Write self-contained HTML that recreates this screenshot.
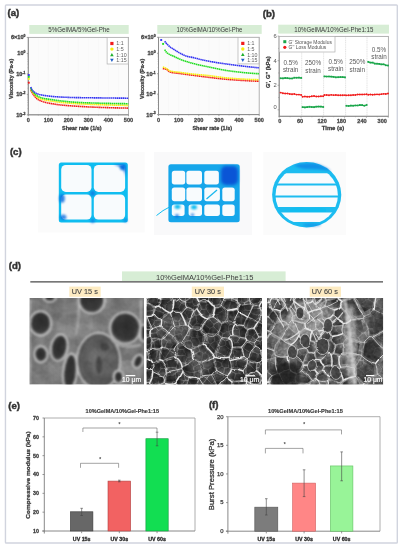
<!DOCTYPE html>
<html><head><meta charset="utf-8"><title>Figure</title>
<style>
html,body{margin:0;padding:0;background:#ffffff;}
body{width:403px;height:550px;overflow:hidden;}
svg{display:block;font-family:'Liberation Sans', Arial, Helvetica, sans-serif;}
</style></head>
<body>
<svg width="403" height="550" viewBox="0 0 403 550">
<rect x="0" y="0" width="403" height="550" fill="#ffffff"/>
<rect x="5.45" y="5.00" width="391.85" height="538.00" fill="none" stroke="#d1d4de" stroke-width="1.4" rx="0.8"/>
<text x="7.60" y="16.20" font-size="9.6" text-anchor="start" font-weight="bold" fill="#333333" stroke="#333333" stroke-width="0.45" >(a)</text>
<text x="262.70" y="16.60" font-size="9.6" text-anchor="start" font-weight="bold" fill="#333333" stroke="#333333" stroke-width="0.45" >(b)</text>
<text x="9.90" y="154.80" font-size="9.6" text-anchor="start" font-weight="bold" fill="#333333" stroke="#333333" stroke-width="0.45" >(c)</text>
<text x="8.80" y="269.20" font-size="9.6" text-anchor="start" font-weight="bold" fill="#333333" stroke="#333333" stroke-width="0.45" >(d)</text>
<text x="8.20" y="408.50" font-size="9.6" text-anchor="start" font-weight="bold" fill="#333333" stroke="#333333" stroke-width="0.45" >(e)</text>
<text x="208.90" y="408.40" font-size="9.6" text-anchor="start" font-weight="bold" fill="#333333" stroke="#333333" stroke-width="0.45" >(f)</text>
<rect x="29.30" y="25.00" width="99.40" height="8.90" fill="#d7edd5" stroke="none" stroke-width="0" />
<text x="79.00" y="32.30" font-size="6.9" text-anchor="middle" font-weight="normal" fill="#3c3c3c" textLength="61.5" lengthAdjust="spacingAndGlyphs">5%GelMA/5%Gel-Phe</text>
<rect x="28.30" y="37.40" width="100.20" height="77.40" fill="#fbfbfb" stroke="none" stroke-width="0" />
<line x1="38.32" y1="37.40" x2="38.32" y2="114.80" stroke="#f6f6f6" stroke-width="0.4" />
<line x1="48.34" y1="37.40" x2="48.34" y2="114.80" stroke="#f6f6f6" stroke-width="0.4" />
<line x1="58.36" y1="37.40" x2="58.36" y2="114.80" stroke="#f6f6f6" stroke-width="0.4" />
<line x1="68.38" y1="37.40" x2="68.38" y2="114.80" stroke="#f6f6f6" stroke-width="0.4" />
<line x1="78.40" y1="37.40" x2="78.40" y2="114.80" stroke="#f6f6f6" stroke-width="0.4" />
<line x1="88.42" y1="37.40" x2="88.42" y2="114.80" stroke="#f6f6f6" stroke-width="0.4" />
<line x1="98.44" y1="37.40" x2="98.44" y2="114.80" stroke="#f6f6f6" stroke-width="0.4" />
<line x1="108.46" y1="37.40" x2="108.46" y2="114.80" stroke="#f6f6f6" stroke-width="0.4" />
<line x1="118.48" y1="37.40" x2="118.48" y2="114.80" stroke="#f6f6f6" stroke-width="0.4" />
<rect x="28.30" y="37.40" width="100.20" height="77.40" fill="none" stroke="#a8a8a8" stroke-width="0.9" />
<line x1="28.30" y1="37.40" x2="28.30" y2="115.30" stroke="#8c8c8c" stroke-width="1.0" />
<line x1="27.80" y1="114.80" x2="128.50" y2="114.80" stroke="#8c8c8c" stroke-width="1.0" />
<line x1="26.80" y1="114.80" x2="28.30" y2="114.80" stroke="#8c8c8c" stroke-width="0.8" />
<text x="25.40" y="116.80" font-size="5.6" text-anchor="end" font-weight="bold" fill="#444444" stroke="#444444" stroke-width="0.32" >10<tspan dy="-2.2" font-size="3.4">-3</tspan></text>
<line x1="26.80" y1="94.35" x2="28.30" y2="94.35" stroke="#8c8c8c" stroke-width="0.8" />
<text x="25.40" y="96.35" font-size="5.6" text-anchor="end" font-weight="bold" fill="#444444" stroke="#444444" stroke-width="0.32" >10<tspan dy="-2.2" font-size="3.4">-2</tspan></text>
<line x1="26.80" y1="73.90" x2="28.30" y2="73.90" stroke="#8c8c8c" stroke-width="0.8" />
<text x="25.40" y="75.90" font-size="5.6" text-anchor="end" font-weight="bold" fill="#444444" stroke="#444444" stroke-width="0.32" >10<tspan dy="-2.2" font-size="3.4">-1</tspan></text>
<line x1="26.80" y1="53.45" x2="28.30" y2="53.45" stroke="#8c8c8c" stroke-width="0.8" />
<text x="25.40" y="55.45" font-size="5.6" text-anchor="end" font-weight="bold" fill="#444444" stroke="#444444" stroke-width="0.32" >10<tspan dy="-2.2" font-size="3.4">0</tspan></text>
<line x1="26.80" y1="37.40" x2="28.30" y2="37.40" stroke="#8c8c8c" stroke-width="0.8" />
<text x="25.40" y="39.40" font-size="5.6" text-anchor="end" font-weight="bold" fill="#444444" stroke="#444444" stroke-width="0.32" >6×10<tspan dy="-2.2" font-size="3.4">0</tspan></text>
<line x1="27.50" y1="108.64" x2="28.30" y2="108.64" stroke="#8c8c8c" stroke-width="0.5" />
<line x1="27.50" y1="105.04" x2="28.30" y2="105.04" stroke="#8c8c8c" stroke-width="0.5" />
<line x1="27.50" y1="102.49" x2="28.30" y2="102.49" stroke="#8c8c8c" stroke-width="0.5" />
<line x1="27.50" y1="100.51" x2="28.30" y2="100.51" stroke="#8c8c8c" stroke-width="0.5" />
<line x1="27.50" y1="98.89" x2="28.30" y2="98.89" stroke="#8c8c8c" stroke-width="0.5" />
<line x1="27.50" y1="97.52" x2="28.30" y2="97.52" stroke="#8c8c8c" stroke-width="0.5" />
<line x1="27.50" y1="96.33" x2="28.30" y2="96.33" stroke="#8c8c8c" stroke-width="0.5" />
<line x1="27.50" y1="95.29" x2="28.30" y2="95.29" stroke="#8c8c8c" stroke-width="0.5" />
<line x1="27.50" y1="88.19" x2="28.30" y2="88.19" stroke="#8c8c8c" stroke-width="0.5" />
<line x1="27.50" y1="84.59" x2="28.30" y2="84.59" stroke="#8c8c8c" stroke-width="0.5" />
<line x1="27.50" y1="82.04" x2="28.30" y2="82.04" stroke="#8c8c8c" stroke-width="0.5" />
<line x1="27.50" y1="80.06" x2="28.30" y2="80.06" stroke="#8c8c8c" stroke-width="0.5" />
<line x1="27.50" y1="78.44" x2="28.30" y2="78.44" stroke="#8c8c8c" stroke-width="0.5" />
<line x1="27.50" y1="77.07" x2="28.30" y2="77.07" stroke="#8c8c8c" stroke-width="0.5" />
<line x1="27.50" y1="75.88" x2="28.30" y2="75.88" stroke="#8c8c8c" stroke-width="0.5" />
<line x1="27.50" y1="74.84" x2="28.30" y2="74.84" stroke="#8c8c8c" stroke-width="0.5" />
<line x1="27.50" y1="67.74" x2="28.30" y2="67.74" stroke="#8c8c8c" stroke-width="0.5" />
<line x1="27.50" y1="64.14" x2="28.30" y2="64.14" stroke="#8c8c8c" stroke-width="0.5" />
<line x1="27.50" y1="61.59" x2="28.30" y2="61.59" stroke="#8c8c8c" stroke-width="0.5" />
<line x1="27.50" y1="59.61" x2="28.30" y2="59.61" stroke="#8c8c8c" stroke-width="0.5" />
<line x1="27.50" y1="57.99" x2="28.30" y2="57.99" stroke="#8c8c8c" stroke-width="0.5" />
<line x1="27.50" y1="56.62" x2="28.30" y2="56.62" stroke="#8c8c8c" stroke-width="0.5" />
<line x1="27.50" y1="55.43" x2="28.30" y2="55.43" stroke="#8c8c8c" stroke-width="0.5" />
<line x1="27.50" y1="54.39" x2="28.30" y2="54.39" stroke="#8c8c8c" stroke-width="0.5" />
<line x1="28.30" y1="114.80" x2="28.30" y2="116.30" stroke="#8c8c8c" stroke-width="0.8" />
<text x="28.30" y="122.40" font-size="5.6" text-anchor="middle" font-weight="bold" fill="#4a4a4a" stroke="#4a4a4a" stroke-width="0.28" >0</text>
<line x1="48.34" y1="114.80" x2="48.34" y2="116.30" stroke="#8c8c8c" stroke-width="0.8" />
<text x="48.34" y="122.40" font-size="5.6" text-anchor="middle" font-weight="bold" fill="#4a4a4a" stroke="#4a4a4a" stroke-width="0.28" >100</text>
<line x1="68.38" y1="114.80" x2="68.38" y2="116.30" stroke="#8c8c8c" stroke-width="0.8" />
<text x="68.38" y="122.40" font-size="5.6" text-anchor="middle" font-weight="bold" fill="#4a4a4a" stroke="#4a4a4a" stroke-width="0.28" >200</text>
<line x1="88.42" y1="114.80" x2="88.42" y2="116.30" stroke="#8c8c8c" stroke-width="0.8" />
<text x="88.42" y="122.40" font-size="5.6" text-anchor="middle" font-weight="bold" fill="#4a4a4a" stroke="#4a4a4a" stroke-width="0.28" >300</text>
<line x1="108.46" y1="114.80" x2="108.46" y2="116.30" stroke="#8c8c8c" stroke-width="0.8" />
<text x="108.46" y="122.40" font-size="5.6" text-anchor="middle" font-weight="bold" fill="#4a4a4a" stroke="#4a4a4a" stroke-width="0.28" >400</text>
<line x1="128.50" y1="114.80" x2="128.50" y2="116.30" stroke="#8c8c8c" stroke-width="0.8" />
<text x="128.50" y="122.40" font-size="5.6" text-anchor="middle" font-weight="bold" fill="#4a4a4a" stroke="#4a4a4a" stroke-width="0.28" >500</text>
<line x1="38.32" y1="114.80" x2="38.32" y2="115.70" stroke="#8c8c8c" stroke-width="0.5" />
<line x1="58.36" y1="114.80" x2="58.36" y2="115.70" stroke="#8c8c8c" stroke-width="0.5" />
<line x1="78.40" y1="114.80" x2="78.40" y2="115.70" stroke="#8c8c8c" stroke-width="0.5" />
<line x1="98.44" y1="114.80" x2="98.44" y2="115.70" stroke="#8c8c8c" stroke-width="0.5" />
<line x1="118.48" y1="114.80" x2="118.48" y2="115.70" stroke="#8c8c8c" stroke-width="0.5" />
<text x="81.80" y="130.20" font-size="5.8" text-anchor="middle" font-weight="bold" fill="#3a3a3a" stroke="#3a3a3a" stroke-width="0.28" textLength="39.6" lengthAdjust="spacingAndGlyphs">Shear rate (1/s)</text>
<text x="0.00" y="0.00" font-size="6.0" text-anchor="middle" font-weight="bold" fill="#3a3a3a" stroke="#3a3a3a" stroke-width="0.28" transform="translate(13.30,78.90) rotate(-90)" textLength="40.4" lengthAdjust="spacingAndGlyphs">Viscosity (Pa·s)</text>
<polyline points="30.70,90.00 31.94,92.23 33.17,94.32 34.41,96.00 35.64,97.43 36.88,98.67 38.11,99.63 39.35,100.30 40.58,100.86 41.82,101.32 43.05,101.72 44.29,102.08 45.53,102.41 46.76,102.70 48.00,102.96 49.23,103.21 50.47,103.44 51.70,103.66 52.94,103.88 54.17,104.09 55.41,104.29 56.64,104.47 57.88,104.64 59.12,104.80 60.35,104.94 61.59,105.07 62.82,105.19 64.06,105.31 65.29,105.42 66.53,105.52 67.76,105.62 69.00,105.72 70.23,105.81 71.47,105.90 72.71,105.99 73.94,106.07 75.18,106.15 76.41,106.23 77.65,106.30 78.88,106.38 80.12,106.45 81.35,106.52 82.59,106.60 83.82,106.67 85.06,106.73 86.29,106.80 87.53,106.86 88.77,106.93 90.00,106.99 91.24,107.05 92.47,107.10 93.71,107.16 94.94,107.21 96.18,107.26 97.41,107.31 98.65,107.35 99.88,107.40 101.12,107.44 102.36,107.48 103.59,107.52 104.83,107.56 106.06,107.60 107.30,107.63 108.53,107.67 109.77,107.71 111.00,107.74 112.24,107.78 113.47,107.81 114.71,107.84 115.95,107.87 117.18,107.90 118.42,107.93 119.65,107.96 120.89,107.98 122.12,108.01 123.36,108.03 124.59,108.05 125.83,108.07 127.06,108.09 128.30,108.10" fill="none" stroke="#f21c1c" stroke-width="1.6" stroke-linejoin="round" stroke-dasharray="1.5 0.45"/>
<polyline points="30.70,89.00 31.94,91.21 33.17,92.99 34.41,94.45 35.64,95.79 36.88,96.96 38.11,97.85 39.35,98.42 40.58,98.88 41.82,99.26 43.05,99.58 44.29,99.87 45.53,100.12 46.76,100.35 48.00,100.56 49.23,100.76 50.47,100.95 51.70,101.14 52.94,101.34 54.17,101.53 55.41,101.71 56.64,101.89 57.88,102.05 59.12,102.20 60.35,102.34 61.59,102.46 62.82,102.58 64.06,102.70 65.29,102.81 66.53,102.92 67.76,103.02 69.00,103.12 70.23,103.21 71.47,103.30 72.71,103.39 73.94,103.47 75.18,103.55 76.41,103.62 77.65,103.70 78.88,103.77 80.12,103.84 81.35,103.90 82.59,103.97 83.82,104.03 85.06,104.09 86.29,104.15 87.53,104.21 88.77,104.27 90.00,104.32 91.24,104.37 92.47,104.43 93.71,104.47 94.94,104.52 96.18,104.57 97.41,104.61 98.65,104.66 99.88,104.70 101.12,104.74 102.36,104.78 103.59,104.81 104.83,104.85 106.06,104.89 107.30,104.93 108.53,104.96 109.77,105.00 111.00,105.03 112.24,105.07 113.47,105.10 114.71,105.13 115.95,105.16 117.18,105.19 118.42,105.22 119.65,105.25 120.89,105.27 122.12,105.30 123.36,105.32 124.59,105.34 125.83,105.36 127.06,105.38 128.30,105.40" fill="none" stroke="#f8ee10" stroke-width="1.6" stroke-linejoin="round" stroke-dasharray="1.5 0.45"/>
<polyline points="30.70,88.00 31.94,90.41 33.17,92.08 34.41,93.42 35.64,94.65 36.88,95.74 38.11,96.56 39.35,97.10 40.58,97.53 41.82,97.89 43.05,98.19 44.29,98.46 45.53,98.70 46.76,98.90 48.00,99.09 49.23,99.27 50.47,99.45 51.70,99.64 52.94,99.82 54.17,100.01 55.41,100.19 56.64,100.37 57.88,100.54 59.12,100.69 60.35,100.84 61.59,100.98 62.82,101.12 64.06,101.26 65.29,101.39 66.53,101.52 67.76,101.65 69.00,101.77 70.23,101.88 71.47,101.98 72.71,102.08 73.94,102.17 75.18,102.25 76.41,102.32 77.65,102.39 78.88,102.45 80.12,102.51 81.35,102.57 82.59,102.63 83.82,102.68 85.06,102.73 86.29,102.78 87.53,102.83 88.77,102.87 90.00,102.91 91.24,102.95 92.47,102.99 93.71,103.03 94.94,103.07 96.18,103.10 97.41,103.13 98.65,103.17 99.88,103.20 101.12,103.23 102.36,103.26 103.59,103.29 104.83,103.31 106.06,103.34 107.30,103.37 108.53,103.40 109.77,103.42 111.00,103.45 112.24,103.47 113.47,103.50 114.71,103.52 115.95,103.54 117.18,103.57 118.42,103.59 119.65,103.60 120.89,103.62 122.12,103.64 123.36,103.65 124.59,103.67 125.83,103.68 127.06,103.69 128.30,103.70" fill="none" stroke="#22dd22" stroke-width="1.6" stroke-linejoin="round" stroke-dasharray="1.5 0.45"/>
<polyline points="30.70,87.00 31.94,89.70 33.17,91.12 34.41,92.10 35.64,92.91 36.88,93.59 38.11,94.11 39.35,94.47 40.58,94.77 41.82,95.02 43.05,95.24 44.29,95.45 45.53,95.64 46.76,95.82 48.00,95.98 49.23,96.13 50.47,96.27 51.70,96.39 52.94,96.50 54.17,96.61 55.41,96.70 56.64,96.79 57.88,96.88 59.12,96.95 60.35,97.02 61.59,97.08 62.82,97.14 64.06,97.20 65.29,97.25 66.53,97.31 67.76,97.36 69.00,97.40 70.23,97.45 71.47,97.49 72.71,97.52 73.94,97.55 75.18,97.58 76.41,97.61 77.65,97.63 78.88,97.65 80.12,97.67 81.35,97.69 82.59,97.71 83.82,97.72 85.06,97.74 86.29,97.75 87.53,97.77 88.77,97.78 90.00,97.80 91.24,97.81 92.47,97.82 93.71,97.83 94.94,97.85 96.18,97.86 97.41,97.87 98.65,97.88 99.88,97.90 101.12,97.91 102.36,97.93 103.59,97.94 104.83,97.95 106.06,97.97 107.30,97.98 108.53,98.00 109.77,98.01 111.00,98.02 112.24,98.04 113.47,98.05 114.71,98.06 115.95,98.08 117.18,98.09 118.42,98.10 119.65,98.11 120.89,98.13 122.12,98.14 123.36,98.15 124.59,98.16 125.83,98.18 127.06,98.19 128.30,98.20" fill="none" stroke="#3333f2" stroke-width="1.6" stroke-linejoin="round" stroke-dasharray="1.5 0.45"/>
<rect x="27.85" y="81.75" width="1.90" height="1.90" fill="#f21c1c"/>
<rect x="27.85" y="77.95" width="1.90" height="1.90" fill="#f8ee10"/>
<rect x="27.85" y="75.85" width="1.90" height="1.90" fill="#22dd22"/>
<rect x="27.85" y="74.05" width="1.90" height="1.90" fill="#3333f2"/>
<rect x="107.10" y="37.60" width="21.10" height="26.40" fill="#ffffff" stroke="#b0b0b0" stroke-width="0.7" />
<rect x="110.30" y="41.90" width="3.20" height="3.20" fill="#f21c1c" stroke="none" stroke-width="0" />
<text x="116.30" y="45.40" font-size="5.3" text-anchor="start" font-weight="normal" fill="#5e5e5e" >1:1</text>
<circle cx="111.90" cy="49.10" r="1.7" fill="#f8ee10"/>
<text x="116.30" y="51.00" font-size="5.3" text-anchor="start" font-weight="normal" fill="#5e5e5e" >1:5</text>
<polygon points="110.10,56.20 113.70,56.20 111.90,52.90" fill="#1fb02f"/>
<text x="116.30" y="56.60" font-size="5.3" text-anchor="start" font-weight="normal" fill="#5e5e5e" >1:10</text>
<polygon points="110.10,58.80 113.70,58.80 111.90,62.10" fill="#1f5fc8"/>
<text x="116.30" y="62.20" font-size="5.3" text-anchor="start" font-weight="normal" fill="#5e5e5e" >1:15</text>
<rect x="157.30" y="25.00" width="104.40" height="8.90" fill="#d7edd5" stroke="none" stroke-width="0" />
<text x="209.50" y="32.30" font-size="6.9" text-anchor="middle" font-weight="normal" fill="#3c3c3c" textLength="65.8" lengthAdjust="spacingAndGlyphs">10%GelMA/10%Gel-Phe</text>
<rect x="158.50" y="37.30" width="100.70" height="77.30" fill="#fbfbfb" stroke="none" stroke-width="0" />
<line x1="168.57" y1="37.30" x2="168.57" y2="114.60" stroke="#f6f6f6" stroke-width="0.4" />
<line x1="178.64" y1="37.30" x2="178.64" y2="114.60" stroke="#f6f6f6" stroke-width="0.4" />
<line x1="188.71" y1="37.30" x2="188.71" y2="114.60" stroke="#f6f6f6" stroke-width="0.4" />
<line x1="198.78" y1="37.30" x2="198.78" y2="114.60" stroke="#f6f6f6" stroke-width="0.4" />
<line x1="208.85" y1="37.30" x2="208.85" y2="114.60" stroke="#f6f6f6" stroke-width="0.4" />
<line x1="218.92" y1="37.30" x2="218.92" y2="114.60" stroke="#f6f6f6" stroke-width="0.4" />
<line x1="228.99" y1="37.30" x2="228.99" y2="114.60" stroke="#f6f6f6" stroke-width="0.4" />
<line x1="239.06" y1="37.30" x2="239.06" y2="114.60" stroke="#f6f6f6" stroke-width="0.4" />
<line x1="249.13" y1="37.30" x2="249.13" y2="114.60" stroke="#f6f6f6" stroke-width="0.4" />
<rect x="158.50" y="37.30" width="100.70" height="77.30" fill="none" stroke="#a8a8a8" stroke-width="0.9" />
<line x1="158.50" y1="37.30" x2="158.50" y2="115.10" stroke="#8c8c8c" stroke-width="1.0" />
<line x1="158.00" y1="114.60" x2="259.20" y2="114.60" stroke="#8c8c8c" stroke-width="1.0" />
<line x1="157.00" y1="114.60" x2="158.50" y2="114.60" stroke="#8c8c8c" stroke-width="0.8" />
<text x="155.60" y="116.60" font-size="5.6" text-anchor="end" font-weight="bold" fill="#444444" stroke="#444444" stroke-width="0.32" >10<tspan dy="-2.2" font-size="3.4">-3</tspan></text>
<line x1="157.00" y1="94.15" x2="158.50" y2="94.15" stroke="#8c8c8c" stroke-width="0.8" />
<text x="155.60" y="96.15" font-size="5.6" text-anchor="end" font-weight="bold" fill="#444444" stroke="#444444" stroke-width="0.32" >10<tspan dy="-2.2" font-size="3.4">-2</tspan></text>
<line x1="157.00" y1="73.70" x2="158.50" y2="73.70" stroke="#8c8c8c" stroke-width="0.8" />
<text x="155.60" y="75.70" font-size="5.6" text-anchor="end" font-weight="bold" fill="#444444" stroke="#444444" stroke-width="0.32" >10<tspan dy="-2.2" font-size="3.4">-1</tspan></text>
<line x1="157.00" y1="53.25" x2="158.50" y2="53.25" stroke="#8c8c8c" stroke-width="0.8" />
<text x="155.60" y="55.25" font-size="5.6" text-anchor="end" font-weight="bold" fill="#444444" stroke="#444444" stroke-width="0.32" >10<tspan dy="-2.2" font-size="3.4">0</tspan></text>
<line x1="157.00" y1="37.30" x2="158.50" y2="37.30" stroke="#8c8c8c" stroke-width="0.8" />
<text x="155.60" y="39.30" font-size="5.6" text-anchor="end" font-weight="bold" fill="#444444" stroke="#444444" stroke-width="0.32" >6×10<tspan dy="-2.2" font-size="3.4">0</tspan></text>
<line x1="157.70" y1="108.44" x2="158.50" y2="108.44" stroke="#8c8c8c" stroke-width="0.5" />
<line x1="157.70" y1="104.84" x2="158.50" y2="104.84" stroke="#8c8c8c" stroke-width="0.5" />
<line x1="157.70" y1="102.29" x2="158.50" y2="102.29" stroke="#8c8c8c" stroke-width="0.5" />
<line x1="157.70" y1="100.31" x2="158.50" y2="100.31" stroke="#8c8c8c" stroke-width="0.5" />
<line x1="157.70" y1="98.69" x2="158.50" y2="98.69" stroke="#8c8c8c" stroke-width="0.5" />
<line x1="157.70" y1="97.32" x2="158.50" y2="97.32" stroke="#8c8c8c" stroke-width="0.5" />
<line x1="157.70" y1="96.13" x2="158.50" y2="96.13" stroke="#8c8c8c" stroke-width="0.5" />
<line x1="157.70" y1="95.09" x2="158.50" y2="95.09" stroke="#8c8c8c" stroke-width="0.5" />
<line x1="157.70" y1="87.99" x2="158.50" y2="87.99" stroke="#8c8c8c" stroke-width="0.5" />
<line x1="157.70" y1="84.39" x2="158.50" y2="84.39" stroke="#8c8c8c" stroke-width="0.5" />
<line x1="157.70" y1="81.84" x2="158.50" y2="81.84" stroke="#8c8c8c" stroke-width="0.5" />
<line x1="157.70" y1="79.86" x2="158.50" y2="79.86" stroke="#8c8c8c" stroke-width="0.5" />
<line x1="157.70" y1="78.24" x2="158.50" y2="78.24" stroke="#8c8c8c" stroke-width="0.5" />
<line x1="157.70" y1="76.87" x2="158.50" y2="76.87" stroke="#8c8c8c" stroke-width="0.5" />
<line x1="157.70" y1="75.68" x2="158.50" y2="75.68" stroke="#8c8c8c" stroke-width="0.5" />
<line x1="157.70" y1="74.64" x2="158.50" y2="74.64" stroke="#8c8c8c" stroke-width="0.5" />
<line x1="157.70" y1="67.54" x2="158.50" y2="67.54" stroke="#8c8c8c" stroke-width="0.5" />
<line x1="157.70" y1="63.94" x2="158.50" y2="63.94" stroke="#8c8c8c" stroke-width="0.5" />
<line x1="157.70" y1="61.39" x2="158.50" y2="61.39" stroke="#8c8c8c" stroke-width="0.5" />
<line x1="157.70" y1="59.41" x2="158.50" y2="59.41" stroke="#8c8c8c" stroke-width="0.5" />
<line x1="157.70" y1="57.79" x2="158.50" y2="57.79" stroke="#8c8c8c" stroke-width="0.5" />
<line x1="157.70" y1="56.42" x2="158.50" y2="56.42" stroke="#8c8c8c" stroke-width="0.5" />
<line x1="157.70" y1="55.23" x2="158.50" y2="55.23" stroke="#8c8c8c" stroke-width="0.5" />
<line x1="157.70" y1="54.19" x2="158.50" y2="54.19" stroke="#8c8c8c" stroke-width="0.5" />
<line x1="158.50" y1="114.60" x2="158.50" y2="116.10" stroke="#8c8c8c" stroke-width="0.8" />
<text x="158.50" y="122.20" font-size="5.6" text-anchor="middle" font-weight="bold" fill="#4a4a4a" stroke="#4a4a4a" stroke-width="0.28" >0</text>
<line x1="178.64" y1="114.60" x2="178.64" y2="116.10" stroke="#8c8c8c" stroke-width="0.8" />
<text x="178.64" y="122.20" font-size="5.6" text-anchor="middle" font-weight="bold" fill="#4a4a4a" stroke="#4a4a4a" stroke-width="0.28" >100</text>
<line x1="198.78" y1="114.60" x2="198.78" y2="116.10" stroke="#8c8c8c" stroke-width="0.8" />
<text x="198.78" y="122.20" font-size="5.6" text-anchor="middle" font-weight="bold" fill="#4a4a4a" stroke="#4a4a4a" stroke-width="0.28" >200</text>
<line x1="218.92" y1="114.60" x2="218.92" y2="116.10" stroke="#8c8c8c" stroke-width="0.8" />
<text x="218.92" y="122.20" font-size="5.6" text-anchor="middle" font-weight="bold" fill="#4a4a4a" stroke="#4a4a4a" stroke-width="0.28" >300</text>
<line x1="239.06" y1="114.60" x2="239.06" y2="116.10" stroke="#8c8c8c" stroke-width="0.8" />
<text x="239.06" y="122.20" font-size="5.6" text-anchor="middle" font-weight="bold" fill="#4a4a4a" stroke="#4a4a4a" stroke-width="0.28" >400</text>
<line x1="259.20" y1="114.60" x2="259.20" y2="116.10" stroke="#8c8c8c" stroke-width="0.8" />
<text x="259.20" y="122.20" font-size="5.6" text-anchor="middle" font-weight="bold" fill="#4a4a4a" stroke="#4a4a4a" stroke-width="0.28" >500</text>
<line x1="168.57" y1="114.60" x2="168.57" y2="115.50" stroke="#8c8c8c" stroke-width="0.5" />
<line x1="188.71" y1="114.60" x2="188.71" y2="115.50" stroke="#8c8c8c" stroke-width="0.5" />
<line x1="208.85" y1="114.60" x2="208.85" y2="115.50" stroke="#8c8c8c" stroke-width="0.5" />
<line x1="228.99" y1="114.60" x2="228.99" y2="115.50" stroke="#8c8c8c" stroke-width="0.5" />
<line x1="249.13" y1="114.60" x2="249.13" y2="115.50" stroke="#8c8c8c" stroke-width="0.5" />
<text x="212.25" y="130.20" font-size="5.8" text-anchor="middle" font-weight="bold" fill="#3a3a3a" stroke="#3a3a3a" stroke-width="0.28" textLength="39.6" lengthAdjust="spacingAndGlyphs">Shear rate (1/s)</text>
<text x="0.00" y="0.00" font-size="6.0" text-anchor="middle" font-weight="bold" fill="#3a3a3a" stroke="#3a3a3a" stroke-width="0.28" transform="translate(143.50,78.90) rotate(-90)" textLength="40.4" lengthAdjust="spacingAndGlyphs">Viscosity (Pa·s)</text>
<polyline points="162.80,68.70 164.02,68.77 165.24,68.95 166.45,69.26 167.67,70.20 168.89,71.33 170.11,72.03 171.32,72.34 172.54,72.60 173.76,72.81 174.98,72.99 176.19,73.14 177.41,73.29 178.63,73.42 179.85,73.57 181.07,73.74 182.28,73.91 183.50,74.07 184.72,74.23 185.94,74.38 187.15,74.54 188.37,74.69 189.59,74.84 190.81,74.99 192.03,75.15 193.24,75.31 194.46,75.47 195.68,75.63 196.90,75.80 198.11,75.96 199.33,76.13 200.55,76.30 201.77,76.46 202.98,76.62 204.20,76.78 205.42,76.93 206.64,77.08 207.86,77.22 209.07,77.37 210.29,77.52 211.51,77.67 212.73,77.82 213.94,77.96 215.16,78.11 216.38,78.25 217.60,78.39 218.82,78.53 220.03,78.67 221.25,78.80 222.47,78.93 223.69,79.05 224.90,79.17 226.12,79.28 227.34,79.39 228.56,79.49 229.77,79.58 230.99,79.67 232.21,79.76 233.43,79.85 234.65,79.94 235.86,80.02 237.08,80.10 238.30,80.19 239.52,80.27 240.73,80.34 241.95,80.42 243.17,80.49 244.39,80.57 245.61,80.64 246.82,80.70 248.04,80.77 249.26,80.83 250.48,80.89 251.69,80.94 252.91,80.99 254.13,81.04 255.35,81.09 256.56,81.13 257.78,81.17 259.00,81.20" fill="none" stroke="#f21c1c" stroke-width="1.6" stroke-linejoin="round" stroke-dasharray="1.5 0.45"/>
<polyline points="162.80,67.00 164.02,67.41 165.24,67.93 166.45,68.56 167.67,69.50 168.89,70.45 170.11,71.03 171.32,71.30 172.54,71.53 173.76,71.71 174.98,71.87 176.19,72.00 177.41,72.12 178.63,72.25 179.85,72.38 181.07,72.54 182.28,72.70 183.50,72.87 184.72,73.03 185.94,73.20 187.15,73.36 188.37,73.52 189.59,73.67 190.81,73.82 192.03,73.97 193.24,74.10 194.46,74.23 195.68,74.35 196.90,74.47 198.11,74.58 199.33,74.68 200.55,74.79 201.77,74.90 202.98,75.01 204.20,75.12 205.42,75.24 206.64,75.37 207.86,75.50 209.07,75.65 210.29,75.80 211.51,75.96 212.73,76.12 213.94,76.28 215.16,76.45 216.38,76.62 217.60,76.79 218.82,76.95 220.03,77.12 221.25,77.28 222.47,77.43 223.69,77.58 224.90,77.72 226.12,77.85 227.34,77.97 228.56,78.08 229.77,78.18 230.99,78.27 232.21,78.36 233.43,78.45 234.65,78.53 235.86,78.62 237.08,78.70 238.30,78.78 239.52,78.86 240.73,78.94 241.95,79.02 243.17,79.09 244.39,79.16 245.61,79.23 246.82,79.29 248.04,79.35 249.26,79.41 250.48,79.46 251.69,79.51 252.91,79.55 254.13,79.59 255.35,79.63 256.56,79.66 257.78,79.68 259.00,79.70" fill="none" stroke="#f8ee10" stroke-width="1.6" stroke-linejoin="round" stroke-dasharray="1.5 0.45"/>
<polyline points="164.70,49.60 165.89,51.66 167.09,52.89 168.28,53.74 169.47,54.42 170.67,55.00 171.86,55.50 173.06,56.00 174.25,56.53 175.44,57.12 176.64,57.71 177.83,58.29 179.02,58.85 180.22,59.36 181.41,59.84 182.61,60.27 183.80,60.68 184.99,61.07 186.19,61.45 187.38,61.82 188.57,62.18 189.77,62.54 190.96,62.89 192.15,63.22 193.35,63.54 194.54,63.85 195.74,64.14 196.93,64.43 198.12,64.71 199.32,64.98 200.51,65.25 201.70,65.51 202.90,65.76 204.09,66.01 205.28,66.25 206.48,66.50 207.67,66.74 208.87,66.99 210.06,67.25 211.25,67.50 212.45,67.76 213.64,68.01 214.83,68.27 216.03,68.52 217.22,68.77 218.42,69.01 219.61,69.26 220.80,69.49 222.00,69.72 223.19,69.94 224.38,70.15 225.58,70.35 226.77,70.54 227.96,70.72 229.16,70.89 230.35,71.04 231.55,71.19 232.74,71.34 233.93,71.49 235.13,71.63 236.32,71.78 237.51,71.92 238.71,72.05 239.90,72.19 241.09,72.32 242.29,72.44 243.48,72.57 244.68,72.68 245.87,72.80 247.06,72.91 248.26,73.01 249.45,73.11 250.64,73.21 251.84,73.30 253.03,73.38 254.23,73.46 255.42,73.53 256.61,73.59 257.81,73.65 259.00,73.70" fill="none" stroke="#22dd22" stroke-width="1.6" stroke-linejoin="round" stroke-dasharray="1.5 0.45"/>
<polyline points="164.70,41.20 165.89,42.75 167.09,44.17 168.28,45.39 169.47,46.41 170.67,47.32 171.86,48.14 173.06,48.91 174.25,49.67 175.44,50.44 176.64,51.20 177.83,51.94 179.02,52.64 180.22,53.30 181.41,53.91 182.61,54.50 183.80,55.07 184.99,55.60 186.19,56.05 187.38,56.40 188.57,56.69 189.77,56.93 190.96,57.15 192.15,57.38 193.35,57.63 194.54,57.93 195.74,58.24 196.93,58.56 198.12,58.88 199.32,59.18 200.51,59.47 201.70,59.76 202.90,60.04 204.09,60.30 205.28,60.56 206.48,60.79 207.67,61.02 208.87,61.24 210.06,61.45 211.25,61.67 212.45,61.87 213.64,62.08 214.83,62.27 216.03,62.47 217.22,62.66 218.42,62.84 219.61,63.03 220.80,63.21 222.00,63.38 223.19,63.56 224.38,63.73 225.58,63.90 226.77,64.06 227.96,64.23 229.16,64.39 230.35,64.55 231.55,64.70 232.74,64.86 233.93,65.02 235.13,65.17 236.32,65.32 237.51,65.47 238.71,65.62 239.90,65.76 241.09,65.91 242.29,66.05 243.48,66.19 244.68,66.33 245.87,66.46 247.06,66.60 248.26,66.73 249.45,66.86 250.64,66.99 251.84,67.11 253.03,67.23 254.23,67.35 255.42,67.47 256.61,67.58 257.81,67.69 259.00,67.80" fill="none" stroke="#3333f2" stroke-width="1.6" stroke-linejoin="round" stroke-dasharray="1.5 0.45"/>
<rect x="160.25" y="39.05" width="1.90" height="1.90" fill="#3333f2"/>
<rect x="162.15" y="42.95" width="1.90" height="1.90" fill="#22dd22"/>
<rect x="238.00" y="37.50" width="21.00" height="26.40" fill="#ffffff" stroke="#b0b0b0" stroke-width="0.7" />
<rect x="241.20" y="41.80" width="3.20" height="3.20" fill="#f21c1c" stroke="none" stroke-width="0" />
<text x="247.20" y="45.30" font-size="5.3" text-anchor="start" font-weight="normal" fill="#5e5e5e" >1:1</text>
<circle cx="242.80" cy="49.00" r="1.7" fill="#f8ee10"/>
<text x="247.20" y="50.90" font-size="5.3" text-anchor="start" font-weight="normal" fill="#5e5e5e" >1:5</text>
<polygon points="241.00,56.10 244.60,56.10 242.80,52.80" fill="#1fb02f"/>
<text x="247.20" y="56.50" font-size="5.3" text-anchor="start" font-weight="normal" fill="#5e5e5e" >1:10</text>
<polygon points="241.00,58.70 244.60,58.70 242.80,62.00" fill="#1f5fc8"/>
<text x="247.20" y="62.10" font-size="5.3" text-anchor="start" font-weight="normal" fill="#5e5e5e" >1:15</text>
<rect x="278.20" y="24.70" width="110.80" height="8.90" fill="#d7edd5" stroke="none" stroke-width="0" />
<text x="333.80" y="32.00" font-size="6.9" text-anchor="middle" font-weight="normal" fill="#3c3c3c" textLength="79" lengthAdjust="spacingAndGlyphs">10%GelMA/10%Gel-Phe1:15</text>
<rect x="279.20" y="36.40" width="109.20" height="79.90" fill="#ffffff" stroke="none" stroke-width="0" />
<line x1="301.70" y1="36.40" x2="301.70" y2="116.30" stroke="#d9d9d9" stroke-width="0.7" stroke-dasharray="1.2,0.6"/>
<line x1="323.60" y1="36.40" x2="323.60" y2="116.30" stroke="#d9d9d9" stroke-width="0.7" stroke-dasharray="1.2,0.6"/>
<line x1="345.60" y1="36.40" x2="345.60" y2="116.30" stroke="#d9d9d9" stroke-width="0.7" stroke-dasharray="1.2,0.6"/>
<line x1="367.00" y1="36.40" x2="367.00" y2="116.30" stroke="#d9d9d9" stroke-width="0.7" stroke-dasharray="1.2,0.6"/>
<rect x="279.20" y="36.40" width="109.20" height="79.90" fill="none" stroke="#a8a8a8" stroke-width="0.9" />
<line x1="279.20" y1="36.40" x2="279.20" y2="116.80" stroke="#8c8c8c" stroke-width="1.0" />
<line x1="278.70" y1="116.30" x2="388.40" y2="116.30" stroke="#8c8c8c" stroke-width="1.0" />
<line x1="277.60" y1="109.80" x2="279.20" y2="109.80" stroke="#8c8c8c" stroke-width="0.7" />
<line x1="278.30" y1="97.52" x2="279.20" y2="97.52" stroke="#8c8c8c" stroke-width="0.7" />
<line x1="277.60" y1="85.24" x2="279.20" y2="85.24" stroke="#8c8c8c" stroke-width="0.7" />
<line x1="278.30" y1="72.96" x2="279.20" y2="72.96" stroke="#8c8c8c" stroke-width="0.7" />
<line x1="277.60" y1="60.68" x2="279.20" y2="60.68" stroke="#8c8c8c" stroke-width="0.7" />
<line x1="278.30" y1="48.40" x2="279.20" y2="48.40" stroke="#8c8c8c" stroke-width="0.7" />
<line x1="277.60" y1="36.12" x2="279.20" y2="36.12" stroke="#8c8c8c" stroke-width="0.7" />
<text x="275.00" y="109.30" font-size="5.8" text-anchor="middle" font-weight="normal" fill="#555" >0</text>
<text x="275.00" y="87.24" font-size="5.8" text-anchor="middle" font-weight="normal" fill="#555" >2</text>
<text x="275.00" y="62.68" font-size="5.8" text-anchor="middle" font-weight="normal" fill="#555" >4</text>
<text x="275.00" y="38.12" font-size="5.8" text-anchor="middle" font-weight="normal" fill="#555" >6</text>
<line x1="279.20" y1="116.30" x2="279.20" y2="117.80" stroke="#8c8c8c" stroke-width="0.7" />
<line x1="290.10" y1="116.30" x2="290.10" y2="117.20" stroke="#8c8c8c" stroke-width="0.7" />
<line x1="301.00" y1="116.30" x2="301.00" y2="117.80" stroke="#8c8c8c" stroke-width="0.7" />
<line x1="311.90" y1="116.30" x2="311.90" y2="117.20" stroke="#8c8c8c" stroke-width="0.7" />
<line x1="322.80" y1="116.30" x2="322.80" y2="117.80" stroke="#8c8c8c" stroke-width="0.7" />
<line x1="333.70" y1="116.30" x2="333.70" y2="117.20" stroke="#8c8c8c" stroke-width="0.7" />
<line x1="344.60" y1="116.30" x2="344.60" y2="117.80" stroke="#8c8c8c" stroke-width="0.7" />
<line x1="355.50" y1="116.30" x2="355.50" y2="117.20" stroke="#8c8c8c" stroke-width="0.7" />
<line x1="366.40" y1="116.30" x2="366.40" y2="117.80" stroke="#8c8c8c" stroke-width="0.7" />
<line x1="377.30" y1="116.30" x2="377.30" y2="117.20" stroke="#8c8c8c" stroke-width="0.7" />
<line x1="388.20" y1="116.30" x2="388.20" y2="117.80" stroke="#8c8c8c" stroke-width="0.7" />
<text x="279.70" y="123.10" font-size="5.6" text-anchor="middle" font-weight="bold" fill="#4a4a4a" stroke="#4a4a4a" stroke-width="0.28" >0</text>
<text x="300.00" y="123.10" font-size="5.6" text-anchor="middle" font-weight="bold" fill="#4a4a4a" stroke="#4a4a4a" stroke-width="0.28" >60</text>
<text x="322.10" y="123.10" font-size="5.6" text-anchor="middle" font-weight="bold" fill="#4a4a4a" stroke="#4a4a4a" stroke-width="0.28" >120</text>
<text x="341.40" y="123.10" font-size="5.6" text-anchor="middle" font-weight="bold" fill="#4a4a4a" stroke="#4a4a4a" stroke-width="0.28" >180</text>
<text x="362.00" y="123.10" font-size="5.6" text-anchor="middle" font-weight="bold" fill="#4a4a4a" stroke="#4a4a4a" stroke-width="0.28" >240</text>
<text x="382.20" y="123.10" font-size="5.6" text-anchor="middle" font-weight="bold" fill="#4a4a4a" stroke="#4a4a4a" stroke-width="0.28" >300</text>
<text x="333.00" y="129.70" font-size="5.9" text-anchor="middle" font-weight="bold" fill="#3a3a3a" stroke="#3a3a3a" stroke-width="0.28" >Time (s)</text>
<text x="0.00" y="0.00" font-size="5.6" text-anchor="middle" font-weight="bold" fill="#3a3a3a" stroke="#3a3a3a" stroke-width="0.28" transform="translate(270.3,72.2) rotate(-90)" textLength="31.6" lengthAdjust="spacingAndGlyphs">G', G'' (kPa)</text>
<rect x="279.20" y="36.40" width="55.80" height="15.60" fill="#ffffff" stroke="#b0b0b0" stroke-width="0.7" />
<rect x="283.30" y="40.20" width="3.00" height="3.00" fill="#1aa64a" stroke="none" stroke-width="0" />
<circle cx="284.8" cy="47.3" r="1.6" fill="#f01a1a"/>
<text x="288.60" y="43.60" font-size="5.3" text-anchor="start" font-weight="normal" fill="#555" textLength="43.3" lengthAdjust="spacingAndGlyphs">G' Storage Modulus</text>
<text x="288.60" y="49.20" font-size="5.3" text-anchor="start" font-weight="normal" fill="#555" textLength="37.7" lengthAdjust="spacingAndGlyphs">G'' Loss Modulus</text>
<text x="290.60" y="64.60" font-size="6.3" text-anchor="middle" font-weight="normal" fill="#5a5a5a" >0.5%</text>
<text x="290.60" y="71.80" font-size="6.3" text-anchor="middle" font-weight="normal" fill="#5a5a5a" >strain</text>
<text x="313.00" y="65.40" font-size="6.3" text-anchor="middle" font-weight="normal" fill="#5a5a5a" >250%</text>
<text x="313.00" y="72.60" font-size="6.3" text-anchor="middle" font-weight="normal" fill="#5a5a5a" >strain</text>
<text x="335.70" y="63.90" font-size="6.3" text-anchor="middle" font-weight="normal" fill="#5a5a5a" >0.5%</text>
<text x="335.70" y="71.10" font-size="6.3" text-anchor="middle" font-weight="normal" fill="#5a5a5a" >strain</text>
<text x="357.30" y="64.40" font-size="6.3" text-anchor="middle" font-weight="normal" fill="#5a5a5a" >250%</text>
<text x="357.30" y="71.60" font-size="6.3" text-anchor="middle" font-weight="normal" fill="#5a5a5a" >strain</text>
<text x="379.00" y="51.80" font-size="6.3" text-anchor="middle" font-weight="normal" fill="#5a5a5a" >0.5%</text>
<text x="379.00" y="59.00" font-size="6.3" text-anchor="middle" font-weight="normal" fill="#5a5a5a" >strain</text>
<polyline points="280.60,78.25 282.89,78.37 285.18,77.97 287.47,78.14 289.76,78.46 292.04,78.45 294.33,77.73 296.62,77.78 298.91,77.62 301.20,77.95" fill="none" stroke="#1aa64a" stroke-width="1.1"/>
<rect x="279.70" y="77.35" width="1.80" height="1.80" fill="#1aa64a" stroke="none" stroke-width="0" />
<rect x="281.99" y="77.47" width="1.80" height="1.80" fill="#1aa64a" stroke="none" stroke-width="0" />
<rect x="284.28" y="77.07" width="1.80" height="1.80" fill="#1aa64a" stroke="none" stroke-width="0" />
<rect x="286.57" y="77.24" width="1.80" height="1.80" fill="#1aa64a" stroke="none" stroke-width="0" />
<rect x="288.86" y="77.56" width="1.80" height="1.80" fill="#1aa64a" stroke="none" stroke-width="0" />
<rect x="291.14" y="77.55" width="1.80" height="1.80" fill="#1aa64a" stroke="none" stroke-width="0" />
<rect x="293.43" y="76.83" width="1.80" height="1.80" fill="#1aa64a" stroke="none" stroke-width="0" />
<rect x="295.72" y="76.88" width="1.80" height="1.80" fill="#1aa64a" stroke="none" stroke-width="0" />
<rect x="298.01" y="76.72" width="1.80" height="1.80" fill="#1aa64a" stroke="none" stroke-width="0" />
<rect x="300.30" y="77.05" width="1.80" height="1.80" fill="#1aa64a" stroke="none" stroke-width="0" />
<polyline points="280.60,92.62 282.89,93.19 285.18,93.56 287.47,93.49 289.76,94.03 292.04,94.18 294.33,93.95 296.62,94.60 298.91,94.59 301.20,94.93" fill="none" stroke="#f01a1a" stroke-width="0.9"/>
<circle cx="280.60" cy="92.62" r="0.95" fill="#f01a1a"/>
<circle cx="282.89" cy="93.19" r="0.95" fill="#f01a1a"/>
<circle cx="285.18" cy="93.56" r="0.95" fill="#f01a1a"/>
<circle cx="287.47" cy="93.49" r="0.95" fill="#f01a1a"/>
<circle cx="289.76" cy="94.03" r="0.95" fill="#f01a1a"/>
<circle cx="292.04" cy="94.18" r="0.95" fill="#f01a1a"/>
<circle cx="294.33" cy="93.95" r="0.95" fill="#f01a1a"/>
<circle cx="296.62" cy="94.60" r="0.95" fill="#f01a1a"/>
<circle cx="298.91" cy="94.59" r="0.95" fill="#f01a1a"/>
<circle cx="301.20" cy="94.93" r="0.95" fill="#f01a1a"/>
<polyline points="302.60,107.11 304.89,107.40 307.18,107.09 309.47,106.76 311.76,107.03 314.04,107.16 316.33,106.66 318.62,106.51 320.91,106.58 323.20,106.99" fill="none" stroke="#1aa64a" stroke-width="1.1"/>
<rect x="301.70" y="106.21" width="1.80" height="1.80" fill="#1aa64a" stroke="none" stroke-width="0" />
<rect x="303.99" y="106.50" width="1.80" height="1.80" fill="#1aa64a" stroke="none" stroke-width="0" />
<rect x="306.28" y="106.19" width="1.80" height="1.80" fill="#1aa64a" stroke="none" stroke-width="0" />
<rect x="308.57" y="105.86" width="1.80" height="1.80" fill="#1aa64a" stroke="none" stroke-width="0" />
<rect x="310.86" y="106.13" width="1.80" height="1.80" fill="#1aa64a" stroke="none" stroke-width="0" />
<rect x="313.14" y="106.26" width="1.80" height="1.80" fill="#1aa64a" stroke="none" stroke-width="0" />
<rect x="315.43" y="105.76" width="1.80" height="1.80" fill="#1aa64a" stroke="none" stroke-width="0" />
<rect x="317.72" y="105.61" width="1.80" height="1.80" fill="#1aa64a" stroke="none" stroke-width="0" />
<rect x="320.01" y="105.68" width="1.80" height="1.80" fill="#1aa64a" stroke="none" stroke-width="0" />
<rect x="322.30" y="106.09" width="1.80" height="1.80" fill="#1aa64a" stroke="none" stroke-width="0" />
<polyline points="302.60,96.78 304.89,96.54 307.18,96.72 309.47,96.68 311.76,96.30 314.04,96.07 316.33,96.52 318.62,96.45 320.91,96.29 323.20,96.18" fill="none" stroke="#f01a1a" stroke-width="0.9"/>
<circle cx="302.60" cy="96.78" r="0.95" fill="#f01a1a"/>
<circle cx="304.89" cy="96.54" r="0.95" fill="#f01a1a"/>
<circle cx="307.18" cy="96.72" r="0.95" fill="#f01a1a"/>
<circle cx="309.47" cy="96.68" r="0.95" fill="#f01a1a"/>
<circle cx="311.76" cy="96.30" r="0.95" fill="#f01a1a"/>
<circle cx="314.04" cy="96.07" r="0.95" fill="#f01a1a"/>
<circle cx="316.33" cy="96.52" r="0.95" fill="#f01a1a"/>
<circle cx="318.62" cy="96.45" r="0.95" fill="#f01a1a"/>
<circle cx="320.91" cy="96.29" r="0.95" fill="#f01a1a"/>
<circle cx="323.20" cy="96.18" r="0.95" fill="#f01a1a"/>
<polyline points="324.40,76.42 326.69,76.57 328.98,76.49 331.27,76.61 333.56,76.86 335.84,77.32 338.13,77.18 340.42,77.01 342.71,77.10 345.00,77.36" fill="none" stroke="#1aa64a" stroke-width="1.1"/>
<rect x="323.50" y="75.52" width="1.80" height="1.80" fill="#1aa64a" stroke="none" stroke-width="0" />
<rect x="325.79" y="75.67" width="1.80" height="1.80" fill="#1aa64a" stroke="none" stroke-width="0" />
<rect x="328.08" y="75.59" width="1.80" height="1.80" fill="#1aa64a" stroke="none" stroke-width="0" />
<rect x="330.37" y="75.71" width="1.80" height="1.80" fill="#1aa64a" stroke="none" stroke-width="0" />
<rect x="332.66" y="75.96" width="1.80" height="1.80" fill="#1aa64a" stroke="none" stroke-width="0" />
<rect x="334.94" y="76.42" width="1.80" height="1.80" fill="#1aa64a" stroke="none" stroke-width="0" />
<rect x="337.23" y="76.28" width="1.80" height="1.80" fill="#1aa64a" stroke="none" stroke-width="0" />
<rect x="339.52" y="76.11" width="1.80" height="1.80" fill="#1aa64a" stroke="none" stroke-width="0" />
<rect x="341.81" y="76.20" width="1.80" height="1.80" fill="#1aa64a" stroke="none" stroke-width="0" />
<rect x="344.10" y="76.46" width="1.80" height="1.80" fill="#1aa64a" stroke="none" stroke-width="0" />
<polyline points="324.40,95.06 326.69,95.03 328.98,95.24 331.27,94.87 333.56,95.15 335.84,95.02 338.13,95.27 340.42,95.26 342.71,95.19 345.00,95.15" fill="none" stroke="#f01a1a" stroke-width="0.9"/>
<circle cx="324.40" cy="95.06" r="0.95" fill="#f01a1a"/>
<circle cx="326.69" cy="95.03" r="0.95" fill="#f01a1a"/>
<circle cx="328.98" cy="95.24" r="0.95" fill="#f01a1a"/>
<circle cx="331.27" cy="94.87" r="0.95" fill="#f01a1a"/>
<circle cx="333.56" cy="95.15" r="0.95" fill="#f01a1a"/>
<circle cx="335.84" cy="95.02" r="0.95" fill="#f01a1a"/>
<circle cx="338.13" cy="95.27" r="0.95" fill="#f01a1a"/>
<circle cx="340.42" cy="95.26" r="0.95" fill="#f01a1a"/>
<circle cx="342.71" cy="95.19" r="0.95" fill="#f01a1a"/>
<circle cx="345.00" cy="95.15" r="0.95" fill="#f01a1a"/>
<polyline points="346.40,105.79 348.64,105.97 350.89,105.60 353.13,105.73 355.38,105.43 357.62,105.46 359.87,105.04 362.11,105.12 364.36,105.70 366.60,104.96" fill="none" stroke="#1aa64a" stroke-width="1.1"/>
<rect x="345.50" y="104.89" width="1.80" height="1.80" fill="#1aa64a" stroke="none" stroke-width="0" />
<rect x="347.74" y="105.07" width="1.80" height="1.80" fill="#1aa64a" stroke="none" stroke-width="0" />
<rect x="349.99" y="104.70" width="1.80" height="1.80" fill="#1aa64a" stroke="none" stroke-width="0" />
<rect x="352.23" y="104.83" width="1.80" height="1.80" fill="#1aa64a" stroke="none" stroke-width="0" />
<rect x="354.48" y="104.53" width="1.80" height="1.80" fill="#1aa64a" stroke="none" stroke-width="0" />
<rect x="356.72" y="104.56" width="1.80" height="1.80" fill="#1aa64a" stroke="none" stroke-width="0" />
<rect x="358.97" y="104.14" width="1.80" height="1.80" fill="#1aa64a" stroke="none" stroke-width="0" />
<rect x="361.21" y="104.22" width="1.80" height="1.80" fill="#1aa64a" stroke="none" stroke-width="0" />
<rect x="363.46" y="104.80" width="1.80" height="1.80" fill="#1aa64a" stroke="none" stroke-width="0" />
<rect x="365.70" y="104.06" width="1.80" height="1.80" fill="#1aa64a" stroke="none" stroke-width="0" />
<polyline points="346.40,95.35 348.64,95.25 350.89,95.25 353.13,94.98 355.38,95.01 357.62,94.52 359.87,94.46 362.11,94.49 364.36,94.39 366.60,94.28" fill="none" stroke="#f01a1a" stroke-width="0.9"/>
<circle cx="346.40" cy="95.35" r="0.95" fill="#f01a1a"/>
<circle cx="348.64" cy="95.25" r="0.95" fill="#f01a1a"/>
<circle cx="350.89" cy="95.25" r="0.95" fill="#f01a1a"/>
<circle cx="353.13" cy="94.98" r="0.95" fill="#f01a1a"/>
<circle cx="355.38" cy="95.01" r="0.95" fill="#f01a1a"/>
<circle cx="357.62" cy="94.52" r="0.95" fill="#f01a1a"/>
<circle cx="359.87" cy="94.46" r="0.95" fill="#f01a1a"/>
<circle cx="362.11" cy="94.49" r="0.95" fill="#f01a1a"/>
<circle cx="364.36" cy="94.39" r="0.95" fill="#f01a1a"/>
<circle cx="366.60" cy="94.28" r="0.95" fill="#f01a1a"/>
<polyline points="368.20,61.87 370.40,62.58 372.60,62.59 374.80,63.61 377.00,63.70 379.20,63.90 381.40,64.39 383.60,64.32 385.80,65.25 388.00,65.51" fill="none" stroke="#1aa64a" stroke-width="1.1"/>
<rect x="367.30" y="60.97" width="1.80" height="1.80" fill="#1aa64a" stroke="none" stroke-width="0" />
<rect x="369.50" y="61.68" width="1.80" height="1.80" fill="#1aa64a" stroke="none" stroke-width="0" />
<rect x="371.70" y="61.69" width="1.80" height="1.80" fill="#1aa64a" stroke="none" stroke-width="0" />
<rect x="373.90" y="62.71" width="1.80" height="1.80" fill="#1aa64a" stroke="none" stroke-width="0" />
<rect x="376.10" y="62.80" width="1.80" height="1.80" fill="#1aa64a" stroke="none" stroke-width="0" />
<rect x="378.30" y="63.00" width="1.80" height="1.80" fill="#1aa64a" stroke="none" stroke-width="0" />
<rect x="380.50" y="63.49" width="1.80" height="1.80" fill="#1aa64a" stroke="none" stroke-width="0" />
<rect x="382.70" y="63.42" width="1.80" height="1.80" fill="#1aa64a" stroke="none" stroke-width="0" />
<rect x="384.90" y="64.35" width="1.80" height="1.80" fill="#1aa64a" stroke="none" stroke-width="0" />
<rect x="387.10" y="64.61" width="1.80" height="1.80" fill="#1aa64a" stroke="none" stroke-width="0" />
<polyline points="368.20,94.78 370.40,94.50 372.60,94.70 374.80,94.53 377.00,94.37 379.20,94.49 381.40,94.17 383.60,93.87 385.80,93.93 388.00,93.56" fill="none" stroke="#f01a1a" stroke-width="0.9"/>
<circle cx="368.20" cy="94.78" r="0.95" fill="#f01a1a"/>
<circle cx="370.40" cy="94.50" r="0.95" fill="#f01a1a"/>
<circle cx="372.60" cy="94.70" r="0.95" fill="#f01a1a"/>
<circle cx="374.80" cy="94.53" r="0.95" fill="#f01a1a"/>
<circle cx="377.00" cy="94.37" r="0.95" fill="#f01a1a"/>
<circle cx="379.20" cy="94.49" r="0.95" fill="#f01a1a"/>
<circle cx="381.40" cy="94.17" r="0.95" fill="#f01a1a"/>
<circle cx="383.60" cy="93.87" r="0.95" fill="#f01a1a"/>
<circle cx="385.80" cy="93.93" r="0.95" fill="#f01a1a"/>
<circle cx="388.00" cy="93.56" r="0.95" fill="#f01a1a"/>
<defs><filter id="soft" color-interpolation-filters="sRGB" x="-10%" y="-10%" width="120%" height="120%"><feGaussianBlur stdDeviation="0.45"/></filter><filter id="soft2" color-interpolation-filters="sRGB" x="-10%" y="-10%" width="120%" height="120%"><feGaussianBlur stdDeviation="0.9"/></filter><filter id="soft3" color-interpolation-filters="sRGB" x="-30%" y="-30%" width="160%" height="160%"><feGaussianBlur stdDeviation="1.6"/></filter></defs>
<rect x="38.20" y="152.00" width="106.50" height="80.50" fill="#fbfbfb" stroke="none" stroke-width="0" />
<rect x="154.00" y="152.00" width="98.00" height="83.00" fill="#f9f9fa" stroke="none" stroke-width="0" />
<rect x="263.30" y="152.00" width="82.50" height="83.00" fill="#fbfbfb" stroke="none" stroke-width="0" />
<g filter="url(#soft)">
<rect x="58.8" y="162.6" width="69.0" height="59.8" rx="2.5" fill="#10bdf0"/>
<rect x="61.2" y="164.9" width="30.30" height="27.00" rx="4.6" fill="#f8fbfd"/>
<rect x="93.8" y="164.9" width="31.30" height="27.00" rx="4.6" fill="#f8fbfd"/>
<rect x="61.2" y="194.5" width="30.30" height="25.10" rx="4.6" fill="#f8fbfd"/>
<rect x="93.8" y="194.5" width="31.30" height="25.10" rx="4.6" fill="#f8fbfd"/>
</g>
<g filter="url(#soft2)">
<path d="M113.5,164.4 L125.8,164.4 L125.8,177.5 Q125,170 121,167.5 Q118,165.5 113.5,164.4 Z" fill="#0b6ee0"/>
<circle cx="122.8" cy="167.3" r="3.0" fill="#0b6ee0"/>
<ellipse cx="62.0" cy="198.5" rx="2.8" ry="4.2" fill="#0b6ee0" opacity="0.85"/>
<ellipse cx="63.2" cy="217.2" rx="3.2" ry="2.6" fill="#0b6ee0" opacity="0.8"/>
<circle cx="92.7" cy="193.3" r="2.6" fill="#0b6ee0" opacity="0.7"/>
<circle cx="92.7" cy="221" r="2.2" fill="#0b6ee0" opacity="0.6"/>
<circle cx="125.5" cy="220.5" r="2.0" fill="#0b6ee0" opacity="0.5"/>
</g>
<g filter="url(#soft)">
<rect x="168.4" y="164.3" width="71.3" height="58.0" rx="2.5" fill="#16a6ea"/>
<rect x="171.8" y="170.8" width="13.4" height="13.6" rx="2.6" fill="#f8fbfd"/>
<rect x="186.4" y="170.8" width="15.6" height="13.6" rx="2.6" fill="#f8fbfd"/>
<rect x="204.3" y="170.8" width="14.6" height="13.6" rx="2.6" fill="#f8fbfd"/>
<rect x="171.8" y="187.6" width="13.4" height="13.6" rx="2.6" fill="#f8fbfd"/>
<rect x="186.4" y="187.6" width="15.6" height="13.6" rx="2.6" fill="#f8fbfd"/>
<rect x="204.3" y="187.6" width="15.6" height="13.6" rx="2.6" fill="#f8fbfd"/>
<rect x="222.3" y="187.6" width="12.4" height="13.6" rx="2.6" fill="#f8fbfd"/>
<rect x="171.8" y="204.5" width="12.8" height="11.4" rx="2.6" fill="#f8fbfd"/>
<rect x="188.6" y="204.5" width="13.4" height="11.4" rx="2.6" fill="#f8fbfd"/>
<rect x="204.3" y="204.5" width="15.6" height="11.4" rx="2.6" fill="#f8fbfd"/>
<rect x="222.3" y="204.5" width="12.4" height="11.4" rx="2.6" fill="#f8fbfd"/>
<line x1="206.5" y1="199" x2="217" y2="190" stroke="#1ab8ee" stroke-width="1.3"/>
<path d="M169.5,207 Q163,210 156.5,215.5" stroke="#10bdf0" stroke-width="1.0" fill="none"/>
</g>
<g filter="url(#soft3)">
<rect x="221.0" y="166.0" width="17.0" height="19.0" rx="5" fill="#0a55d6"/>
</g>
<g filter="url(#soft2)">
<circle cx="177" cy="216" r="2.0" fill="#0b6ee0" opacity="0.8"/>
<circle cx="192.5" cy="215" r="1.8" fill="#0b6ee0" opacity="0.7"/>
<ellipse cx="177.5" cy="206.8" rx="3" ry="2.2" fill="#10bdf0"/>
<ellipse cx="194" cy="207.2" rx="3" ry="2.2" fill="#10bdf0"/>
</g>
<g filter="url(#soft)">
<ellipse cx="306.7" cy="194.8" rx="34.6" ry="32.8" fill="#1cbcf0"/>
<clipPath id="inner3"><ellipse cx="306.7" cy="195.2" rx="31.2" ry="29.6"/></clipPath>
<g clip-path="url(#inner3)">
<rect x="268" y="173.3" width="78" height="10.3" rx="3" fill="#f8fbfd"/>
<rect x="268" y="185.6" width="78" height="10.0" rx="3" fill="#f8fbfd"/>
<rect x="268" y="197.6" width="78" height="9.3" rx="3" fill="#f8fbfd"/>
<rect x="268" y="212.4" width="78" height="9.6" rx="3" fill="#f8fbfd"/>
</g>
<path d="M290,208.8 Q300,205.8 306,208.3 Q318,206.8 326,208.8 L326,212 L290,212 Z" fill="#10bdf0"/>
</g>
<g filter="url(#soft2)">
<path d="M294,165 Q304,162.5 316,163.5 Q326,166 331,171 Q318,168.5 306,169 Q298,168 294,165 Z" fill="#0b6ee0" opacity="0.55"/>
<ellipse cx="312" cy="225" rx="9" ry="1.8" fill="#0b6ee0" opacity="0.4"/>
</g>
<rect x="122.00" y="271.40" width="163.60" height="9.60" fill="#d7edd5" stroke="none" stroke-width="0" />
<text x="204.70" y="279.60" font-size="7.5" text-anchor="middle" font-weight="normal" fill="#3c3c3c" textLength="97.4" lengthAdjust="spacingAndGlyphs">10%GelMA/10%Gel-Phe1:15</text>
<line x1="30.30" y1="281.90" x2="383.00" y2="281.90" stroke="#4a4a4a" stroke-width="1.2" />
<rect x="69.30" y="286.60" width="31.40" height="10.20" fill="#fdebc2" stroke="none" stroke-width="0" />
<text x="84.80" y="294.40" font-size="7.2" text-anchor="middle" font-weight="normal" fill="#444" stroke="#444" stroke-width="0.12" textLength="26" lengthAdjust="spacingAndGlyphs">UV 15 s</text>
<rect x="191.80" y="286.60" width="32.20" height="10.20" fill="#fdebc2" stroke="none" stroke-width="0" />
<text x="207.80" y="294.40" font-size="7.2" text-anchor="middle" font-weight="normal" fill="#444" stroke="#444" stroke-width="0.12" textLength="26" lengthAdjust="spacingAndGlyphs">UV 30 s</text>
<rect x="309.70" y="286.60" width="31.30" height="10.20" fill="#fdebc2" stroke="none" stroke-width="0" />
<text x="324.80" y="294.40" font-size="7.2" text-anchor="middle" font-weight="normal" fill="#444" stroke="#444" stroke-width="0.12" textLength="26" lengthAdjust="spacingAndGlyphs">UV 60 s</text>
<clipPath id="clipS1"><rect x="29.4" y="297.9" width="114.60" height="86.70"/></clipPath>
<defs><radialGradient id="pore" cx="50%" cy="45%" r="55%"><stop offset="0" stop-color="#2c2c2c"/><stop offset="0.75" stop-color="#363636"/><stop offset="1" stop-color="#505050"/></radialGradient><radialGradient id="bigpore" cx="50%" cy="50%" r="55%"><stop offset="0" stop-color="#686868"/><stop offset="0.8" stop-color="#5a5a5a"/><stop offset="1" stop-color="#474747"/></radialGradient><linearGradient id="s1bg" x1="0" y1="0" x2="1" y2="1"><stop offset="0" stop-color="#737373"/><stop offset="0.5" stop-color="#7a7a7a"/><stop offset="1" stop-color="#707070"/></linearGradient></defs>
<g clip-path="url(#clipS1)">
<rect x="29.40" y="297.90" width="114.60" height="86.70" fill="url(#s1bg)" stroke="none" stroke-width="0" />
<g filter="url(#soft2)">
<ellipse cx="75" cy="325" rx="18" ry="14" fill="#8a8a8a" opacity="0.6"/>
<ellipse cx="128" cy="372" rx="14" ry="12" fill="#969696" opacity="0.6"/>
<ellipse cx="98.5" cy="361.0" rx="21.5" ry="28.0" fill="none" stroke="#b4b4b4" stroke-width="2.4"/>
<ellipse cx="98.5" cy="361.0" rx="20.5" ry="27.0" fill="url(#bigpore)"/>
<ellipse cx="104.8" cy="347.0" rx="4.5" ry="4" fill="#454545"/>
<ellipse cx="98.9" cy="365" rx="3" ry="9" fill="#424242"/>
<ellipse cx="88" cy="368" rx="4" ry="8" fill="#525252" opacity="0.7"/>
<ellipse cx="40.5" cy="323.4" rx="10.700000000000001" ry="12.200000000000001" fill="none" stroke="#b4b4b4" stroke-width="2.4" transform="rotate(0 40.5 323.4)"/>
<ellipse cx="40.5" cy="323.4" rx="9.3" ry="10.8" fill="url(#pore)" transform="rotate(0 40.5 323.4)"/>
<ellipse cx="91.8" cy="300.5" rx="12.9" ry="12.9" fill="none" stroke="#b4b4b4" stroke-width="2.4" transform="rotate(0 91.8 300.5)"/>
<ellipse cx="91.8" cy="300.5" rx="11.5" ry="11.5" fill="url(#pore)" transform="rotate(0 91.8 300.5)"/>
<ellipse cx="125.2" cy="328.0" rx="15.200000000000001" ry="15.6" fill="none" stroke="#b4b4b4" stroke-width="2.4" transform="rotate(0 125.2 328.0)"/>
<ellipse cx="125.2" cy="328.0" rx="13.8" ry="14.2" fill="url(#pore)" transform="rotate(0 125.2 328.0)"/>
<ellipse cx="59.2" cy="347.6" rx="8.4" ry="13.4" fill="none" stroke="#b4b4b4" stroke-width="2.4" transform="rotate(10 59.2 347.6)"/>
<ellipse cx="59.2" cy="347.6" rx="7.0" ry="12.0" fill="url(#pore)" transform="rotate(10 59.2 347.6)"/>
<ellipse cx="40.9" cy="354.3" rx="6.6" ry="8.1" fill="none" stroke="#b4b4b4" stroke-width="2.4" transform="rotate(0 40.9 354.3)"/>
<ellipse cx="40.9" cy="354.3" rx="5.2" ry="6.7" fill="url(#pore)" transform="rotate(0 40.9 354.3)"/>
<ellipse cx="70.0" cy="372.0" rx="6.9" ry="18.4" fill="none" stroke="#b4b4b4" stroke-width="2.4" transform="rotate(5 70.0 372.0)"/>
<ellipse cx="70.0" cy="372.0" rx="5.5" ry="17.0" fill="url(#pore)" transform="rotate(5 70.0 372.0)"/>
<ellipse cx="138.0" cy="361.5" rx="4.6" ry="6.9" fill="none" stroke="#b4b4b4" stroke-width="2.4" transform="rotate(25 138.0 361.5)"/>
<ellipse cx="138.0" cy="361.5" rx="3.2" ry="5.5" fill="url(#pore)" transform="rotate(25 138.0 361.5)"/>
<ellipse cx="49.8" cy="297.5" rx="5.9" ry="4.4" fill="none" stroke="#b4b4b4" stroke-width="2.4" transform="rotate(0 49.8 297.5)"/>
<ellipse cx="49.8" cy="297.5" rx="4.5" ry="3.0" fill="url(#pore)" transform="rotate(0 49.8 297.5)"/>
<ellipse cx="143.5" cy="333.0" rx="3.9" ry="8.4" fill="none" stroke="#b4b4b4" stroke-width="2.4" transform="rotate(0 143.5 333.0)"/>
<ellipse cx="143.5" cy="333.0" rx="2.5" ry="7.0" fill="url(#pore)" transform="rotate(0 143.5 333.0)"/>
<ellipse cx="118.5" cy="377.0" rx="4.9" ry="6.4" fill="none" stroke="#b4b4b4" stroke-width="2.4" transform="rotate(0 118.5 377.0)"/>
<ellipse cx="118.5" cy="377.0" rx="3.5" ry="5.0" fill="url(#pore)" transform="rotate(0 118.5 377.0)"/>
<path d="M78,300 Q80,320 76,335" stroke="#acacac" stroke-width="1.5" fill="none"/>
<path d="M112,340 Q120,350 141,345" stroke="#b0b0b0" stroke-width="1.5" fill="none"/>
<path d="M141,300 L141,340" stroke="#c4c4c4" stroke-width="1.3" fill="none"/>
<path d="M30,300 L30,384" stroke="#b4b4b4" stroke-width="1.5" fill="none"/>
</g>
<filter id="grain3" color-interpolation-filters="sRGB" x="29.4" y="297.9" width="114.60" height="86.70" filterUnits="userSpaceOnUse"><feTurbulence type="fractalNoise" baseFrequency="0.08" numOctaves="3" seed="3" result="n"/><feColorMatrix in="n" type="matrix" values="0.6 0.6 0.6 0 -0.4  0.6 0.6 0.6 0 -0.4  0.6 0.6 0.6 0 -0.4  0 0 0 0 1"/></filter>
<rect x="29.4" y="297.9" width="114.60" height="86.70" filter="url(#grain3)" opacity="0.18" style="mix-blend-mode:overlay"/>
<line x1="125.70" y1="375.60" x2="135.30" y2="375.60" stroke="#ffffff" stroke-width="1.3" />
<text x="131.60" y="382.00" font-size="6.6" text-anchor="middle" font-weight="normal" fill="#ffffff" stroke="#ffffff" stroke-width="0.15" textLength="19" lengthAdjust="spacingAndGlyphs">10 μm</text>
</g>
<clipPath id="clipS2"><rect x="146.5" y="297.9" width="115.50" height="86.70"/></clipPath>
<defs><linearGradient id="gS20" x1="0.00" y1="0.50" x2="1.00" y2="0.50"><stop offset="0" stop-color="#1a1a1a" stop-opacity="0.85"/><stop offset="0.6" stop-color="#1a1a1a" stop-opacity="0.45"/><stop offset="1" stop-color="#1a1a1a" stop-opacity="0.0"/></linearGradient><linearGradient id="gS21" x1="0.15" y1="0.15" x2="0.85" y2="0.85"><stop offset="0" stop-color="#1a1a1a" stop-opacity="0.85"/><stop offset="0.6" stop-color="#1a1a1a" stop-opacity="0.45"/><stop offset="1" stop-color="#1a1a1a" stop-opacity="0.0"/></linearGradient><linearGradient id="gS22" x1="0.50" y1="0.00" x2="0.50" y2="1.00"><stop offset="0" stop-color="#1a1a1a" stop-opacity="0.85"/><stop offset="0.6" stop-color="#1a1a1a" stop-opacity="0.45"/><stop offset="1" stop-color="#1a1a1a" stop-opacity="0.0"/></linearGradient><linearGradient id="gS23" x1="0.85" y1="0.15" x2="0.15" y2="0.85"><stop offset="0" stop-color="#1a1a1a" stop-opacity="0.85"/><stop offset="0.6" stop-color="#1a1a1a" stop-opacity="0.45"/><stop offset="1" stop-color="#1a1a1a" stop-opacity="0.0"/></linearGradient><linearGradient id="gS24" x1="1.00" y1="0.50" x2="0.00" y2="0.50"><stop offset="0" stop-color="#1a1a1a" stop-opacity="0.85"/><stop offset="0.6" stop-color="#1a1a1a" stop-opacity="0.45"/><stop offset="1" stop-color="#1a1a1a" stop-opacity="0.0"/></linearGradient><linearGradient id="gS25" x1="0.85" y1="0.85" x2="0.15" y2="0.15"><stop offset="0" stop-color="#1a1a1a" stop-opacity="0.85"/><stop offset="0.6" stop-color="#1a1a1a" stop-opacity="0.45"/><stop offset="1" stop-color="#1a1a1a" stop-opacity="0.0"/></linearGradient><linearGradient id="gS26" x1="0.50" y1="1.00" x2="0.50" y2="0.00"><stop offset="0" stop-color="#1a1a1a" stop-opacity="0.85"/><stop offset="0.6" stop-color="#1a1a1a" stop-opacity="0.45"/><stop offset="1" stop-color="#1a1a1a" stop-opacity="0.0"/></linearGradient><linearGradient id="gS27" x1="0.15" y1="0.85" x2="0.85" y2="0.15"><stop offset="0" stop-color="#1a1a1a" stop-opacity="0.85"/><stop offset="0.6" stop-color="#1a1a1a" stop-opacity="0.45"/><stop offset="1" stop-color="#1a1a1a" stop-opacity="0.0"/></linearGradient></defs>
<filter id="wavyS2" x="134.5" y="285.9" width="139.50" height="110.70" filterUnits="userSpaceOnUse" color-interpolation-filters="sRGB"><feTurbulence type="fractalNoise" baseFrequency="0.045" numOctaves="1" seed="64" result="t"/><feDisplacementMap in="SourceGraphic" in2="t" scale="6" xChannelSelector="R" yChannelSelector="G" result="d"/><feGaussianBlur in="d" stdDeviation="0.45"/></filter>
<g clip-path="url(#clipS2)">
<rect x="146.50" y="297.90" width="115.50" height="86.70" fill="#4e4e4e" stroke="none" stroke-width="0" />
<g filter="url(#wavyS2)">
<path d="M233.43,392.60 Q226.49,391.48 219.55,392.60 M233.43,392.60 Q231.82,389.93 230.65,387.04 M230.65,387.04 Q228.66,386.17 226.64,385.35 M226.64,385.35 Q224.17,386.56 221.70,387.79 M221.70,387.79 Q220.18,389.99 219.55,392.60 M247.33,299.73 Q245.81,294.93 245.61,289.90 M244.43,289.90 Q245.02,289.87 245.61,289.90 M243.44,301.69 Q242.22,301.00 240.82,300.94 M240.82,300.94 Q240.53,298.29 239.62,295.79 M239.62,295.79 Q241.57,292.47 244.43,289.90 M243.44,301.69 Q245.50,300.95 247.33,299.73 M198.07,392.60 Q192.45,391.79 186.82,392.60 M205.70,391.27 Q208.45,387.94 211.60,384.99 M202.92,384.58 Q204.38,387.90 205.70,391.27 M202.92,384.58 Q205.13,382.33 206.75,379.63 M206.75,379.63 Q209.47,382.04 211.60,384.99 M249.44,300.17 Q248.36,300.07 247.33,299.73 M249.44,300.17 Q252.30,297.60 254.46,294.42 M245.61,289.90 Q249.83,290.69 254.05,289.90 M254.46,294.42 Q254.33,292.15 254.05,289.90 M252.14,303.28 Q250.64,301.85 249.44,300.17 M252.14,303.28 Q256.37,302.29 260.25,300.34 M254.46,294.42 Q257.72,297.03 260.25,300.34 M186.82,392.60 Q185.19,393.04 183.55,392.60 M198.07,392.60 Q197.03,389.23 195.53,386.05 M186.82,392.60 Q187.92,388.63 191.00,385.91 M191.00,385.91 Q193.26,386.18 195.53,386.05 M233.43,392.60 Q236.60,392.41 239.78,392.60 M218.34,392.60 Q211.89,392.50 205.43,392.60 M212.26,385.01 Q215.70,388.48 218.34,392.60 M205.70,391.27 Q205.51,391.93 205.43,392.60 M211.60,384.99 Q211.93,385.07 212.26,385.01 M198.07,392.60 Q201.75,392.34 205.43,392.60 M202.92,384.58 Q200.20,384.11 197.46,383.76 M195.53,386.05 Q196.83,385.19 197.46,383.76 M229.33,360.07 Q231.95,359.04 234.51,357.90 M229.33,360.07 Q229.95,363.25 229.39,366.44 M231.51,367.69 Q234.47,365.39 237.25,362.88 M229.39,366.44 Q230.53,366.93 231.51,367.69 M234.51,357.90 Q236.26,358.58 237.42,360.06 M237.25,362.88 Q237.12,361.46 237.42,360.06 M252.77,373.30 Q253.48,371.04 255.30,369.52 M252.77,373.30 Q249.84,374.23 246.81,373.76 M255.30,369.52 Q252.33,366.47 249.82,363.05 M246.81,373.76 Q246.80,369.05 247.39,364.38 M247.39,364.38 Q248.13,363.63 248.62,362.70 M249.82,363.05 Q249.17,363.05 248.62,362.70 M239.91,372.22 Q242.79,373.22 245.20,375.07 M245.20,375.07 Q245.85,374.23 246.81,373.76 M239.91,372.22 Q239.73,369.14 240.63,366.19 M240.63,366.19 Q244.15,365.78 247.39,364.38 M237.25,362.88 Q238.98,364.50 240.63,366.19 M237.42,360.06 Q239.47,359.11 241.43,357.98 M241.43,357.98 Q244.39,359.62 247.71,360.19 M247.71,360.19 Q248.44,361.35 248.62,362.70 M241.43,357.98 Q240.91,354.92 241.42,351.86 M234.51,357.90 Q233.81,354.48 233.08,351.07 M241.42,351.86 Q237.21,351.96 233.08,351.07 M229.39,366.44 Q226.99,367.04 224.52,366.91 M229.33,360.07 Q227.41,357.90 224.67,356.97 M224.67,356.97 Q223.47,359.82 221.47,362.17 M221.47,362.17 Q221.35,363.71 221.97,365.12 M224.52,366.91 Q223.36,365.85 221.97,365.12 M236.65,303.09 Q234.10,302.87 231.66,302.11 M240.82,300.94 Q239.05,302.62 236.65,303.09 M239.62,295.79 Q234.97,295.04 230.79,292.87 M231.66,302.11 Q231.42,297.47 230.79,292.87 M244.43,289.90 Q236.91,288.89 229.39,289.90 M229.39,289.90 Q229.40,290.20 229.43,290.49 M229.43,290.49 Q229.92,291.79 230.79,292.87 M216.54,289.90 Q216.23,292.73 215.85,295.54 M216.54,289.90 Q222.96,290.42 229.39,289.90 M229.43,290.49 Q226.01,295.34 221.11,298.67 M215.85,295.54 Q218.37,297.28 221.11,298.67 M231.66,302.11 Q231.06,302.81 230.33,303.36 M230.33,303.36 Q226.17,301.33 221.56,300.87 M221.56,300.87 Q221.01,299.84 221.11,298.67 M168.43,392.60 Q170.66,392.12 172.88,392.60 M183.55,392.60 Q178.21,391.68 172.88,392.60 M254.05,289.90 Q257.79,289.17 261.54,289.90 M263.48,298.22 Q262.86,293.98 261.54,289.90 M263.48,298.22 Q261.74,298.93 260.60,300.43 M260.25,300.34 Q260.42,300.40 260.60,300.43 M252.14,303.28 Q252.14,305.75 252.02,308.22 M245.08,309.88 Q244.08,305.82 243.44,301.69 M245.08,309.88 Q247.66,310.72 250.35,310.43 M250.35,310.43 Q250.87,309.09 252.02,308.22 M261.72,306.75 Q261.96,303.45 260.60,300.43 M261.72,306.75 Q261.09,307.43 260.59,308.22 M252.02,308.22 Q256.31,309.12 260.59,308.22 M197.27,379.49 Q195.41,377.20 193.05,375.41 M197.27,379.49 Q199.83,378.26 202.46,377.18 M202.46,377.18 Q202.28,374.56 201.41,372.09 M201.41,372.09 Q197.55,371.25 193.64,371.83 M193.05,375.41 Q192.70,373.92 193.23,372.47 M193.23,372.47 Q193.40,372.13 193.64,371.83 M191.00,385.91 Q189.69,382.85 187.31,380.51 M197.46,383.76 Q197.69,381.61 197.27,379.49 M187.31,380.51 Q190.39,378.20 193.05,375.41 M206.72,379.26 Q204.84,377.71 202.46,377.18 M206.75,379.63 Q206.70,379.45 206.72,379.26 M183.27,370.76 Q188.05,372.79 193.23,372.47 M183.27,370.76 Q183.10,370.86 182.98,371.01 M182.98,371.01 Q182.71,375.76 184.36,380.22 M187.31,380.51 Q185.88,379.96 184.36,380.22 M233.08,351.07 Q232.63,350.78 232.37,350.32 M232.37,350.32 Q230.88,350.40 229.38,350.43 M224.67,356.97 Q224.53,356.55 224.54,356.10 M224.54,356.10 Q227.21,353.47 229.38,350.43 M234.74,344.97 Q233.37,347.56 232.37,350.32 M225.68,342.48 Q225.81,344.43 225.25,346.30 M230.30,339.69 Q227.57,340.40 225.68,342.48 M230.30,339.69 Q233.17,341.79 234.74,344.97 M229.38,350.43 Q227.47,348.21 225.25,346.30 M170.58,312.51 Q170.76,312.74 170.88,313.00 M170.88,313.00 Q174.96,314.36 179.26,314.45 M173.38,307.54 Q176.10,307.02 178.87,307.15 M178.87,307.15 Q180.02,309.56 180.73,312.14 M173.38,307.54 Q171.90,309.98 170.58,312.51 M180.73,312.14 Q180.03,313.32 179.26,314.45 M270.00,348.65 Q270.17,354.71 270.00,360.76 M270.00,392.60 Q270.00,387.10 270.00,381.61 M234.34,380.52 Q230.48,379.33 227.27,376.88 M234.34,380.52 Q234.63,380.51 234.88,380.37 M234.88,380.37 Q235.42,376.45 236.84,372.76 M227.27,376.88 Q229.70,373.52 232.47,370.43 M232.47,370.43 Q234.81,371.31 236.84,372.76 M225.65,377.27 Q226.49,377.22 227.27,376.88 M225.65,377.27 Q225.54,381.39 226.64,385.35 M230.65,387.04 Q231.91,383.45 234.34,380.52 M239.78,392.60 Q239.01,387.33 238.72,382.02 M238.72,382.02 Q236.90,380.95 234.88,380.37 M238.72,382.02 Q241.43,379.53 245.03,378.77 M245.20,375.07 Q245.45,376.93 245.03,378.77 M239.91,372.22 Q238.44,372.85 236.84,372.76 M231.51,367.69 Q232.01,369.06 232.47,370.43 M260.48,379.46 Q265.19,380.76 270.00,381.61 M260.47,379.46 Q259.41,386.01 260.21,392.60 M270.00,392.60 Q265.11,391.58 260.21,392.60 M260.48,379.46 Q260.48,379.46 260.47,379.46 M241.42,351.86 Q242.35,350.31 243.90,349.39 M247.71,360.19 Q249.20,357.04 250.48,353.80 M250.48,353.80 Q247.11,351.72 243.90,349.39 M246.84,328.05 Q247.00,328.23 247.21,328.35 M249.65,319.68 Q247.16,323.50 246.84,328.05 M256.31,325.73 Q256.44,323.53 255.67,321.46 M249.98,319.47 Q252.72,320.78 255.67,321.46 M249.65,319.68 Q249.83,319.59 249.98,319.47 M256.31,325.73 Q255.09,327.15 253.76,328.47 M253.76,328.47 Q250.48,329.09 247.21,328.35 M206.72,379.26 Q208.93,377.77 210.01,375.34 M203.95,369.43 Q202.99,371.06 201.41,372.09 M203.95,369.43 Q206.16,369.94 208.30,370.68 M208.30,370.68 Q208.46,373.26 210.01,375.34 M215.85,295.54 Q214.93,296.39 213.74,296.79 M213.74,296.79 Q213.29,300.52 213.19,304.27 M213.19,304.27 Q213.67,304.95 214.42,305.29 M221.56,300.87 Q220.89,302.70 219.84,304.35 M214.42,305.29 Q217.06,304.41 219.84,304.35 M223.26,310.59 Q220.63,307.97 219.84,304.35 M223.26,310.59 Q219.78,313.24 215.44,313.80 M214.42,305.29 Q213.14,309.16 213.89,313.16 M213.89,313.16 Q214.68,313.46 215.44,313.80 M230.33,303.36 Q229.95,306.41 228.72,309.23 M223.26,310.59 Q224.39,310.71 225.34,311.32 M228.72,309.23 Q226.88,310.03 225.34,311.32 M270.00,289.90 Q269.31,293.89 270.00,297.88 M261.54,289.90 Q265.77,291.01 270.00,289.90 M263.48,298.22 Q266.72,297.55 270.00,297.88 M270.00,308.18 Q269.74,303.03 270.00,297.88 M261.72,306.75 Q266.06,306.31 270.00,308.18 M259.79,317.95 Q263.31,320.72 265.28,324.74 M259.79,317.95 Q259.80,316.77 260.19,315.66 M260.54,315.28 Q260.42,315.52 260.19,315.66 M260.54,315.28 Q265.29,316.39 270.00,315.13 M270.00,315.13 Q270.04,319.52 270.00,323.92 M265.28,324.74 Q267.72,324.78 270.00,323.92 M256.31,325.73 Q259.50,326.45 262.67,327.29 M255.67,321.46 Q257.23,319.12 259.79,317.95 M262.67,327.29 Q263.97,326.00 265.28,324.74 M249.98,319.47 Q250.86,316.30 251.43,313.07 M251.43,313.07 Q255.68,314.83 260.19,315.66 M251.43,313.07 Q251.04,311.69 250.35,310.43 M260.59,308.22 Q260.22,311.75 260.54,315.28 M270.00,308.18 Q270.68,311.65 270.00,315.13 M183.55,392.60 Q181.76,389.31 180.70,385.72 M184.36,380.22 Q183.83,380.55 183.27,380.83 M180.70,385.72 Q182.08,383.33 183.27,380.83 M172.88,392.60 Q175.30,389.61 175.77,385.79 M180.70,385.72 Q178.24,386.28 175.77,385.79 M170.58,312.51 Q167.74,311.39 164.70,311.10 M170.88,313.00 Q171.10,316.52 170.98,320.04 M162.38,312.88 Q163.70,312.19 164.70,311.10 M162.38,312.88 Q162.10,316.52 160.72,319.89 M160.72,319.89 Q161.44,320.69 162.26,321.39 M162.26,321.39 Q165.70,321.84 169.13,322.42 M170.98,320.04 Q169.73,320.98 169.13,322.42 M162.26,321.39 Q162.42,325.11 161.15,328.62 M170.12,325.38 Q169.97,323.79 169.13,322.42 M170.12,325.38 Q168.85,328.92 166.11,331.48 M161.15,328.62 Q163.27,330.68 166.11,331.48 M193.64,371.83 Q193.64,369.99 193.73,368.15 M184.93,364.39 Q183.84,367.51 183.27,370.76 M184.93,364.39 Q188.88,364.77 192.55,366.27 M192.55,366.27 Q192.88,367.37 193.73,368.15 M203.95,369.43 Q203.77,366.35 202.02,363.80 M193.73,368.15 Q197.62,365.48 202.02,363.80 M164.05,305.48 Q161.78,303.19 158.78,302.01 M164.05,305.48 Q167.05,302.93 170.41,300.87 M170.41,300.87 Q168.51,297.82 165.40,296.05 M165.40,296.05 Q162.26,298.42 158.43,299.32 M158.43,299.32 Q158.38,300.70 158.78,302.01 M164.70,311.10 Q163.86,308.35 164.05,305.48 M173.38,307.54 Q171.74,304.31 170.55,300.88 M170.55,300.88 Q170.48,300.86 170.41,300.87 M219.55,392.60 Q218.94,392.75 218.34,392.60 M262.26,372.20 Q266.16,372.03 270.00,372.77 M262.26,372.20 Q261.77,370.00 260.29,368.30 M261.55,365.34 Q260.73,366.74 260.29,368.30 M261.55,365.34 Q265.70,363.53 270.00,362.11 M270.00,362.11 Q271.06,367.44 270.00,372.77 M270.00,381.61 Q269.37,377.19 270.00,372.77 M260.48,379.46 Q260.31,375.57 262.26,372.20 M255.30,369.52 Q257.83,369.06 260.29,368.30 M252.77,373.30 Q254.31,376.66 256.88,379.32 M256.88,379.32 Q258.68,379.16 260.47,379.46 M257.81,360.69 Q254.10,362.82 249.82,363.05 M257.81,360.69 Q259.57,363.11 261.55,365.34 M270.00,360.76 Q269.83,361.44 270.00,362.11 M248.63,383.51 Q246.73,388.24 244.09,392.60 M244.09,392.60 Q251.10,393.55 258.12,392.60 M251.87,383.48 Q255.76,387.51 258.12,392.60 M248.63,383.51 Q250.25,383.83 251.87,383.48 M239.78,392.60 Q241.93,392.64 244.09,392.60 M245.03,378.77 Q246.68,381.25 248.63,383.51 M256.88,379.32 Q254.31,381.33 251.87,383.48 M260.21,392.60 Q259.16,392.61 258.12,392.60 M252.69,352.85 Q252.41,350.24 253.48,347.85 M252.69,352.85 Q255.75,353.46 258.31,355.23 M253.48,347.85 Q256.27,345.59 259.74,344.62 M261.10,353.82 Q261.41,351.62 262.82,349.91 M261.10,353.82 Q259.66,354.43 258.31,355.23 M262.82,349.91 Q262.00,346.85 259.74,344.62 M257.81,360.69 Q257.69,357.92 258.31,355.23 M250.48,353.80 Q251.44,352.99 252.69,352.85 M270.00,360.76 Q265.92,356.82 261.10,353.82 M270.00,348.65 Q266.50,349.77 262.82,349.91 M243.90,349.39 Q243.94,348.92 243.89,348.45 M234.74,344.97 Q236.22,344.78 237.41,343.88 M243.89,348.45 Q240.71,346.07 237.41,343.88 M239.37,336.61 Q239.87,337.39 240.37,338.18 M230.87,336.75 Q235.14,337.61 239.37,336.61 M230.87,336.75 Q230.49,338.21 230.30,339.69 M240.37,338.18 Q238.08,340.61 237.41,343.88 M253.76,328.47 Q255.24,330.91 256.32,333.55 M262.67,327.29 Q261.66,330.16 262.22,333.15 M256.32,333.55 Q259.30,333.78 262.22,333.15 M270.00,334.19 Q269.69,338.10 270.00,342.01 M270.00,334.19 Q266.36,334.02 262.72,333.75 M270.00,342.01 Q266.20,341.03 262.28,340.81 M262.72,333.75 Q261.47,337.21 262.28,340.81 M270.00,334.19 Q268.83,329.06 270.00,323.92 M262.72,333.75 Q262.50,333.43 262.22,333.15 M270.00,348.65 Q270.77,345.33 270.00,342.01 M259.74,344.62 Q259.69,343.64 259.99,342.71 M262.28,340.81 Q260.94,341.53 259.99,342.71 M214.02,375.78 Q215.95,375.02 217.24,373.41 M214.02,375.78 Q214.84,378.76 216.05,381.61 M217.24,373.41 Q219.95,375.00 223.09,375.18 M218.91,382.04 Q217.44,382.13 216.05,381.61 M218.91,382.04 Q220.86,378.64 224.32,376.79 M224.32,376.79 Q223.74,375.96 223.09,375.18 M212.37,366.02 Q214.44,367.18 216.56,368.23 M212.37,366.02 Q209.87,367.94 208.30,370.68 M216.56,368.23 Q216.70,370.85 217.24,373.41 M210.01,375.34 Q212.08,374.98 214.02,375.78 M212.26,385.01 Q213.73,382.83 216.05,381.61 M221.97,365.12 Q219.37,366.85 216.56,368.23 M224.52,366.91 Q224.17,371.11 223.09,375.18 M221.70,387.79 Q221.05,384.55 218.91,382.04 M225.65,377.27 Q225.02,376.91 224.32,376.79 M188.23,316.94 Q192.00,316.51 194.94,314.11 M194.94,314.11 Q194.20,311.87 193.02,309.84 M184.88,311.85 Q186.86,314.19 188.23,316.94 M184.88,311.85 Q185.73,310.07 187.13,308.69 M187.13,308.69 Q190.10,309.14 193.02,309.84 M236.65,303.09 Q238.21,306.02 238.11,309.35 M228.72,309.23 Q231.03,310.40 233.28,311.67 M233.28,311.67 Q235.97,311.09 238.11,309.35 M245.08,309.88 Q243.58,310.41 242.52,311.59 M242.52,311.59 Q240.50,310.11 238.11,309.35 M249.65,319.68 Q245.15,319.46 241.24,317.21 M242.52,311.59 Q242.47,314.54 241.24,317.21 M246.84,328.05 Q244.77,327.85 242.70,327.81 M242.70,327.81 Q241.18,322.82 240.80,317.62 M241.24,317.21 Q241.03,317.42 240.80,317.62 M230.87,336.75 Q229.88,334.70 228.84,332.68 M239.37,336.61 Q238.92,332.88 239.86,329.24 M239.86,329.24 Q239.42,329.02 238.93,328.93 M228.84,332.68 Q228.90,332.55 228.96,332.43 M238.93,328.93 Q233.65,329.84 228.96,332.43 M224.07,321.69 Q225.81,324.34 228.49,326.01 M224.07,321.69 Q225.13,320.12 226.01,318.44 M226.01,318.44 Q230.46,317.31 234.97,318.21 M228.49,326.01 Q231.56,325.22 234.44,323.91 M234.44,323.91 Q234.63,321.13 235.24,318.41 M235.24,318.41 Q235.09,318.34 234.97,318.21 M222.60,322.10 Q223.34,321.90 224.07,321.69 M222.60,322.10 Q220.29,321.80 218.47,320.35 M218.47,320.35 Q216.13,317.46 215.44,313.80 M225.34,311.32 Q226.27,314.82 226.01,318.44 M233.28,311.67 Q233.29,315.16 234.97,318.21 M228.96,332.43 Q227.91,329.28 228.49,326.01 M238.93,328.93 Q236.97,326.16 234.44,323.91 M240.80,317.62 Q238.01,317.92 235.24,318.41 M242.70,327.81 Q241.23,328.43 239.86,329.24 M138.50,392.60 Q138.64,392.62 138.78,392.60 M138.50,378.50 Q139.18,385.55 138.50,392.60 M144.46,385.77 Q142.13,389.61 138.78,392.60 M144.46,385.77 Q144.50,383.96 143.77,382.30 M143.77,382.30 Q140.80,380.86 138.50,378.50 M148.58,392.60 Q143.68,393.51 138.78,392.60 M144.46,385.77 Q146.60,386.83 148.85,387.60 M148.85,387.60 Q149.28,390.13 148.58,392.60 M159.65,392.60 Q158.36,392.67 157.07,392.60 M168.43,392.60 Q164.04,393.71 159.65,392.60 M148.58,392.60 Q152.83,391.68 157.07,392.60 M152.53,341.28 Q150.32,338.16 148.86,334.61 M152.53,341.28 Q153.06,341.41 153.59,341.52 M153.59,341.52 Q156.53,340.52 159.16,338.88 M156.67,332.82 Q157.83,335.83 159.25,338.74 M156.67,332.82 Q153.22,333.17 149.77,333.60 M159.16,338.88 Q159.21,338.82 159.25,338.74 M149.77,333.60 Q149.46,334.24 148.86,334.61 M179.36,349.20 Q177.91,347.45 177.52,345.22 M176.70,355.40 Q177.98,352.28 179.36,349.20 M176.60,355.46 Q176.65,355.43 176.70,355.40 M176.60,355.46 Q173.17,353.88 169.99,351.84 M177.52,345.22 Q175.80,345.59 174.06,345.42 M169.99,351.84 Q169.97,351.79 169.95,351.75 M169.95,351.75 Q172.01,348.59 174.06,345.42 M147.70,343.61 Q144.98,341.29 142.83,338.46 M147.70,343.61 Q150.29,342.80 152.53,341.28 M148.86,334.61 Q147.38,334.86 145.89,335.08 M145.89,335.08 Q144.22,336.65 142.83,338.46 M166.25,332.04 Q164.77,335.27 162.61,338.09 M166.25,332.04 Q169.75,333.97 173.35,335.71 M162.61,338.09 Q165.46,339.62 168.16,341.42 M173.35,335.71 Q172.31,338.89 169.75,341.06 M168.16,341.42 Q168.91,341.03 169.75,341.06 M166.11,331.48 Q166.24,331.75 166.25,332.04 M157.37,330.57 Q159.33,329.72 161.15,328.62 M157.37,330.57 Q156.99,331.68 156.67,332.82 M159.25,338.74 Q160.99,338.76 162.61,338.09 M161.63,348.55 Q163.37,347.87 165.19,348.25 M161.63,348.55 Q159.56,343.93 159.16,338.88 M165.19,348.25 Q166.01,344.54 168.16,341.42 M165.19,348.25 Q168.07,349.33 169.95,351.75 M174.06,345.42 Q171.95,343.20 169.75,341.06 M221.47,362.17 Q219.05,360.34 216.04,360.00 M212.37,366.02 Q212.14,364.20 211.56,362.46 M211.56,362.46 Q214.01,361.61 216.04,360.00 M191.02,349.34 Q188.58,348.86 186.35,347.74 M191.02,349.34 Q192.12,352.53 192.26,355.90 M184.74,349.44 Q185.67,348.71 186.35,347.74 M184.74,349.44 Q185.58,352.48 185.43,355.63 M187.26,357.28 Q186.44,356.36 185.43,355.63 M187.26,357.28 Q189.70,357.49 191.96,356.55 M191.96,356.55 Q192.03,356.19 192.26,355.90 M194.21,346.39 Q192.76,348.02 191.02,349.34 M194.21,346.39 Q193.35,343.64 191.33,341.59 M191.33,341.59 Q188.45,341.79 186.01,343.33 M186.01,343.33 Q186.84,345.49 186.35,347.74 M197.80,346.75 Q199.45,348.76 199.83,351.34 M194.21,346.39 Q195.95,347.06 197.80,346.75 M199.83,351.34 Q195.57,352.84 192.26,355.90 M179.36,349.20 Q182.02,349.93 184.74,349.44 M176.70,355.40 Q181.05,355.90 185.43,355.63 M184.47,363.29 Q180.26,363.34 176.47,361.48 M184.47,363.29 Q186.68,360.66 187.26,357.28 M176.05,360.66 Q176.21,361.10 176.47,361.48 M176.60,355.46 Q176.18,358.05 176.05,360.66 M184.93,364.39 Q184.69,363.85 184.47,363.29 M193.63,358.90 Q192.96,357.61 191.96,356.55 M192.55,366.27 Q193.16,362.59 193.63,358.90 M145.89,335.08 Q144.25,332.09 142.44,329.19 M142.83,338.46 Q140.57,338.41 138.50,339.32 M138.50,339.32 Q139.22,334.28 138.50,329.25 M142.44,329.19 Q140.47,329.56 138.50,329.25 M158.78,302.01 Q155.91,304.17 154.07,307.26 M162.38,312.88 Q158.14,311.10 153.83,309.51 M153.83,309.51 Q153.64,308.35 154.07,307.26 M174.63,335.00 Q174.51,335.17 174.39,335.32 M174.63,335.00 Q178.17,334.08 181.72,333.20 M174.39,335.32 Q177.79,338.21 179.40,342.38 M181.72,333.20 Q182.72,335.19 184.17,336.87 M184.17,336.87 Q184.02,339.11 183.40,341.27 M183.40,341.27 Q181.38,341.75 179.40,342.38 M170.12,325.38 Q172.41,326.24 174.22,327.89 M174.22,327.89 Q173.69,331.49 174.63,335.00 M173.35,335.71 Q173.90,335.61 174.39,335.32 M177.52,345.22 Q178.25,343.66 179.40,342.38 M186.01,343.33 Q184.55,342.50 183.40,341.27 M147.84,301.61 Q151.31,304.04 154.07,307.26 M158.43,299.32 Q157.63,298.08 156.46,297.19 M147.84,301.61 Q150.38,299.91 151.91,297.26 M151.91,297.26 Q154.18,296.84 156.46,297.19 M176.63,298.03 Q178.55,294.60 181.43,291.92 M176.63,298.03 Q178.70,300.86 181.32,303.16 M181.32,303.16 Q183.18,302.59 185.11,302.89 M185.96,296.06 Q184.80,299.30 185.32,302.69 M185.96,296.06 Q184.29,293.34 181.43,291.92 M185.11,302.89 Q185.24,302.81 185.32,302.69 M178.87,307.15 Q180.32,305.30 181.32,303.16 M170.55,300.88 Q172.17,298.89 174.61,298.10 M174.61,298.10 Q175.61,297.81 176.63,298.03 M184.88,311.85 Q182.84,312.50 180.73,312.14 M187.13,308.69 Q186.04,305.82 185.11,302.89 M194.50,297.44 Q192.58,296.00 190.53,294.75 M190.53,294.75 Q188.24,295.38 185.96,296.06 M192.42,301.85 Q188.90,302.50 185.32,302.69 M194.50,297.44 Q193.23,299.54 192.42,301.85 M193.02,309.84 Q193.58,307.64 194.30,305.48 M192.42,301.85 Q192.90,303.91 194.30,305.48 M191.33,341.59 Q191.71,339.90 192.74,338.51 M184.17,336.87 Q187.03,335.39 190.24,335.33 M190.24,335.33 Q191.93,336.57 192.74,338.51 M190.24,335.33 Q190.25,332.35 190.86,329.43 M181.72,333.20 Q181.97,330.80 183.26,328.76 M183.26,328.76 Q187.13,328.34 190.86,329.43 M249.45,343.37 Q248.35,343.72 247.22,343.49 M249.45,343.37 Q252.09,341.42 253.76,338.59 M247.22,343.49 Q245.24,341.44 243.84,338.96 M243.84,338.96 Q245.91,336.51 248.30,334.37 M248.30,334.37 Q251.28,335.38 253.61,337.49 M253.76,338.59 Q253.83,338.02 253.61,337.49 M253.48,347.85 Q252.06,345.08 249.45,343.37 M243.89,348.45 Q245.10,345.67 247.22,343.49 M259.99,342.71 Q256.47,341.26 253.76,338.59 M240.37,338.18 Q242.00,339.04 243.84,338.96 M247.21,328.35 Q248.37,331.25 248.30,334.37 M256.32,333.55 Q254.78,335.40 253.61,337.49 M170.97,289.90 Q176.21,290.76 181.45,289.90 M181.43,291.92 Q181.15,290.91 181.45,289.90 M174.61,298.10 Q172.22,294.25 170.97,289.90 M213.74,296.79 Q210.95,297.05 208.31,296.11 M216.54,289.90 Q211.11,291.01 205.68,289.90 M206.32,294.01 Q206.14,291.93 205.68,289.90 M208.31,296.11 Q207.03,295.33 206.32,294.01 M197.97,289.90 Q194.10,290.25 190.23,289.90 M194.50,297.44 Q195.43,297.32 196.21,296.80 M196.21,296.80 Q197.67,293.50 197.97,289.90 M190.53,294.75 Q190.52,292.32 190.23,289.90 M205.68,289.90 Q201.82,289.32 197.97,289.90 M181.45,289.90 Q185.84,290.64 190.23,289.90 M206.32,294.01 Q203.46,296.80 199.82,298.43 M199.82,298.43 Q197.92,297.82 196.21,296.80 M201.48,309.34 Q203.98,309.65 206.40,309.00 M201.48,309.34 Q201.06,307.03 199.75,305.07 M201.48,302.13 Q203.97,303.10 206.62,302.83 M201.48,302.13 Q200.73,303.67 199.75,305.07 M206.40,309.00 Q207.08,306.69 207.85,304.41 M207.85,304.41 Q207.25,303.60 206.62,302.83 M194.30,305.48 Q197.06,305.74 199.75,305.07 M198.41,313.90 Q199.76,311.50 201.48,309.34 M195.89,314.58 Q197.18,314.33 198.41,313.90 M194.94,314.11 Q195.48,314.22 195.89,314.58 M199.82,298.43 Q201.15,300.06 201.48,302.13 M208.31,296.11 Q206.96,299.34 206.62,302.83 M213.89,313.16 Q211.99,314.26 209.80,314.25 M213.19,304.27 Q210.50,303.56 207.85,304.41 M209.80,314.25 Q207.64,311.92 206.40,309.00 M202.27,323.83 Q201.68,326.51 201.14,329.21 M202.27,323.83 Q199.31,323.14 196.50,322.00 M201.14,329.21 Q199.15,329.93 197.26,330.88 M196.50,322.00 Q195.07,324.14 192.81,325.37 M197.26,330.88 Q195.02,329.17 192.35,328.25 M192.81,325.37 Q192.79,326.84 192.35,328.25 M195.89,314.58 Q196.79,318.24 196.50,322.00 M198.41,313.90 Q201.93,316.79 206.37,317.80 M202.27,323.83 Q202.93,323.43 203.66,323.19 M203.66,323.19 Q204.30,320.14 206.37,317.80 M209.80,314.25 Q209.03,315.89 207.75,317.19 M206.37,317.80 Q207.13,317.64 207.75,317.19 M218.47,320.35 Q215.37,321.23 212.95,323.35 M207.75,317.19 Q209.73,320.79 212.95,323.35 M139.91,364.92 Q139.22,364.74 138.50,364.81 M138.50,364.81 Q139.64,371.65 138.50,378.50 M139.91,364.92 Q142.08,367.39 145.00,368.89 M145.00,368.89 Q145.63,370.77 146.07,372.69 M146.07,372.69 Q141.59,374.69 138.50,378.50 M138.50,378.50 Q138.50,378.50 138.50,378.50 M169.99,351.84 Q167.32,355.41 165.13,359.30 M176.05,360.66 Q171.44,359.77 166.91,361.03 M166.91,361.03 Q166.12,360.07 165.13,359.30 M161.63,348.55 Q160.24,349.65 158.93,350.82 M158.93,350.82 Q162.16,354.80 164.67,359.27 M165.13,359.30 Q164.91,359.26 164.67,359.27 M150.16,365.08 Q147.63,367.06 145.00,368.89 M150.16,365.08 Q148.68,361.67 147.73,358.08 M139.91,364.92 Q143.74,361.42 147.61,357.98 M147.61,357.98 Q147.67,358.03 147.73,358.08 M158.93,350.82 Q158.12,351.06 157.27,351.09 M153.59,341.52 Q154.90,345.79 155.12,350.25 M155.12,350.25 Q156.08,350.94 157.27,351.09 M168.43,392.60 Q168.32,387.58 167.32,382.67 M175.77,385.79 Q174.10,384.28 172.50,382.70 M167.32,382.67 Q169.91,382.89 172.50,382.70 M159.65,392.60 Q161.57,388.32 161.84,383.64 M161.84,383.64 Q164.35,382.35 167.17,382.56 M167.32,382.67 Q167.23,382.63 167.17,382.56 M183.27,380.83 Q179.22,380.16 176.12,377.49 M172.50,382.70 Q174.59,380.29 176.12,377.49 M150.16,365.08 Q152.22,365.16 154.00,366.20 M147.73,358.08 Q151.70,358.48 155.62,359.22 M155.62,359.22 Q156.45,361.13 157.99,362.53 M154.00,366.20 Q155.92,364.29 157.99,362.53 M164.67,359.27 Q161.53,360.96 158.35,362.57 M155.62,359.22 Q157.62,355.39 157.27,351.09 M157.99,362.53 Q158.17,362.56 158.35,362.57 M161.84,383.64 Q160.90,383.21 160.02,382.69 M157.07,392.60 Q155.89,388.28 153.00,384.86 M160.02,382.69 Q156.20,382.76 153.00,384.86 M148.85,387.60 Q150.65,385.89 152.89,384.81 M153.00,384.86 Q152.94,384.83 152.89,384.81 M143.77,382.30 Q147.30,381.11 150.70,379.61 M152.89,384.81 Q151.87,382.18 150.70,379.61 M192.74,338.51 Q195.28,338.46 197.75,337.85 M197.80,346.75 Q198.73,344.67 200.18,342.90 M200.18,342.90 Q199.20,340.27 197.75,337.85 M190.86,329.43 Q191.51,328.72 192.35,328.25 M197.26,330.88 Q197.03,334.10 198.18,337.12 M197.75,337.85 Q197.86,337.42 198.18,337.12 M202.42,362.19 Q202.07,361.49 201.56,360.89 M202.42,362.19 Q205.92,361.28 209.53,361.04 M201.56,360.89 Q202.73,356.81 202.39,352.58 M209.53,361.04 Q208.93,358.45 209.59,355.87 M209.59,355.87 Q206.79,354.11 204.22,352.01 M204.22,352.01 Q203.38,352.53 202.39,352.58 M202.02,363.80 Q202.04,362.95 202.42,362.19 M193.63,358.90 Q197.58,359.93 201.56,360.89 M211.56,362.46 Q210.64,361.61 209.53,361.04 M199.83,351.34 Q201.16,351.86 202.39,352.58 M149.77,333.60 Q148.84,330.13 149.41,326.57 M142.44,329.19 Q144.06,327.86 145.40,326.23 M149.41,326.57 Q147.39,326.60 145.40,326.23 M157.37,330.57 Q155.03,327.43 152.51,324.42 M149.41,326.57 Q151.18,325.81 152.51,324.42 M138.50,320.15 Q140.57,319.74 142.66,320.05 M138.50,320.15 Q138.35,324.70 138.50,329.25 M145.40,326.23 Q144.02,323.14 142.66,320.05 M160.72,319.89 Q157.17,319.67 153.74,320.59 M152.51,324.42 Q153.07,322.49 153.74,320.59 M147.84,301.61 Q147.26,301.63 146.69,301.77 M143.49,298.05 Q144.71,300.24 146.69,301.77 M146.08,289.90 Q146.39,289.94 146.70,289.90 M143.49,298.05 Q144.67,293.94 146.08,289.90 M151.91,297.26 Q150.13,293.00 146.70,289.90 M138.50,289.90 Q142.29,290.18 146.08,289.90 M186.74,319.78 Q186.74,319.81 186.75,319.83 M186.74,319.78 Q182.99,319.51 179.74,317.61 M186.75,319.83 Q184.45,323.35 182.21,326.91 M179.74,317.61 Q178.76,318.94 177.81,320.29 M177.81,320.29 Q178.06,323.12 179.38,325.64 M179.38,325.64 Q180.81,326.23 182.21,326.91 M188.23,316.94 Q187.09,318.15 186.74,319.78 M192.81,325.37 Q189.07,323.37 186.75,319.83 M179.26,314.45 Q179.10,316.09 179.74,317.61 M183.26,328.76 Q182.97,327.70 182.21,326.91 M170.98,320.04 Q174.37,320.76 177.81,320.29 M174.22,327.89 Q176.58,326.25 179.38,325.64 M203.66,323.19 Q205.84,325.77 208.84,327.31 M212.95,323.35 Q212.65,324.48 212.39,325.62 M212.39,325.62 Q210.60,326.43 208.84,327.31 M150.47,351.19 Q148.58,353.60 147.22,356.34 M150.47,351.19 Q149.20,348.44 146.82,346.56 M147.22,356.34 Q142.57,354.92 138.50,352.25 M146.82,346.56 Q142.39,346.59 138.50,348.69 M138.50,348.69 Q138.81,350.47 138.50,352.25 M147.61,357.98 Q147.54,357.13 147.22,356.34 M155.12,350.25 Q152.81,350.80 150.47,351.19 M147.70,343.61 Q146.86,344.97 146.82,346.56 M138.50,364.81 Q137.62,358.53 138.50,352.25 M138.50,339.32 Q139.04,344.00 138.50,348.69 M167.73,375.19 Q171.33,373.75 175.19,374.06 M167.73,375.19 Q166.68,371.81 167.10,368.29 M167.10,368.29 Q167.41,368.03 167.63,367.69 M167.63,367.69 Q171.32,367.08 174.97,367.97 M174.97,367.97 Q175.36,369.71 176.61,370.98 M176.61,370.98 Q175.62,372.39 175.19,374.06 M167.17,382.56 Q166.20,379.51 166.83,376.38 M166.83,376.38 Q167.29,375.79 167.73,375.19 M176.12,377.49 Q175.82,375.73 175.19,374.06 M162.02,368.66 Q161.00,365.12 158.35,362.57 M166.91,361.03 Q166.68,364.42 167.63,367.69 M162.02,368.66 Q164.56,368.44 167.10,368.29 M176.47,361.48 Q176.33,364.87 174.97,367.97 M182.98,371.01 Q179.80,371.11 176.61,370.98 M158.06,377.03 Q154.28,376.78 150.94,378.55 M158.06,377.03 Q158.50,375.45 159.49,374.14 M159.49,374.14 Q159.22,373.66 159.20,373.11 M159.20,373.11 Q156.81,371.64 154.31,370.35 M154.31,370.35 Q151.47,371.92 149.14,374.17 M149.14,374.17 Q149.62,376.54 150.94,378.55 M160.02,382.69 Q159.71,379.62 158.06,377.03 M150.70,379.61 Q150.75,379.06 150.94,378.55 M166.83,376.38 Q162.93,376.02 159.49,374.14 M162.02,368.66 Q161.01,371.14 159.20,373.11 M154.00,366.20 Q154.68,368.24 154.31,370.35 M146.07,372.69 Q147.40,373.85 149.14,374.17 M225.68,342.48 Q223.34,341.37 221.76,339.30 M228.84,332.68 Q225.77,332.27 222.96,333.58 M221.76,339.30 Q222.25,336.42 222.96,333.58 M222.60,322.10 Q220.85,326.44 218.86,330.67 M222.96,333.58 Q221.10,331.86 218.86,330.67 M212.39,325.62 Q215.10,328.16 217.66,330.86 M218.86,330.67 Q218.26,330.77 217.66,330.86 M200.18,342.90 Q203.89,342.16 207.58,342.99 M198.18,337.12 Q201.96,336.57 205.39,334.88 M207.58,342.99 Q205.72,339.15 205.39,334.88 M208.84,327.31 Q208.24,329.91 207.47,332.46 M217.66,330.86 Q216.29,333.17 213.99,334.56 M213.99,334.56 Q210.77,333.41 207.47,332.46 M201.14,329.21 Q203.07,331.94 206.18,333.17 M205.39,334.88 Q205.60,333.94 206.18,333.17 M206.18,333.17 Q206.89,332.92 207.47,332.46 M138.50,289.90 Q137.35,294.03 138.50,298.15 M143.49,298.05 Q141.01,298.83 138.50,298.15 M138.50,305.58 Q139.18,308.41 138.50,311.23 M144.55,304.76 Q141.59,305.69 138.50,305.58 M138.50,298.15 Q137.77,301.87 138.50,305.58 M146.69,301.77 Q145.37,303.09 144.55,304.76 M153.69,320.54 Q149.79,318.59 145.55,317.57 M153.69,320.54 Q154.30,315.32 153.16,310.20 M145.55,317.57 Q145.30,315.15 145.47,312.71 M153.16,310.20 Q150.04,311.40 146.70,311.24 M145.47,312.71 Q146.10,311.99 146.70,311.24 M153.74,320.59 Q153.72,320.56 153.69,320.54 M142.66,320.05 Q143.93,318.61 145.55,317.57 M153.83,309.51 Q153.46,309.83 153.16,310.20 M138.50,311.23 Q142.09,311.47 145.47,312.71 M138.50,320.15 Q137.89,315.69 138.50,311.23 M144.55,304.76 Q146.50,307.71 146.70,311.24 M220.23,347.70 Q218.37,349.63 217.62,352.20 M220.23,347.70 Q217.71,344.95 216.74,341.35 M216.74,341.35 Q215.58,340.91 214.35,340.74 M214.35,340.74 Q211.67,342.26 209.29,344.20 M209.32,344.98 Q209.21,344.59 209.29,344.20 M209.32,344.98 Q212.83,347.92 215.09,351.90 M215.09,351.90 Q216.05,352.06 216.98,352.38 M217.62,352.20 Q217.28,352.21 216.98,352.38 M224.54,356.10 Q221.45,353.50 217.62,352.20 M225.25,346.30 Q222.80,347.20 220.23,347.70 M221.76,339.30 Q218.97,339.63 216.74,341.35 M213.99,334.56 Q213.55,337.69 214.35,340.74 M207.58,342.99 Q208.33,343.74 209.29,344.20 M204.22,352.01 Q206.12,348.03 209.32,344.98 M209.59,355.87 Q211.89,353.26 215.09,351.90 M216.04,360.00 Q216.05,356.13 216.98,352.38 M157.67,289.90 Q161.85,288.94 166.03,289.90 M146.70,289.90 Q152.19,290.95 157.67,289.90 M156.46,297.19 Q156.86,293.51 157.67,289.90 M165.40,296.05 Q166.44,293.05 166.03,289.90 M170.97,289.90 Q168.50,289.93 166.03,289.90" fill="none" stroke="#8c8c8c" stroke-width="1.0" stroke-linecap="round"/>
</g>
<g filter="url(#soft)">
<path d="M209.33,291.01 L207.91,299.80 L200.32,301.01 L196.02,294.95 L196.23,291.01 Z" fill="url(#gS25)" stroke="none"/>
<path d="M176.60,356.85 L181.70,364.55 L191.61,358.76 L190.47,350.84 L183.40,345.80 L180.43,346.45 L176.89,351.20 Z" fill="url(#gS23)" stroke="none"/>
<path d="M221.69,307.31 L226.75,311.94 L225.93,320.07 L221.08,321.28 L214.22,315.50 L216.49,309.07 Z" fill="url(#gS21)" stroke="none"/>
<path d="M149.96,327.71 L149.35,328.51 L139.63,327.34 L139.63,315.79 L145.63,318.04 Z" fill="url(#gS24)" stroke="none"/>
<path d="M247.08,360.69 L246.70,359.73 L243.36,357.82 L232.96,360.17 L234.12,366.96 L243.22,368.39 Z" fill="url(#gS26)" stroke="none"/>
<path d="M162.32,350.03 L161.04,359.47 L163.32,360.24 L172.95,356.66 L173.23,351.01 L162.95,349.50 Z" fill="url(#gS20)" stroke="none"/>
<path d="M188.10,322.54 L192.44,310.65 L186.74,307.88 L182.23,312.74 L186.32,321.76 Z" fill="url(#gS20)" stroke="none"/>
<path d="M193.32,392.09 L199.38,381.22 L206.18,392.09 Z" fill="url(#gS27)" stroke="none"/>
<path d="M247.93,339.86 L254.08,341.97 L258.25,337.33 L254.58,329.43 L248.61,330.75 L247.00,338.30 Z" fill="url(#gS22)" stroke="none"/>
<path d="M168.03,383.71 L169.73,391.61 L180.13,391.61 L175.08,383.37 Z" fill="url(#gS22)" stroke="none"/>
<path d="M256.57,371.28 L247.89,374.05 L245.59,369.58 L249.45,361.89 L257.05,364.65 Z" fill="url(#gS25)" stroke="none"/>
<path d="M244.67,337.81 L234.61,335.00 L235.86,326.88 L243.14,326.79 L246.28,330.25 Z" fill="url(#gS24)" stroke="none"/>
<path d="M230.80,367.53 L227.04,372.85 L218.05,369.37 L215.58,358.95 L216.14,357.94 L228.03,358.88 L229.63,360.74 Z" fill="url(#gS22)" stroke="none"/>
<path d="M212.19,291.47 L221.61,291.47 L223.67,298.95 L220.57,303.98 L215.36,305.74 L210.77,300.26 Z" fill="url(#gS20)" stroke="none"/>
<path d="M183.38,367.42 L193.29,361.62 L198.48,364.43 L199.05,375.56 L198.06,376.85 L189.00,375.77 L183.98,371.45 L183.05,368.96 Z" fill="url(#gS20)" stroke="none"/>
<path d="M191.80,330.42 L199.14,330.98 L202.74,335.59 L201.58,343.24 L192.66,347.76 L185.60,342.72 Z" fill="url(#gS23)" stroke="none"/>
<path d="M190.02,323.24 L194.35,311.35 L197.01,310.45 L204.81,317.74 L199.50,326.28 L192.16,325.72 Z" fill="url(#gS25)" stroke="none"/>
<path d="M262.26,374.76 L268.75,373.07 L268.75,363.80 L263.35,362.69 L259.38,364.82 L258.90,371.44 Z" fill="url(#gS26)" stroke="none"/>
<path d="M259.97,336.53 L268.26,334.95 L268.26,327.44 L260.04,323.52 L259.30,323.85 L256.31,328.63 Z" fill="url(#gS21)" stroke="none"/>
<path d="M228.06,341.08 L222.30,340.60 L216.32,354.08 L216.41,354.53 L228.30,355.46 L230.87,348.24 Z" fill="url(#gS24)" stroke="none"/>
<path d="M213.79,352.96 L205.04,343.76 L206.20,336.11 L216.82,336.27 L219.77,339.48 Z" fill="url(#gS25)" stroke="none"/>
<path d="M248.10,301.63 L247.67,291.30 L239.66,291.30 L237.33,299.67 L239.72,302.99 Z" fill="url(#gS21)" stroke="none"/>
<path d="M235.99,308.78 L228.29,310.26 L223.24,305.63 L226.34,300.59 L234.81,301.49 L237.20,304.81 Z" fill="url(#gS22)" stroke="none"/>
<path d="M257.44,303.85 L253.57,303.68 L250.56,301.53 L250.12,291.19 L257.27,291.19 L260.81,298.58 Z" fill="url(#gS24)" stroke="none"/>
<path d="M263.19,309.54 L259.91,305.43 L263.28,300.16 L269.52,298.51 L269.52,309.64 Z" fill="url(#gS22)" stroke="none"/>
<path d="M257.95,362.16 L261.93,360.03 L259.96,351.68 L255.79,348.99 L249.97,358.43 L250.36,359.39 Z" fill="url(#gS26)" stroke="none"/>
<path d="M148.70,299.20 L156.21,294.67 L159.45,299.41 L157.90,304.91 L155.35,306.01 L149.06,302.81 Z" fill="url(#gS26)" stroke="none"/>
<path d="M150.63,371.35 L139.84,372.07 L139.84,381.57 L148.70,381.75 L151.16,372.56 Z" fill="url(#gS22)" stroke="none"/>
<path d="M245.10,375.49 L244.57,379.29 L233.98,380.72 L230.20,376.50 L229.96,374.90 L233.71,369.58 L242.80,371.02 Z" fill="url(#gS25)" stroke="none"/>
<path d="M215.05,390.72 L215.90,386.50 L211.12,377.32 L202.53,378.23 L201.54,379.52 L201.58,379.85 L208.37,390.72 Z" fill="url(#gS26)" stroke="none"/>
<path d="M243.11,324.23 L246.25,317.49 L239.02,313.91 L234.98,323.17 L235.83,324.32 Z" fill="url(#gS25)" stroke="none"/>
<path d="M167.93,381.62 L166.71,380.69 L166.18,376.42 L168.51,373.04 L179.10,370.43 L180.02,372.92 L174.98,381.27 Z" fill="url(#gS26)" stroke="none"/>
<path d="M170.36,331.94 L174.73,326.66 L184.66,325.54 L186.44,326.32 L188.58,328.80 L182.38,341.10 L179.41,341.75 L170.42,332.45 Z" fill="url(#gS25)" stroke="none"/>
<path d="M260.56,311.65 L258.67,320.40 L257.92,320.73 L249.11,316.56 L253.40,307.37 L257.27,307.54 Z" fill="url(#gS20)" stroke="none"/>
<path d="M253.91,392.12 L244.46,392.12 L247.53,383.39 L253.84,386.26 Z" fill="url(#gS26)" stroke="none"/>
<path d="M166.32,312.78 L158.94,307.32 L156.39,308.42 L154.54,313.96 L159.51,318.34 Z" fill="url(#gS26)" stroke="none"/>
<path d="M261.41,382.68 L262.87,377.11 L269.36,375.43 L269.36,388.48 Z" fill="url(#gS23)" stroke="none"/>
<path d="M214.99,370.09 L212.52,359.68 L201.65,364.26 L202.23,375.40 L210.82,374.49 Z" fill="url(#gS24)" stroke="none"/>
<path d="M224.54,290.67 L226.60,298.14 L235.07,299.04 L237.40,290.67 Z" fill="url(#gS23)" stroke="none"/>
<path d="M167.61,311.03 L160.24,305.57 L161.79,300.06 L169.18,299.61 L171.94,301.84 L170.75,309.17 L168.63,311.00 Z" fill="url(#gS21)" stroke="none"/>
<path d="M160.06,362.36 L155.11,363.91 L153.76,369.98 L154.29,371.19 L163.83,374.80 L166.15,371.42 L162.34,363.14 Z" fill="url(#gS22)" stroke="none"/>
<path d="M150.03,347.09 L150.76,339.25 L149.49,337.52 L140.06,340.86 L140.06,346.07 L147.83,349.11 Z" fill="url(#gS25)" stroke="none"/>
<path d="M263.15,312.21 L269.48,312.31 L269.48,324.88 L261.26,320.96 Z" fill="url(#gS25)" stroke="none"/>
<path d="M152.09,388.35 L148.65,384.63 L139.78,384.45 L139.78,392.14 L152.18,392.14 Z" fill="url(#gS21)" stroke="none"/>
<path d="M192.65,294.77 L185.33,300.20 L180.85,297.99 L181.86,290.83 L192.86,290.83 Z" fill="url(#gS22)" stroke="none"/>
<path d="M244.96,341.63 L240.86,347.09 L233.47,347.22 L230.66,340.06 L233.98,337.26 L244.04,340.07 Z" fill="url(#gS26)" stroke="none"/>
<path d="M147.62,297.41 L155.13,292.88 L155.35,290.31 L140.52,290.31 L140.52,292.33 Z" fill="url(#gS22)" stroke="none"/>
<path d="M167.81,329.82 L172.18,324.55 L168.73,314.45 L167.71,314.48 L160.90,320.04 L160.41,325.06 Z" fill="url(#gS26)" stroke="none"/>
<path d="M152.09,330.58 L151.80,335.82 L153.07,337.55 L160.95,338.63 L166.20,332.91 L166.14,332.41 L158.75,327.64 L152.69,329.78 Z" fill="url(#gS25)" stroke="none"/>
<path d="M185.31,306.55 L184.15,302.59 L179.68,300.38 L174.82,302.30 L173.63,309.64 L180.80,311.42 Z" fill="url(#gS27)" stroke="none"/>
<path d="M181.80,390.59 L176.75,382.35 L181.79,373.99 L186.82,378.31 L182.89,390.59 Z" fill="url(#gS20)" stroke="none"/>
<path d="M262.03,351.20 L264.00,359.54 L269.39,360.65 L269.39,348.79 Z" fill="url(#gS27)" stroke="none"/>
<path d="M231.42,391.37 L218.32,391.37 L219.16,387.15 L227.79,378.66 L231.57,382.88 Z" fill="url(#gS25)" stroke="none"/>
<path d="M202.65,328.24 L207.96,319.69 L212.19,317.90 L219.05,323.69 L216.87,333.01 L206.25,332.85 Z" fill="url(#gS27)" stroke="none"/>
<path d="M139.06,294.37 L139.06,311.19 L146.52,303.06 L146.16,299.45 Z" fill="url(#gS23)" stroke="none"/>
<path d="M208.31,302.32 L212.91,307.80 L210.64,314.23 L206.41,316.03 L198.61,308.74 L200.72,303.54 Z" fill="url(#gS23)" stroke="none"/>
<path d="M160.35,349.77 L151.94,349.18 L149.74,351.20 L150.57,357.43 L154.12,360.75 L159.07,359.20 Z" fill="url(#gS20)" stroke="none"/>
<path d="M163.28,347.21 L162.87,340.39 L168.12,334.67 L177.11,343.97 L173.57,348.72 Z" fill="url(#gS24)" stroke="none"/>
<path d="M148.29,359.87 L139.70,362.37 L139.70,369.97 L150.49,369.25 L151.84,363.19 Z" fill="url(#gS25)" stroke="none"/>
<path d="M163.59,381.07 L163.07,376.80 L153.53,373.19 L151.07,382.39 L154.51,386.11 Z" fill="url(#gS23)" stroke="none"/>
<path d="M173.72,358.75 L178.82,366.46 L178.50,368.00 L167.91,370.61 L164.10,362.33 Z" fill="url(#gS22)" stroke="none"/>
<path d="M166.00,384.15 L164.78,383.22 L155.71,388.26 L155.81,392.05 L167.70,392.05 Z" fill="url(#gS21)" stroke="none"/>
<path d="M184.34,322.66 L180.25,313.64 L173.07,311.86 L170.95,313.69 L174.41,323.79 Z" fill="url(#gS22)" stroke="none"/>
<path d="M251.55,306.50 L247.26,315.70 L247.11,315.76 L239.88,312.18 L238.95,309.69 L240.17,305.71 L248.54,304.36 Z" fill="url(#gS21)" stroke="none"/>
<path d="M245.53,382.69 L244.86,381.50 L234.28,382.92 L234.13,391.42 L242.46,391.42 Z" fill="url(#gS20)" stroke="none"/>
<path d="M246.84,343.03 L242.73,348.50 L244.77,355.37 L248.11,357.28 L253.92,347.84 L252.99,345.14 Z" fill="url(#gS22)" stroke="none"/>
<path d="M146.87,351.57 L139.10,348.53 L139.10,360.31 L147.69,357.81 Z" fill="url(#gS24)" stroke="none"/>
<path d="M228.37,337.35 L222.61,336.87 L219.66,333.66 L221.84,324.34 L226.70,323.13 L232.10,325.27 L232.95,326.43 L231.70,334.55 Z" fill="url(#gS21)" stroke="none"/>
<path d="M170.98,297.37 L173.75,299.60 L178.61,297.68 L179.61,290.51 L170.71,290.51 Z" fill="url(#gS21)" stroke="none"/>
<path d="M151.69,326.93 L157.75,324.80 L158.23,319.79 L153.27,315.41 L147.36,317.27 Z" fill="url(#gS21)" stroke="none"/>
<path d="M254.95,383.84 L248.63,380.96 L247.97,379.77 L248.50,375.97 L257.18,373.19 L260.54,376.50 L259.08,382.07 Z" fill="url(#gS27)" stroke="none"/>
<path d="M268.87,290.32 L259.09,290.32 L262.63,297.71 L268.87,296.06 Z" fill="url(#gS22)" stroke="none"/>
<path d="M158.41,293.16 L161.65,297.90 L169.05,297.45 L168.77,290.59 L158.63,290.59 Z" fill="url(#gS26)" stroke="none"/>
<path d="M256.34,344.00 L257.26,346.70 L261.44,349.39 L268.80,346.98 L268.80,337.78 L260.51,339.36 Z" fill="url(#gS26)" stroke="none"/>
<path d="M191.67,391.17 L197.73,380.30 L197.69,379.97 L188.63,378.89 L184.70,391.17 Z" fill="url(#gS22)" stroke="none"/>
<path d="M140.70,312.93 L140.70,312.70 L148.16,304.57 L154.46,307.77 L152.61,313.32 L146.71,315.18 Z" fill="url(#gS20)" stroke="none"/>
<path d="M211.73,355.46 L211.16,356.47 L200.30,361.05 L195.11,358.25 L193.97,350.33 L202.89,345.81 L211.64,355.01 Z" fill="url(#gS24)" stroke="none"/>
<path d="M236.35,310.66 L228.65,312.13 L227.84,320.26 L233.24,322.41 L237.28,313.15 Z" fill="url(#gS22)" stroke="none"/>
<path d="M226.01,375.51 L217.02,372.02 L212.85,376.42 L217.63,385.60 L226.26,377.10 Z" fill="url(#gS26)" stroke="none"/>
<path d="M193.90,296.45 L186.57,301.88 L187.73,305.84 L193.43,308.62 L196.09,307.71 L198.20,302.52 Z" fill="url(#gS27)" stroke="none"/>
<path d="M149.12,330.41 L148.83,335.66 L139.40,339.00 L139.40,329.24 Z" fill="url(#gS22)" stroke="none"/>
<path d="M160.48,347.87 L152.08,347.28 L152.81,339.44 L160.69,340.52 L161.11,347.34 Z" fill="url(#gS25)" stroke="none"/>
<path d="M248.13,328.58 L244.99,325.11 L248.13,318.37 L248.29,318.31 L257.10,322.47 L254.11,327.26 Z" fill="url(#gS22)" stroke="none"/>
<path d="M268.06,392.10 L256.04,392.10 L255.97,386.24 L260.11,384.48 L268.06,390.27 Z" fill="url(#gS21)" stroke="none"/>
<path d="M233.50,349.18 L230.93,356.40 L232.53,358.26 L242.93,355.91 L240.89,349.05 Z" fill="url(#gS23)" stroke="none"/>
</g>
<g filter="url(#soft3)">
<ellipse cx="175" cy="330" rx="18" ry="14" fill="#8a8a8a" opacity="0.35"/>
<ellipse cx="200" cy="360" rx="14" ry="12" fill="#7a7a7a" opacity="0.3"/>
<ellipse cx="150" cy="370" rx="8" ry="14" fill="#222" opacity="0.4"/>
<ellipse cx="240" cy="320" rx="12" ry="10" fill="#333" opacity="0.35"/>
</g>
<g filter="url(#wavyS2)">
<path d="M217.96,334.66 Q211.28,336.93 204.68,334.45 M217.96,334.66 Q218.05,328.53 220.68,323.01 M204.68,334.45 Q200.78,332.87 200.18,328.70 M226.75,321.49 Q223.55,321.57 220.68,323.01 M226.75,321.49 Q228.10,316.50 227.77,311.33 M227.77,311.33 Q223.76,309.36 221.45,305.54 M214.94,307.74 Q218.91,308.74 221.45,305.54 M155.69,307.29 Q154.33,310.69 153.38,314.23 M159.59,319.70 Q163.36,315.63 168.10,312.74 M173.51,301.26 Q172.14,299.43 170.06,298.47 M158.88,305.92 Q162.05,303.10 160.82,299.03 M160.82,299.03 Q165.40,298.13 170.06,298.47 M204.68,334.45 Q206.08,339.56 203.23,344.02 M200.18,328.70 Q195.64,327.76 191.00,328.00 M192.09,349.67 Q197.46,346.45 203.23,344.02 M173.69,325.32 Q179.92,324.86 186.10,323.92 M186.10,323.92 Q187.16,324.54 188.33,324.90 M213.58,357.34 Q215.08,363.86 216.67,370.36 M200.72,376.99 Q202.24,369.94 200.00,363.07 M238.91,304.52 Q244.13,303.60 249.38,302.82 M249.38,302.82 Q251.80,303.42 253.14,305.51 M238.83,289.90 Q243.84,289.29 248.84,289.90 M233.51,324.17 Q230.49,321.91 226.75,321.49 M258.79,322.21 Q254.10,317.88 247.78,317.00 M259.72,321.80 Q259.32,322.14 258.79,322.21 M270.00,289.90 Q269.77,293.49 270.00,297.07 M262.20,299.14 Q265.60,296.22 270.00,297.07 M179.59,298.86 Q182.79,294.74 180.85,289.90 M185.18,301.61 Q189.82,298.30 194.34,294.82 M197.08,308.90 Q199.32,306.03 199.71,302.41 M169.72,289.90 Q163.38,288.44 157.04,289.90 M157.04,289.90 Q147.77,288.30 138.50,289.90 M155.69,307.29 Q152.90,303.04 147.82,303.29 M138.50,289.90 Q138.38,291.16 138.50,292.42 M179.54,344.18 Q175.48,336.85 168.29,332.55 M179.54,344.18 Q181.14,342.62 183.25,343.37 M153.89,387.87 Q153.76,390.24 154.01,392.60 M152.65,371.71 Q151.96,371.12 151.99,370.20 M138.50,346.88 Q137.03,354.24 138.50,361.60 M200.72,376.99 Q199.61,377.42 199.48,378.60 M193.52,359.57 Q188.31,364.88 181.13,366.81 M247.59,317.08 Q244.88,320.94 243.67,325.50 M217.96,334.66 Q221.02,335.54 221.64,338.67 M221.64,338.67 Q217.50,346.91 214.17,355.52 M217.43,387.32 Q214.86,381.37 211.46,375.85 M151.88,338.35 Q151.55,336.93 150.29,336.19 M161.74,339.70 Q157.11,336.85 151.88,338.35 M138.50,361.60 Q143.39,358.38 149.24,358.48 M149.24,358.48 Q150.97,354.28 148.21,350.68 M150.29,336.19 Q144.74,339.25 138.50,340.37 M151.88,338.35 Q152.33,343.34 150.96,348.16 M217.43,387.32 Q216.21,389.82 216.37,392.60 M232.94,381.98 Q231.45,387.27 232.75,392.60 M154.01,392.60 Q161.44,393.21 168.88,392.60 M164.58,376.23 Q165.70,373.89 167.48,372.01 M231.14,359.58 Q232.70,363.68 232.60,368.06 M150.65,329.63 Q144.44,330.05 138.50,328.16 M146.00,316.55 Q142.56,314.32 138.50,313.74 M162.72,361.65 Q168.41,358.52 174.75,357.18 M159.88,360.68 Q158.68,354.52 161.47,348.89 M175.11,350.12 Q168.42,350.93 162.25,348.23 M153.68,362.62 Q156.63,361.17 159.88,360.68 M161.74,339.70 Q161.19,344.02 162.25,348.23 M216.37,392.60 Q212.20,394.08 208.02,392.60 M199.53,379.01 Q196.50,386.23 191.95,392.60 M270.00,336.08 Q267.43,331.39 270.00,326.70 M270.00,347.59 Q270.21,341.84 270.00,336.08 M259.72,321.80 Q264.08,325.88 270.00,326.70 M247.59,329.83 Q244.69,334.15 245.57,339.28 M254.42,343.86 Q250.38,343.11 246.73,341.22 M243.67,325.50 Q244.50,328.69 247.59,329.83 M233.00,335.77 Q238.86,339.07 245.57,339.28 M255.58,347.23 Q254.00,345.89 254.42,343.86 M194.60,289.90 Q202.79,290.14 210.98,289.90 M209.20,300.89 Q210.46,295.45 210.98,289.90 M248.79,360.24 Q252.90,363.74 258.29,363.69 M258.29,363.69 Q256.55,367.73 257.69,371.97 M248.32,359.03 Q248.67,359.59 248.79,360.24 M232.94,381.98 Q239.47,380.43 246.17,380.20 M246.17,380.20 Q245.47,377.67 246.84,375.44 M181.88,392.60 Q182.56,392.31 183.24,392.60 M168.88,392.60 Q175.38,394.47 181.88,392.60 M188.16,377.25 Q186.04,385.04 183.24,392.60 M232.75,392.60 Q237.96,393.11 243.17,392.60 M260.06,383.07 Q257.65,384.56 254.90,385.28 M270.00,347.59 Q268.42,355.00 270.00,362.41 M260.06,383.07 Q264.49,387.43 270.00,390.31" fill="none" stroke="#b4b4b4" stroke-width="0.66" stroke-linecap="round" stroke-linejoin="round"/>
<path d="M185.18,301.61 Q181.77,301.47 179.59,298.86 M185.18,301.61 Q184.93,304.37 186.63,306.57 M179.59,298.86 Q177.31,301.99 173.51,301.26 M172.02,310.42 Q175.96,313.73 180.99,312.65 M180.99,312.65 Q183.98,309.77 186.63,306.57 M220.68,323.01 Q216.84,318.87 212.11,315.77 M212.11,315.77 Q208.95,315.68 206.82,318.01 M206.82,318.01 Q201.47,322.10 200.18,328.70 M138.50,392.60 Q136.67,387.79 138.50,382.98 M153.38,314.23 Q155.53,318.05 159.59,319.70 M169.37,312.71 Q168.73,312.66 168.10,312.74 M192.09,349.67 Q186.22,348.56 183.25,343.37 M183.25,343.37 Q187.21,335.73 191.00,328.00 M169.37,312.71 Q170.59,319.34 173.69,325.32 M197.08,308.90 Q195.58,309.98 193.75,310.03 M193.75,310.03 Q189.51,316.91 188.33,324.90 M186.63,306.57 Q191.15,306.31 193.75,310.03 M200.00,363.07 Q206.58,359.72 213.58,357.34 M200.72,376.99 Q206.07,376.27 211.46,375.85 M211.46,375.85 Q214.13,373.17 216.67,370.36 M238.91,304.52 Q238.40,307.08 237.40,309.49 M238.56,312.60 Q237.21,311.33 237.40,309.49 M247.78,317.00 Q250.74,311.38 253.14,305.51 M235.92,300.37 Q236.22,303.31 238.91,304.52 M235.92,300.37 Q234.97,294.47 238.83,289.90 M248.84,289.90 Q247.17,296.44 249.38,302.82 M225.33,299.24 Q223.30,302.33 221.45,305.54 M235.92,300.37 Q230.75,298.60 225.33,299.24 M233.51,324.17 Q235.03,317.95 238.56,312.60 M257.77,289.90 Q253.30,287.32 248.84,289.90 M257.77,289.90 Q261.96,293.57 262.20,299.14 M259.72,321.80 Q262.45,316.66 262.09,310.86 M257.98,305.72 Q259.70,308.55 262.09,310.86 M270.00,310.98 Q269.96,304.03 270.00,297.07 M257.77,289.90 Q263.89,292.04 270.00,289.90 M169.72,289.90 Q175.28,287.89 180.85,289.90 M170.06,298.47 Q171.24,294.13 169.72,289.90 M199.71,302.41 Q204.08,299.29 209.20,300.89 M147.82,303.29 Q143.07,308.29 138.50,313.45 M147.82,303.29 Q146.30,301.16 147.38,298.78 M147.38,298.78 Q142.55,296.14 138.50,292.42 M156.76,293.12 Q153.17,297.77 147.38,298.78 M173.69,325.32 Q170.29,328.07 168.22,331.92 M158.98,325.96 Q164.55,327.47 168.22,331.92 M138.50,340.37 Q137.54,343.63 138.50,346.88 M149.58,383.21 Q152.35,384.97 153.89,387.87 M149.58,383.21 Q144.02,383.94 138.50,382.98 M138.50,392.60 Q146.25,393.43 154.01,392.60 M152.65,371.71 Q158.27,374.88 164.58,376.23 M164.58,376.23 Q166.26,378.73 165.23,381.56 M153.89,387.87 Q158.86,383.46 165.23,381.56 M138.50,382.98 Q136.88,377.04 138.50,371.11 M138.50,371.11 Q137.86,366.35 138.50,361.60 M181.87,371.85 Q183.35,376.48 188.16,377.25 M181.87,371.85 Q182.07,370.01 180.72,368.74 M193.52,359.57 Q196.93,360.99 200.00,363.07 M180.72,368.74 Q181.37,367.87 181.13,366.81 M234.56,325.62 Q239.10,324.31 243.67,325.50 M214.17,355.52 Q214.22,355.80 214.29,356.08 M217.43,387.32 Q221.60,380.77 228.22,376.71 M216.67,370.36 Q221.49,374.61 227.91,374.71 M228.22,376.71 Q228.00,375.72 227.91,374.71 M180.85,289.90 Q187.72,290.22 194.60,289.90 M158.98,325.96 Q155.06,326.92 151.41,328.63 M146.00,316.55 Q148.19,322.82 151.41,328.63 M161.74,339.70 Q166.66,337.64 168.29,332.55 M151.99,370.20 Q155.28,366.96 153.68,362.62 M138.50,346.88 Q142.81,350.18 148.21,350.68 M148.21,350.68 Q149.85,349.70 150.96,348.16 M232.75,392.60 Q224.56,391.15 216.37,392.60 M165.23,381.56 Q165.97,382.18 166.76,382.72 M166.76,382.72 Q169.13,387.38 168.88,392.60 M167.48,372.01 Q174.03,370.09 180.72,368.74 M229.15,357.25 Q230.64,357.99 231.14,359.58 M138.50,328.16 Q136.92,320.95 138.50,313.74 M138.50,313.45 Q138.57,313.59 138.50,313.74 M175.11,350.12 Q176.89,353.75 174.75,357.18 M167.48,372.01 Q166.18,366.33 162.72,361.65 M150.96,348.16 Q156.12,350.00 161.47,348.89 M179.54,344.18 Q176.15,346.27 175.11,350.12 M208.02,392.60 Q199.99,390.34 191.95,392.60 M199.53,379.01 Q203.91,385.72 208.02,392.60 M199.48,378.60 Q199.57,378.80 199.53,379.01 M229.15,357.25 Q231.77,353.09 232.36,348.22 M244.15,356.64 Q243.15,352.27 241.60,348.06 M241.60,348.06 Q236.97,347.67 232.36,348.22 M221.64,338.67 Q225.27,338.67 228.85,339.27 M233.00,335.77 Q229.98,336.40 228.85,339.27 M255.06,328.19 Q250.90,327.10 247.59,329.83 M255.06,328.19 Q258.37,332.65 259.63,338.06 M259.63,338.06 Q256.74,340.70 254.42,343.86 M270.00,336.08 Q265.00,338.05 259.63,338.06 M260.80,350.60 Q265.43,349.19 270.00,347.59 M260.80,350.60 Q258.95,347.73 255.58,347.23 M248.32,359.03 Q249.83,351.83 255.58,347.23 M244.15,356.64 Q245.76,358.66 248.32,359.03 M241.60,348.06 Q244.51,344.90 246.73,341.22 M222.75,289.90 Q216.87,291.96 210.98,289.90 M238.83,289.90 Q230.79,290.75 222.75,289.90 M243.97,369.86 Q248.12,365.92 248.79,360.24 M243.97,369.86 Q244.24,373.25 246.84,375.44 M246.84,375.44 Q251.49,371.29 257.69,371.97 M263.25,361.03 Q260.57,356.16 260.80,350.60 M263.25,361.03 Q261.61,363.93 258.29,363.69 M175.57,382.30 Q178.17,387.79 181.88,392.60 M191.95,392.60 Q187.60,391.97 183.24,392.60 M261.89,376.11 Q263.21,380.18 260.06,383.07 M247.00,381.69 Q249.92,385.74 254.90,385.28 M270.00,374.00 Q271.61,368.21 270.00,362.41 M270.00,390.31 Q269.43,382.16 270.00,374.00 M261.89,376.11 Q265.60,373.73 270.00,374.00 M254.90,385.28 Q255.17,388.94 254.98,392.60 M270.00,390.31 Q270.18,391.46 270.00,392.60" fill="none" stroke="#cccccc" stroke-width="0.95" stroke-linecap="round" stroke-linejoin="round"/>
<path d="M172.02,310.42 Q174.27,306.08 173.51,301.26 M212.11,315.77 Q214.66,312.16 214.94,307.74 M158.88,305.92 Q163.01,309.98 168.10,312.74 M158.88,305.92 Q156.96,305.86 155.69,307.29 M172.02,310.42 Q170.69,311.56 169.37,312.71 M180.99,312.65 Q184.10,318.03 186.10,323.92 M197.08,308.90 Q200.20,315.33 206.82,318.01 M191.00,328.00 Q189.48,326.61 188.33,324.90 M238.56,312.60 Q243.43,314.12 247.59,317.08 M247.59,317.08 Q247.69,317.06 247.78,317.00 M227.77,311.33 Q232.66,310.80 237.40,309.49 M253.14,305.51 Q255.61,304.63 257.98,305.72 M262.20,299.14 Q259.31,301.93 257.98,305.72 M262.09,310.86 Q266.05,310.23 270.00,310.98 M199.71,302.41 Q198.13,297.83 194.34,294.82 M214.94,307.74 Q212.68,303.80 209.20,300.89 M160.82,299.03 Q157.34,297.07 156.76,293.12 M156.76,293.12 Q157.53,291.56 157.04,289.90 M138.50,313.45 Q137.56,302.94 138.50,292.42 M159.59,319.70 Q159.88,322.89 158.98,325.96 M168.29,332.55 Q168.32,332.23 168.22,331.92 M149.58,383.21 Q153.04,377.98 152.65,371.71 M151.99,370.20 Q145.09,368.36 138.50,371.11 M199.48,378.60 Q193.97,376.66 188.16,377.25 M233.51,324.17 Q233.64,325.19 234.56,325.62 M203.23,344.02 Q209.09,349.40 214.17,355.52 M192.09,349.67 Q194.63,354.35 193.52,359.57 M213.58,357.34 Q213.76,356.61 214.29,356.08 M194.34,294.82 Q193.36,292.30 194.60,289.90 M153.38,314.23 Q150.22,317.08 146.00,316.55 M150.29,336.19 Q149.78,332.87 150.65,329.63 M151.41,328.63 Q151.00,329.10 150.65,329.63 M153.68,362.62 Q152.39,359.56 149.24,358.48 M232.94,381.98 Q229.53,380.28 228.22,376.71 M181.87,371.85 Q179.14,377.32 175.57,382.30 M175.57,382.30 Q171.25,384.20 166.76,382.72 M229.15,357.25 Q221.57,358.49 214.29,356.08 M227.91,374.71 Q231.54,372.29 232.60,368.06 M138.50,340.37 Q139.47,334.27 138.50,328.16 M162.72,361.65 Q161.37,360.96 159.88,360.68 M162.25,348.23 Q161.76,348.44 161.47,348.89 M181.13,366.81 Q179.98,360.65 174.75,357.18 M270.00,310.98 Q272.45,318.84 270.00,326.70 M244.15,356.64 Q237.65,358.13 231.14,359.58 M232.36,348.22 Q232.57,342.97 228.85,339.27 M234.56,325.62 Q231.70,330.37 233.00,335.77 M245.57,339.28 Q246.45,340.07 246.73,341.22 M258.79,322.21 Q256.88,325.17 255.06,328.19 M225.33,299.24 Q224.54,294.43 222.75,289.90 M232.60,368.06 Q238.50,367.59 243.97,369.86 M246.17,380.20 Q246.45,381.02 247.00,381.69 M247.00,381.69 Q246.41,387.61 243.17,392.60 M261.89,376.11 Q260.24,373.59 257.69,371.97 M263.25,361.03 Q266.87,360.52 270.00,362.41 M270.00,392.60 Q262.49,394.51 254.98,392.60 M243.17,392.60 Q249.07,390.23 254.98,392.60" fill="none" stroke="#e6e6e6" stroke-width="1.42" stroke-linecap="round" stroke-linejoin="round"/>
</g>
<filter id="grain5" color-interpolation-filters="sRGB" x="146.5" y="297.9" width="115.50" height="86.70" filterUnits="userSpaceOnUse"><feTurbulence type="fractalNoise" baseFrequency="0.25" numOctaves="3" seed="5" result="n"/><feColorMatrix in="n" type="matrix" values="0.6 0.6 0.6 0 -0.4  0.6 0.6 0.6 0 -0.4  0.6 0.6 0.6 0 -0.4  0 0 0 0 1"/></filter>
<rect x="146.5" y="297.9" width="115.50" height="86.70" filter="url(#grain5)" opacity="0.4" style="mix-blend-mode:overlay"/>
<line x1="245.40" y1="375.80" x2="255.00" y2="375.80" stroke="#ffffff" stroke-width="1.3" />
<text x="249.60" y="382.00" font-size="6.6" text-anchor="middle" font-weight="normal" fill="#ffffff" stroke="#ffffff" stroke-width="0.15" textLength="19" lengthAdjust="spacingAndGlyphs">10 μm</text>
</g>
<clipPath id="clipS3"><rect x="267.0" y="297.9" width="116.10" height="86.70"/></clipPath>
<defs><linearGradient id="gS30" x1="0.00" y1="0.50" x2="1.00" y2="0.50"><stop offset="0" stop-color="#262626" stop-opacity="0.85"/><stop offset="0.6" stop-color="#262626" stop-opacity="0.45"/><stop offset="1" stop-color="#262626" stop-opacity="0.0"/></linearGradient><linearGradient id="gS31" x1="0.15" y1="0.15" x2="0.85" y2="0.85"><stop offset="0" stop-color="#262626" stop-opacity="0.85"/><stop offset="0.6" stop-color="#262626" stop-opacity="0.45"/><stop offset="1" stop-color="#262626" stop-opacity="0.0"/></linearGradient><linearGradient id="gS32" x1="0.50" y1="0.00" x2="0.50" y2="1.00"><stop offset="0" stop-color="#262626" stop-opacity="0.85"/><stop offset="0.6" stop-color="#262626" stop-opacity="0.45"/><stop offset="1" stop-color="#262626" stop-opacity="0.0"/></linearGradient><linearGradient id="gS33" x1="0.85" y1="0.15" x2="0.15" y2="0.85"><stop offset="0" stop-color="#262626" stop-opacity="0.85"/><stop offset="0.6" stop-color="#262626" stop-opacity="0.45"/><stop offset="1" stop-color="#262626" stop-opacity="0.0"/></linearGradient><linearGradient id="gS34" x1="1.00" y1="0.50" x2="0.00" y2="0.50"><stop offset="0" stop-color="#262626" stop-opacity="0.85"/><stop offset="0.6" stop-color="#262626" stop-opacity="0.45"/><stop offset="1" stop-color="#262626" stop-opacity="0.0"/></linearGradient><linearGradient id="gS35" x1="0.85" y1="0.85" x2="0.15" y2="0.15"><stop offset="0" stop-color="#262626" stop-opacity="0.85"/><stop offset="0.6" stop-color="#262626" stop-opacity="0.45"/><stop offset="1" stop-color="#262626" stop-opacity="0.0"/></linearGradient><linearGradient id="gS36" x1="0.50" y1="1.00" x2="0.50" y2="0.00"><stop offset="0" stop-color="#262626" stop-opacity="0.85"/><stop offset="0.6" stop-color="#262626" stop-opacity="0.45"/><stop offset="1" stop-color="#262626" stop-opacity="0.0"/></linearGradient><linearGradient id="gS37" x1="0.15" y1="0.85" x2="0.85" y2="0.15"><stop offset="0" stop-color="#262626" stop-opacity="0.85"/><stop offset="0.6" stop-color="#262626" stop-opacity="0.45"/><stop offset="1" stop-color="#262626" stop-opacity="0.0"/></linearGradient></defs>
<filter id="wavyS3" x="255.0" y="285.9" width="140.10" height="110.70" filterUnits="userSpaceOnUse" color-interpolation-filters="sRGB"><feTurbulence type="fractalNoise" baseFrequency="0.045" numOctaves="1" seed="65" result="t"/><feDisplacementMap in="SourceGraphic" in2="t" scale="6" xChannelSelector="R" yChannelSelector="G" result="d"/><feGaussianBlur in="d" stdDeviation="0.45"/></filter>
<g clip-path="url(#clipS3)">
<rect x="267.00" y="297.90" width="116.10" height="86.70" fill="#747474" stroke="none" stroke-width="0" />
<g filter="url(#wavyS3)">
<path d="M391.10,392.60 Q382.62,392.78 374.14,392.60 M321.07,304.07 Q323.56,300.87 326.95,298.62 M326.95,298.62 Q324.42,294.89 321.68,291.30 M321.07,304.07 Q318.35,301.02 314.44,299.84 M321.68,291.30 Q318.58,296.00 314.44,299.84 M308.73,289.90 Q315.13,289.75 321.52,289.90 M362.28,359.66 Q357.19,359.11 352.16,358.16 M365.90,354.03 Q363.93,356.75 362.28,359.66 M365.90,354.03 Q365.83,353.95 365.79,353.86 M352.16,358.16 Q355.34,354.33 357.69,349.95 M357.69,349.95 Q361.71,351.97 365.79,353.86 M357.69,349.95 Q356.72,348.25 356.37,346.32 M367.02,342.39 Q363.15,341.97 359.29,342.49 M365.79,353.86 Q367.37,348.23 367.02,342.39 M359.29,342.49 Q357.92,344.48 356.37,346.32 M340.45,338.16 Q340.50,341.86 342.10,345.19 M340.45,338.16 Q341.05,336.80 341.95,335.61 M342.10,345.19 Q345.92,344.04 349.81,344.94 M349.81,344.94 Q348.93,340.84 349.02,336.65 M341.95,335.61 Q345.61,335.28 349.02,336.65 M357.57,337.71 Q353.84,337.09 350.32,335.71 M357.57,337.71 Q358.91,339.93 359.29,342.49 M356.37,346.32 Q353.41,345.49 350.34,345.49 M349.81,344.94 Q350.15,345.15 350.34,345.49 M349.02,336.65 Q349.73,336.27 350.32,335.71 M390.73,361.46 Q385.71,364.27 382.08,368.74 M382.08,368.74 Q379.69,365.76 376.28,364.05 M390.73,361.46 Q385.26,360.39 380.65,357.26 M376.28,364.05 Q378.56,360.75 380.57,357.28 M380.65,357.26 Q380.61,357.28 380.57,357.28 M369.37,354.75 Q370.85,359.85 372.67,364.85 M369.37,354.75 Q370.96,354.46 372.32,353.60 M376.28,364.05 Q374.46,364.39 372.67,364.85 M380.57,357.28 Q376.29,355.80 372.32,353.60 M361.12,332.27 Q359.10,334.83 357.57,337.71 M361.12,332.27 Q362.37,332.12 363.60,331.91 M367.02,342.39 Q368.07,341.78 368.95,340.94 M363.60,331.91 Q366.91,336.05 368.95,340.94 M365.90,354.03 Q367.69,354.12 369.37,354.75 M372.32,353.60 Q373.77,351.08 374.80,348.36 M374.80,348.36 Q372.07,344.85 370.15,340.84 M368.95,340.94 Q369.54,340.76 370.15,340.84 M391.10,289.90 Q385.18,288.89 379.26,289.90 M380.81,295.78 Q384.25,298.58 387.98,300.95 M387.98,300.95 Q389.52,300.52 391.10,300.68 M391.10,289.90 Q390.63,295.29 391.10,300.68 M380.81,295.78 Q379.65,292.94 379.26,289.90 M372.17,289.90 Q365.76,291.02 359.36,289.90 M368.20,298.29 Q369.16,293.61 372.17,289.90 M365.78,298.80 Q363.50,293.68 359.36,289.90 M368.20,298.29 Q367.02,298.69 365.78,298.80 M380.81,295.78 Q378.02,299.55 374.04,302.03 M379.26,289.90 Q375.72,290.15 372.17,289.90 M374.04,302.03 Q371.26,299.94 368.20,298.29 M361.53,304.08 Q363.78,301.54 365.78,298.80 M361.53,304.08 Q357.91,301.29 354.90,297.86 M354.90,297.86 Q357.16,293.91 359.29,289.90 M359.29,289.90 Q359.33,289.89 359.36,289.90 M391.10,392.03 Q391.45,384.82 391.10,377.61 M379.76,384.36 Q385.73,387.76 391.10,392.03 M379.76,384.36 Q379.58,383.06 379.57,381.75 M379.57,381.75 Q384.47,379.93 389.01,377.34 M389.01,377.34 Q390.06,377.47 391.10,377.61 M391.10,392.60 Q391.07,392.31 391.10,392.03 M379.76,384.36 Q376.48,388.16 374.14,392.60 M391.10,361.42 Q390.89,369.52 391.10,377.61 M390.73,361.46 Q390.91,361.42 391.10,361.42 M389.01,377.34 Q385.97,373.48 381.97,370.61 M382.08,368.74 Q382.17,369.68 381.97,370.61 M308.73,289.90 Q309.99,294.93 311.86,299.78 M321.68,291.30 Q321.76,290.58 321.52,289.90 M314.44,299.84 Q313.59,299.87 312.79,300.18 M311.86,299.78 Q312.31,300.02 312.79,300.18 M330.59,299.74 Q328.84,298.94 326.95,298.62 M332.41,307.64 Q332.35,307.71 332.32,307.79 M332.32,307.79 Q328.59,309.05 325.25,311.14 M330.59,299.74 Q330.62,303.90 332.41,307.64 M321.07,304.07 Q321.07,305.93 321.00,307.79 M321.00,307.79 Q322.73,309.97 325.25,311.14 M312.79,300.18 Q312.79,305.80 312.80,311.41 M321.00,307.79 Q316.85,309.50 312.80,311.41 M304.36,302.87 Q304.60,302.23 304.96,301.67 M311.86,299.78 Q308.44,300.84 304.96,301.67 M306.59,310.45 Q309.62,311.04 312.68,311.58 M306.59,310.45 Q305.84,306.55 304.36,302.87 M312.80,311.41 Q312.72,311.48 312.68,311.58 M342.10,345.19 Q341.39,345.99 340.85,346.92 M340.85,346.92 Q337.86,346.52 334.96,347.39 M340.45,338.16 Q337.00,340.07 333.09,340.54 M334.96,347.39 Q333.35,344.15 333.09,340.54 M308.73,289.90 Q306.30,290.05 303.87,289.90 M301.55,295.35 Q303.54,298.35 304.96,301.67 M301.55,295.35 Q302.45,292.51 303.87,289.90 M290.23,289.90 Q297.05,290.77 303.87,289.90 M379.57,381.75 Q377.81,380.52 376.31,378.98 M381.97,370.61 Q379.47,373.62 375.88,375.17 M375.88,375.17 Q375.66,377.12 376.31,378.98 M359.74,385.45 Q359.29,381.60 357.06,378.43 M357.14,388.77 Q358.54,387.19 359.74,385.45 M349.00,384.25 Q349.12,384.78 349.22,385.32 M349.00,384.25 Q353.20,381.86 356.42,378.25 M349.22,385.32 Q353.40,386.54 357.14,388.77 M356.42,378.25 Q356.76,378.27 357.06,378.43 M367.46,385.39 Q367.72,384.13 368.18,382.94 M367.46,385.39 Q363.60,385.10 359.74,385.45 M368.18,382.94 Q365.91,379.17 364.25,375.09 M357.06,378.43 Q360.18,375.73 364.25,375.09 M352.04,372.33 Q354.56,375.05 356.42,378.25 M349.00,384.25 Q347.65,382.41 345.68,381.26 M350.70,372.23 Q347.85,374.06 345.82,376.77 M350.70,372.23 Q351.36,372.36 352.04,372.33 M345.68,381.26 Q345.09,379.00 345.82,376.77 M341.18,355.84 Q341.00,360.48 338.61,364.47 M341.18,355.84 Q342.37,355.30 343.42,354.51 M343.42,354.51 Q345.27,354.67 347.12,354.93 M345.59,366.21 Q343.15,365.68 340.78,366.45 M345.59,366.21 Q348.27,362.32 351.27,358.66 M347.12,354.93 Q349.69,356.18 351.28,358.56 M340.78,366.45 Q339.93,365.60 338.82,365.11 M351.27,358.66 Q351.26,358.61 351.28,358.56 M338.82,365.11 Q338.71,364.79 338.61,364.47 M330.11,358.75 Q331.45,355.98 333.20,353.47 M333.20,353.47 Q337.05,355.12 341.18,355.84 M330.11,358.75 Q334.62,361.21 338.61,364.47 M333.20,353.47 Q332.51,352.07 332.62,350.51 M332.62,350.51 Q334.03,349.12 334.96,347.39 M340.85,346.92 Q342.80,350.49 343.42,354.51 M350.34,345.49 Q347.93,349.94 347.12,354.93 M350.70,372.23 Q348.96,368.53 345.59,366.21 M340.48,373.62 Q343.43,374.72 345.82,376.77 M340.48,373.62 Q340.51,370.03 340.78,366.45 M352.04,372.33 Q354.24,370.10 356.36,367.80 M356.36,367.80 Q354.49,362.85 351.27,358.66 M352.16,358.16 Q351.73,358.37 351.28,358.56 M326.52,360.14 Q328.19,359.11 330.11,358.75 M326.52,360.14 Q326.49,361.53 326.25,362.91 M326.25,362.91 Q327.89,367.01 330.91,370.24 M330.91,370.24 Q335.33,368.40 338.82,365.11 M330.86,333.02 Q333.73,332.33 336.30,330.89 M330.86,333.02 Q331.05,336.81 332.57,340.28 M341.95,335.61 Q341.25,334.75 341.13,333.65 M332.57,340.28 Q332.85,340.37 333.09,340.54 M336.30,330.89 Q338.58,332.49 341.13,333.65 M369.78,309.07 Q365.19,307.64 361.46,304.61 M369.78,309.07 Q370.91,311.87 371.03,314.89 M364.00,317.39 Q367.56,316.26 371.03,314.89 M364.00,317.39 Q362.95,311.62 360.01,306.55 M360.01,306.55 Q360.70,305.55 361.46,304.61 M361.53,304.08 Q361.47,304.35 361.46,304.61 M374.04,302.03 Q374.04,302.56 374.22,303.07 M374.22,303.07 Q371.64,305.80 369.78,309.07 M380.99,327.90 Q377.01,326.99 372.93,326.73 M380.99,327.90 Q378.79,332.74 378.85,338.05 M378.85,338.05 Q376.46,338.37 374.07,338.10 M374.07,338.10 Q372.73,332.91 371.63,327.67 M371.63,327.67 Q372.22,327.12 372.93,326.73 M367.07,327.62 Q369.34,328.19 371.63,327.67 M363.60,331.91 Q365.94,330.25 367.07,327.62 M370.15,340.84 Q372.43,339.93 374.07,338.10 M297.67,304.72 Q301.24,304.61 304.36,302.87 M297.67,304.72 Q297.32,307.82 297.96,310.89 M306.59,310.45 Q304.23,311.64 302.17,313.29 M302.17,313.29 Q300.28,311.72 297.96,310.89 M349.71,299.02 Q345.66,299.60 342.01,301.45 M349.71,299.02 Q349.77,298.86 349.87,298.71 M349.87,298.71 Q347.89,294.38 346.29,289.90 M342.01,301.45 Q339.76,298.00 336.74,295.19 M346.29,289.90 Q342.40,290.50 338.51,289.90 M336.74,295.19 Q337.86,292.62 338.51,289.90 M354.90,297.86 Q352.31,297.84 349.87,298.71 M359.29,289.90 Q352.79,288.72 346.29,289.90 M341.19,307.63 Q336.80,308.84 332.41,307.64 M330.59,299.74 Q333.35,297.04 336.74,295.19 M341.19,307.63 Q340.80,304.44 342.01,301.45 M321.52,289.90 Q330.02,289.35 338.51,289.90 M380.65,357.26 Q381.59,353.68 382.38,350.07 M382.38,350.07 Q386.74,349.95 391.10,349.67 M391.10,361.42 Q390.11,355.54 391.10,349.67 M374.80,348.36 Q377.59,347.37 380.55,347.48 M382.38,350.07 Q381.19,348.97 380.55,347.48 M301.87,318.58 Q302.32,315.95 302.17,313.29 M312.68,311.58 Q312.79,312.64 313.21,313.63 M301.87,318.58 Q305.63,319.54 309.32,320.73 M313.21,313.63 Q310.81,316.93 309.32,320.73 M310.07,322.84 Q309.43,321.88 309.32,320.73 M306.44,329.47 Q304.60,329.35 302.77,329.05 M306.44,329.47 Q307.31,325.64 310.07,322.84 M301.87,318.58 Q300.70,319.50 299.88,320.74 M302.77,329.05 Q301.16,324.95 299.88,320.74 M316.59,350.00 Q319.93,350.15 323.19,349.41 M316.59,350.00 Q314.63,347.61 312.89,345.06 M312.89,345.06 Q316.47,342.24 320.77,340.74 M323.19,349.41 Q324.02,348.60 324.57,347.58 M324.57,347.58 Q325.06,345.15 324.16,342.84 M324.16,342.84 Q323.60,341.83 322.65,341.18 M322.65,341.18 Q321.74,340.82 320.77,340.74 M314.11,355.91 Q314.59,357.53 315.47,358.97 M323.37,357.92 Q319.56,359.52 315.47,358.97 M323.37,357.92 Q323.32,353.66 323.19,349.41 M314.11,355.91 Q314.47,352.59 316.59,350.00 M326.52,360.14 Q325.04,358.89 323.37,357.92 M332.62,350.51 Q328.79,348.53 324.57,347.58 M332.57,340.28 Q328.54,342.15 324.16,342.84 M326.45,331.03 Q324.78,336.19 322.65,341.18 M330.86,333.02 Q328.72,331.88 326.45,331.03 M290.23,289.90 Q284.58,290.26 278.92,289.90 M259.00,289.90 Q264.26,290.03 269.52,289.90 M269.25,297.79 Q270.24,293.87 269.52,289.90 M269.25,297.79 Q268.94,298.21 268.57,298.59 M268.57,298.59 Q263.81,297.50 259.00,296.63 M259.00,289.90 Q259.22,293.27 259.00,296.63 M278.28,295.05 Q273.66,296.06 269.25,297.79 M278.28,295.05 Q277.86,292.38 278.92,289.90 M278.92,289.90 Q274.22,289.24 269.52,289.90 M301.55,295.35 Q297.63,295.49 294.28,297.55 M297.67,304.72 Q295.67,303.69 294.08,302.09 M294.08,302.09 Q293.74,299.80 294.28,297.55 M290.23,289.90 Q290.30,291.76 290.66,293.58 M278.28,295.05 Q279.66,296.58 280.69,298.37 M280.69,298.37 Q282.15,298.51 283.46,299.15 M290.66,293.58 Q286.57,295.73 283.46,299.15 M290.66,293.58 Q292.17,295.84 294.28,297.55 M314.71,333.31 Q318.28,336.58 320.77,340.74 M314.71,333.31 Q312.71,333.64 310.74,334.12 M310.74,334.12 Q310.06,338.62 307.29,342.24 M312.89,345.06 Q310.68,344.58 308.47,344.11 M307.29,342.24 Q308.10,343.03 308.47,344.11 M300.36,330.76 Q301.33,329.57 302.77,329.05 M306.44,329.47 Q309.22,331.21 310.74,334.12 M299.30,336.24 Q301.52,339.81 305.16,341.91 M299.30,336.24 Q300.26,333.58 300.36,330.76 M307.29,342.24 Q306.23,342.02 305.16,341.91 M314.11,355.91 Q310.41,353.77 306.46,352.16 M308.47,344.11 Q307.62,348.17 306.46,352.16 M305.16,341.91 Q301.39,344.90 296.72,346.02 M300.50,354.52 Q301.56,354.75 302.63,354.92 M306.46,352.16 Q304.85,353.97 302.63,354.92 M300.50,354.52 Q298.74,351.85 296.58,349.50 M296.58,349.50 Q296.32,347.75 296.72,346.02 M264.23,323.78 Q264.36,329.39 266.82,334.44 M259.00,323.69 Q261.63,322.96 264.23,323.78 M266.82,334.44 Q262.91,334.74 259.00,335.13 M259.00,323.69 Q258.12,329.41 259.00,335.13 M259.00,374.15 Q259.44,367.85 259.00,361.55 M261.07,374.51 Q260.05,374.25 259.00,374.15 M261.07,374.51 Q265.46,372.60 269.26,369.70 M269.06,362.32 Q264.08,361.28 259.00,361.55 M269.26,369.70 Q269.28,366.01 269.06,362.32 M259.00,335.13 Q259.38,341.83 259.00,348.53 M295.88,320.94 Q297.88,320.86 299.88,320.74 M297.96,310.89 Q294.66,312.29 291.21,313.26 M295.88,320.94 Q292.67,318.12 290.26,314.59 M290.26,314.59 Q290.58,313.81 291.21,313.26 M294.08,302.09 Q292.50,303.99 290.14,304.72 M291.21,313.26 Q291.20,308.93 290.14,304.72 M283.46,299.15 Q284.30,301.80 286.08,303.94 M286.08,303.94 Q288.02,304.83 290.14,304.72 M270.62,305.97 Q272.45,307.26 274.65,307.64 M270.62,305.97 Q266.51,307.73 263.13,310.64 M274.27,316.85 Q273.42,312.23 274.70,307.70 M274.27,316.85 Q270.48,316.73 266.71,317.04 M274.65,307.64 Q274.68,307.67 274.70,307.70 M263.13,310.64 Q265.83,313.33 266.71,317.04 M268.57,298.59 Q269.71,302.25 270.62,305.97 M280.69,298.37 Q277.96,303.19 274.65,307.64 M259.00,310.16 Q260.14,303.40 259.00,296.63 M259.00,310.16 Q261.08,310.31 263.13,310.64 M281.81,309.29 Q283.90,306.58 286.08,303.94 M281.81,309.29 Q278.11,309.15 274.70,307.70 M259.00,323.69 Q258.54,316.93 259.00,310.16 M264.23,323.78 Q264.32,323.67 264.46,323.62 M264.46,323.62 Q264.73,320.04 266.71,317.04 M370.83,366.88 Q367.23,363.83 362.71,362.47 M370.83,366.88 Q370.99,368.75 370.23,370.47 M370.23,370.47 Q367.17,371.73 364.68,373.92 M364.68,373.92 Q362.14,370.59 359.18,367.61 M362.71,362.47 Q361.11,365.15 359.18,367.61 M372.67,364.85 Q371.88,365.98 370.83,366.88 M362.28,359.66 Q362.14,361.12 362.71,362.47 M375.88,375.17 Q373.31,372.51 370.23,370.47 M368.18,382.94 Q372.08,380.61 376.31,378.98 M364.25,375.09 Q364.47,374.51 364.68,373.92 M356.36,367.80 Q357.77,367.67 359.18,367.61 M337.04,392.60 Q333.65,391.90 330.26,392.60 M367.46,385.39 Q368.56,389.15 370.42,392.60 M374.14,392.60 Q372.28,392.74 370.42,392.60 M362.19,319.63 Q364.87,323.48 367.07,327.62 M361.12,332.27 Q358.00,328.85 353.96,326.58 M362.19,319.63 Q361.91,319.73 361.61,319.72 M361.61,319.72 Q357.20,322.50 353.96,326.58 M383.38,320.57 Q382.93,316.40 384.39,312.47 M383.38,320.57 Q378.69,319.29 374.15,317.55 M373.11,315.74 Q373.80,316.55 374.15,317.55 M373.11,315.74 Q377.19,312.48 381.04,308.96 M384.39,312.47 Q382.89,310.81 381.67,308.94 M381.67,308.94 Q381.36,308.99 381.04,308.96 M372.93,326.73 Q374.20,322.23 374.15,317.55 M383.45,320.67 Q383.25,324.25 381.73,327.50 M380.99,327.90 Q381.38,327.73 381.73,327.50 M383.45,320.67 Q383.40,320.63 383.38,320.57 M362.19,319.63 Q362.95,318.40 364.00,317.39 M371.03,314.89 Q372.06,315.35 373.11,315.74 M374.22,303.07 Q377.26,306.45 381.04,308.96 M387.98,300.95 Q384.63,304.79 381.67,308.94 M391.10,313.04 Q391.21,316.99 391.10,320.93 M391.10,300.68 Q390.71,306.86 391.10,313.04 M384.39,312.47 Q387.69,313.48 391.10,313.04 M383.45,320.67 Q387.30,320.18 391.10,320.93 M391.10,332.01 Q391.17,326.47 391.10,320.93 M381.73,327.50 Q386.32,329.96 391.10,332.01 M259.00,361.55 Q259.74,355.04 259.00,348.53 M381.54,339.73 Q381.84,340.24 382.00,340.80 M381.54,339.73 Q386.50,336.17 391.10,332.15 M382.00,340.80 Q386.77,342.11 391.10,344.47 M391.10,332.15 Q391.96,338.31 391.10,344.47 M378.85,338.05 Q380.09,339.06 381.54,339.73 M380.55,347.48 Q381.24,344.13 382.00,340.80 M391.10,332.01 Q391.10,332.08 391.10,332.15 M391.10,349.67 Q391.57,347.07 391.10,344.47 M330.26,392.60 Q323.82,391.93 317.39,392.60 M324.49,316.62 Q322.43,318.20 319.91,318.81 M324.49,316.62 Q327.61,318.05 330.05,320.48 M319.91,318.81 Q319.67,322.08 318.38,325.10 M330.05,320.48 Q330.28,321.40 330.39,322.34 M330.39,322.34 Q327.27,325.42 325.49,329.41 M325.49,329.41 Q322.50,328.44 319.42,327.77 M319.42,327.77 Q318.62,326.54 318.38,325.10 M325.25,311.14 Q325.47,313.96 324.49,316.62 M313.21,313.63 Q316.82,315.88 319.91,318.81 M334.37,316.13 Q331.88,317.98 330.05,320.48 M332.32,307.79 Q333.01,312.04 334.37,316.13 M310.07,322.84 Q314.36,323.49 318.38,325.10 M335.93,325.13 Q332.76,324.53 330.39,322.34 M336.30,330.89 Q335.86,328.02 335.93,325.13 M326.45,331.03 Q326.17,330.10 325.49,329.41 M314.71,333.31 Q316.28,329.87 319.42,327.77 M289.14,375.67 Q287.46,373.26 285.72,370.89 M285.72,370.89 Q286.81,368.41 288.52,366.32 M297.23,374.42 Q296.47,375.67 295.24,376.47 M289.14,375.67 Q292.12,376.58 295.24,376.47 M297.41,367.31 Q296.33,366.53 295.36,365.63 M297.23,374.42 Q297.58,370.87 297.41,367.31 M288.52,366.32 Q291.99,366.51 295.36,365.63 M288.52,366.32 Q285.97,363.38 285.11,359.59 M295.36,365.63 Q295.61,362.29 295.00,359.00 M295.00,359.00 Q291.19,358.33 288.00,356.13 M285.11,359.59 Q287.05,358.28 288.00,356.13 M300.50,354.52 Q297.79,356.82 295.00,359.00 M296.58,349.50 Q292.03,350.35 287.98,352.58 M288.00,356.13 Q288.43,354.36 287.98,352.58 M300.16,392.60 Q306.27,392.54 312.38,392.60 M302.07,385.71 Q301.80,389.35 300.16,392.60 M302.07,385.71 Q304.91,383.19 308.35,381.60 M309.44,382.04 Q311.26,387.22 312.38,392.60 M309.44,382.04 Q308.95,381.68 308.35,381.60 M291.69,385.51 Q294.63,388.52 295.68,392.60 M295.75,380.15 Q294.32,383.28 291.69,385.51 M295.68,392.60 Q297.92,393.25 300.16,392.60 M295.75,380.15 Q298.98,382.85 302.07,385.71 M295.75,380.15 Q295.49,378.31 295.24,376.47 M306.26,376.03 Q301.85,374.63 297.23,374.42 M306.26,376.03 Q307.25,378.84 308.35,381.60 M317.39,392.60 Q314.88,392.09 312.38,392.60 M301.95,365.67 Q302.82,362.84 304.50,360.40 M301.95,365.67 Q305.58,367.98 308.99,370.60 M304.50,360.40 Q309.19,361.03 313.58,362.82 M308.99,370.60 Q310.69,370.23 312.01,369.10 M312.01,369.10 Q313.03,367.55 313.90,365.91 M313.58,362.82 Q313.77,364.36 313.90,365.91 M297.41,367.31 Q299.64,366.39 301.95,365.67 M302.63,354.92 Q303.62,357.64 304.50,360.40 M306.26,376.03 Q307.53,373.27 308.99,370.60 M315.47,358.97 Q314.15,360.71 313.58,362.82 M326.25,362.91 Q324.21,366.05 320.94,367.89 M320.94,367.89 Q317.49,366.65 313.90,365.91 M300.36,330.76 Q297.20,329.39 293.76,329.14 M295.88,320.94 Q294.11,323.02 292.75,325.39 M293.76,329.14 Q293.33,327.25 292.75,325.39 M340.48,373.62 Q338.41,374.33 337.04,376.02 M345.68,381.26 Q341.46,381.49 337.70,383.43 M337.70,383.43 Q337.33,383.02 337.01,382.59 M337.04,376.02 Q336.77,379.30 337.01,382.59 M330.91,370.24 Q330.36,371.27 330.36,372.43 M337.04,376.02 Q334.09,373.50 330.36,372.43 M357.14,388.77 Q357.20,390.70 357.50,392.60 M357.50,392.60 Q351.67,391.82 345.85,392.60 M349.22,385.32 Q347.18,388.80 345.85,392.60 M370.42,392.60 Q363.96,391.76 357.50,392.60 M337.04,392.60 Q341.44,393.42 345.85,392.60 M337.70,383.43 Q338.38,388.09 337.04,392.60 M341.13,333.65 Q343.22,330.61 344.35,327.11 M335.93,325.13 Q338.65,323.27 341.70,322.05 M341.70,322.05 Q342.64,324.79 344.35,327.11 M350.32,335.71 Q350.28,331.46 352.33,327.75 M344.35,327.11 Q348.35,327.32 352.33,327.75 M353.96,326.58 Q353.78,326.64 353.59,326.62 M352.33,327.75 Q352.88,327.11 353.59,326.62 M261.07,374.51 Q263.74,378.93 267.86,382.02 M272.69,372.65 Q270.63,371.58 269.26,369.70 M272.69,372.65 Q272.28,377.56 270.27,382.04 M270.27,382.04 Q269.06,382.21 267.86,382.02 M259.00,374.15 Q259.05,382.26 259.00,390.36 M267.86,382.02 Q263.97,386.76 259.00,390.36 M259.00,392.60 Q259.32,391.48 259.00,390.36 M282.71,348.86 Q284.35,348.90 285.83,349.61 M287.98,352.58 Q286.56,351.34 285.83,349.61 M282.71,348.86 Q278.37,350.48 275.21,353.87 M285.11,359.59 Q284.05,359.87 282.96,359.82 M275.21,353.87 Q279.28,356.59 282.96,359.82 M272.69,372.65 Q275.79,372.47 278.89,372.25 M278.89,372.25 Q279.48,371.52 280.22,370.94 M280.22,370.94 Q278.82,368.13 278.64,365.00 M269.06,362.32 Q269.38,361.97 269.77,361.71 M269.77,361.71 Q273.83,364.36 278.64,365.00 M285.72,370.89 Q282.97,370.75 280.22,370.94 M278.64,365.00 Q281.35,362.87 282.96,359.82 M290.26,314.59 Q288.54,315.52 286.60,315.60 M292.75,325.39 Q289.82,324.50 286.77,324.15 M286.77,324.15 Q285.51,319.90 286.60,315.60 M281.81,309.29 Q284.52,311.75 285.58,315.26 M286.60,315.60 Q286.08,315.45 285.58,315.26 M274.27,316.85 Q275.84,318.02 276.52,319.85 M285.58,315.26 Q281.20,317.85 276.52,319.85 M294.12,343.39 Q291.69,344.22 289.19,343.65 M294.12,343.39 Q294.28,340.58 295.06,337.87 M289.19,343.65 Q287.34,341.39 285.96,338.81 M295.06,337.87 Q293.02,335.18 289.88,333.93 M285.96,338.81 Q287.21,336.49 288.48,334.17 M289.88,333.93 Q289.20,334.18 288.48,334.17 M296.72,346.02 Q295.54,344.58 294.12,343.39 M285.83,349.61 Q288.32,347.09 289.19,343.65 M299.30,336.24 Q297.23,337.18 295.06,337.87 M279.08,341.48 Q279.35,340.84 279.75,340.26 M279.75,340.26 Q282.71,338.90 285.96,338.81 M282.71,348.86 Q281.47,344.89 279.08,341.48 M293.76,329.14 Q291.16,331.00 289.88,333.93 M323.66,375.49 Q321.22,377.12 318.31,377.53 M323.66,375.49 Q324.79,376.04 326.04,376.03 M326.04,376.03 Q326.49,378.75 328.02,381.05 M319.90,386.73 Q323.17,386.53 326.36,385.78 M319.90,386.73 Q318.51,383.39 316.25,380.56 M326.36,385.78 Q327.68,383.59 328.02,381.05 M316.25,380.56 Q317.37,379.10 318.31,377.53 M320.94,367.89 Q321.87,371.84 323.66,375.49 M312.01,369.10 Q315.89,372.77 318.31,377.53 M330.36,372.43 Q327.73,373.66 326.04,376.03 M337.01,382.59 Q332.71,380.70 328.02,381.05 M317.39,392.60 Q318.75,389.71 319.90,386.73 M330.26,392.60 Q328.53,389.07 326.36,385.78 M309.44,382.04 Q312.77,380.93 316.25,380.56 M341.27,317.26 Q341.69,318.70 342.28,320.06 M341.27,317.26 Q342.11,313.63 343.94,310.38 M342.28,320.06 Q346.11,319.04 349.93,320.07 M349.93,320.07 Q350.50,316.64 352.74,313.98 M343.94,310.38 Q347.65,310.65 351.25,309.72 M352.74,313.98 Q352.19,311.92 351.57,309.88 M351.57,309.88 Q351.41,309.81 351.25,309.72 M334.37,316.13 Q337.96,315.82 341.27,317.26 M341.70,322.05 Q342.19,321.12 342.28,320.06 M341.19,307.63 Q342.22,309.36 343.94,310.38 M353.59,326.62 Q352.59,322.88 349.93,320.07 M361.61,319.72 Q356.77,317.48 352.74,313.98 M349.71,299.02 Q349.31,304.54 351.25,309.72 M360.01,306.55 Q355.47,307.40 351.57,309.88 M274.39,353.87 Q273.06,354.54 271.95,355.53 M274.39,353.87 Q274.16,348.70 272.73,343.72 M271.95,355.53 Q265.92,352.69 260.92,348.30 M260.92,348.30 Q265.57,345.98 268.94,342.02 M272.73,343.72 Q270.90,342.73 268.94,342.02 M275.21,353.87 Q274.80,353.91 274.39,353.87 M269.77,361.71 Q271.05,358.69 271.95,355.53 M279.08,341.48 Q276.19,343.43 272.73,343.72 M259.00,348.53 Q259.94,348.25 260.92,348.30 M267.68,334.91 Q268.87,338.36 268.94,342.02 M266.82,334.44 Q267.31,334.57 267.68,334.91 M283.21,329.06 Q283.15,328.06 283.49,327.11 M283.21,329.06 Q280.33,331.21 277.04,332.67 M283.49,327.11 Q279.86,323.86 276.49,320.33 M274.09,331.72 Q275.50,332.39 277.04,332.67 M274.09,331.72 Q273.28,328.22 273.10,324.63 M273.10,324.63 Q275.00,322.64 276.49,320.33 M288.48,334.17 Q285.54,331.94 283.21,329.06 M286.77,324.15 Q285.08,325.57 283.49,327.11 M279.75,340.26 Q279.39,336.11 277.04,332.67 M276.52,319.85 Q276.56,320.10 276.49,320.33 M267.68,334.91 Q270.55,332.62 274.09,331.72 M264.46,323.62 Q268.72,324.60 273.10,324.63 M272.70,383.65 Q272.94,384.20 273.17,384.76 M272.70,383.65 Q276.61,382.03 279.64,379.06 M273.17,384.76 Q278.28,386.60 282.76,389.67 M279.64,379.06 Q281.96,380.91 284.79,381.81 M282.76,389.67 Q284.72,387.66 285.47,384.94 M284.79,381.81 Q284.71,383.47 285.47,384.94 M270.27,382.04 Q271.60,382.68 272.70,383.65 M278.89,372.25 Q278.69,375.72 279.64,379.06 M289.14,375.67 Q287.09,378.83 284.79,381.81 M291.69,385.51 Q288.57,385.30 285.47,384.94 M271.23,392.60 Q277.13,392.31 283.03,392.60 M259.00,392.60 Q265.11,391.90 271.23,392.60 M273.17,384.76 Q271.11,388.41 271.23,392.60 M282.76,389.67 Q282.79,391.15 283.03,392.60 M295.68,392.60 Q289.35,393.38 283.03,392.60" fill="none" stroke="#9a9a9a" stroke-width="0.9" stroke-linecap="round"/>
</g>
<g filter="url(#soft)">
<path d="M365.01,335.56 L361.07,319.97 L350.86,321.45 L346.27,325.11 L345.56,326.57 L345.46,332.95 L347.80,336.73 L360.53,340.33 Z" fill="url(#gS31)" stroke="none"/>
<path d="M316.07,373.58 L311.11,366.40 L305.35,366.65 L303.42,370.22 L312.01,378.75 L314.06,378.24 Z" fill="url(#gS33)" stroke="none"/>
<path d="M355.62,297.06 L364.41,311.77 L372.25,307.46 L374.97,291.54 L357.13,291.54 Z" fill="url(#gS36)" stroke="none"/>
<path d="M335.32,310.75 L340.58,307.74 L348.24,318.17 L343.65,321.84 L334.54,315.33 Z" fill="url(#gS30)" stroke="none"/>
<path d="M295.31,316.52 L304.10,311.30 L306.64,313.58 L307.32,318.26 L303.55,322.26 L294.79,319.47 Z" fill="url(#gS36)" stroke="none"/>
<path d="M340.20,354.07 L334.82,352.48 L336.05,345.88 L342.27,344.38 L343.13,352.13 Z" fill="url(#gS36)" stroke="none"/>
<path d="M267.89,303.99 L260.15,306.14 L260.15,315.99 L266.90,315.48 L270.45,310.23 Z" fill="url(#gS36)" stroke="none"/>
<path d="M320.49,359.83 L326.43,353.97 L323.84,350.76 L317.87,350.85 L315.82,353.67 L317.47,359.21 Z" fill="url(#gS32)" stroke="none"/>
<path d="M263.19,344.75 L274.07,349.00 L277.74,339.41 L270.36,335.19 Z" fill="url(#gS34)" stroke="none"/>
<path d="M366.81,385.37 L377.45,376.83 L388.50,382.06 L388.50,391.56 L366.47,391.56 Z" fill="url(#gS36)" stroke="none"/>
<path d="M281.18,340.20 L280.38,340.42 L276.70,350.01 L278.05,354.12 L286.48,354.96 L290.19,352.40 L290.73,350.91 L289.43,345.32 Z" fill="url(#gS31)" stroke="none"/>
<path d="M370.27,334.23 L366.34,318.64 L367.27,316.98 L375.12,312.67 L388.67,317.63 L388.67,326.75 L373.57,334.70 Z" fill="url(#gS35)" stroke="none"/>
<path d="M292.02,315.94 L288.65,309.80 L284.05,309.03 L280.42,312.35 L282.00,319.90 L287.80,322.79 L291.50,318.88 Z" fill="url(#gS31)" stroke="none"/>
<path d="M343.51,302.57 L342.52,306.32 L350.17,316.75 L360.39,315.27 L361.33,313.61 L352.54,298.90 Z" fill="url(#gS33)" stroke="none"/>
<path d="M321.62,309.61 L323.25,316.26 L327.34,318.25 L332.20,314.94 L332.98,310.35 L325.48,306.22 L321.96,308.71 Z" fill="url(#gS37)" stroke="none"/>
<path d="M343.56,378.60 L353.30,375.53 L352.68,367.34 L342.42,366.60 L339.28,369.20 Z" fill="url(#gS36)" stroke="none"/>
<path d="M295.94,301.59 L303.79,306.49 L305.96,302.35 L303.12,294.95 L295.80,299.65 Z" fill="url(#gS32)" stroke="none"/>
<path d="M309.22,313.21 L319.02,310.24 L320.65,316.90 L315.65,320.77 L309.89,317.89 Z" fill="url(#gS31)" stroke="none"/>
<path d="M321.24,291.79 L324.68,299.40 L323.62,303.61 L320.11,306.10 L314.59,300.85 L316.61,291.79 Z" fill="url(#gS31)" stroke="none"/>
<path d="M327.68,382.30 L329.87,379.55 L338.94,383.92 L338.33,390.94 L329.66,390.94 Z" fill="url(#gS36)" stroke="none"/>
<path d="M268.96,330.28 L260.35,327.20 L260.35,318.66 L267.10,318.16 L271.54,323.87 Z" fill="url(#gS37)" stroke="none"/>
<path d="M280.73,298.97 L285.74,293.23 L285.50,290.73 L270.82,290.73 L272.24,297.56 Z" fill="url(#gS36)" stroke="none"/>
<path d="M288.61,370.45 L294.89,373.56 L293.93,380.51 L286.41,383.17 L280.98,374.28 Z" fill="url(#gS33)" stroke="none"/>
<path d="M375.48,361.93 L363.62,355.26 L363.46,354.65 L365.01,344.55 L369.49,339.78 L372.79,340.24 L385.91,352.62 Z" fill="url(#gS30)" stroke="none"/>
<path d="M329.20,375.38 L335.14,368.88 L331.05,366.04 L325.14,367.28 L323.98,371.13 Z" fill="url(#gS33)" stroke="none"/>
<path d="M317.06,322.59 L322.06,318.71 L326.15,320.70 L327.41,326.21 L326.83,327.50 L320.39,329.58 L317.26,328.03 Z" fill="url(#gS35)" stroke="none"/>
<path d="M284.48,306.46 L282.48,300.50 L287.49,294.76 L293.04,299.85 L293.17,301.78 L289.08,307.23 Z" fill="url(#gS34)" stroke="none"/>
<path d="M274.39,359.42 L276.20,371.94 L271.78,373.91 L261.57,363.98 Z" fill="url(#gS30)" stroke="none"/>
<path d="M338.04,290.36 L352.82,290.36 L351.31,295.88 L342.29,299.55 L338.75,296.26 Z" fill="url(#gS30)" stroke="none"/>
<path d="M259.55,382.59 L259.55,391.69 L270.19,391.69 L267.40,383.23 Z" fill="url(#gS36)" stroke="none"/>
<path d="M302.08,371.58 L298.15,374.00 L297.20,380.96 L298.66,382.51 L308.29,382.81 L310.67,380.10 Z" fill="url(#gS35)" stroke="none"/>
<path d="M357.85,356.72 L352.87,364.78 L342.60,364.04 L341.58,356.17 L344.52,354.24 L357.70,356.10 Z" fill="url(#gS35)" stroke="none"/>
<path d="M335.65,344.20 L331.57,339.89 L332.77,337.26 L342.40,334.84 L344.74,338.63 L341.87,342.71 Z" fill="url(#gS30)" stroke="none"/>
<path d="M298.53,333.80 L303.63,327.99 L302.93,324.21 L294.17,321.41 L290.47,325.32 L290.59,326.88 Z" fill="url(#gS32)" stroke="none"/>
<path d="M390.29,313.18 L390.29,292.30 L379.46,292.30 L376.74,308.23 Z" fill="url(#gS34)" stroke="none"/>
<path d="M317.14,383.23 L319.25,391.74 L310.38,391.74 L310.42,384.68 L312.80,381.97 L314.86,381.46 Z" fill="url(#gS36)" stroke="none"/>
<path d="M308.94,319.79 L314.70,322.67 L314.90,328.12 L311.80,329.88 L305.87,327.57 L305.18,323.79 Z" fill="url(#gS32)" stroke="none"/>
<path d="M317.53,372.57 L312.56,365.39 L316.95,361.71 L319.98,362.34 L322.98,366.62 L321.82,370.47 Z" fill="url(#gS32)" stroke="none"/>
<path d="M273.21,377.12 L277.63,375.16 L279.04,375.46 L284.46,384.36 L281.29,390.61 L273.46,390.61 L270.67,382.15 Z" fill="url(#gS32)" stroke="none"/>
<path d="M320.95,391.32 L318.85,382.81 L326.01,382.68 L327.99,391.32 Z" fill="url(#gS35)" stroke="none"/>
<path d="M305.90,307.60 L306.11,309.06 L308.65,311.34 L318.45,308.37 L318.80,307.48 L313.28,302.23 L308.07,303.45 Z" fill="url(#gS30)" stroke="none"/>
<path d="M336.74,298.42 L327.57,300.13 L326.52,304.33 L334.02,308.47 L339.28,305.46 L340.28,301.71 Z" fill="url(#gS33)" stroke="none"/>
<path d="M329.42,328.67 L330.01,327.38 L342.00,326.52 L341.91,332.89 L332.28,335.31 Z" fill="url(#gS37)" stroke="none"/>
<path d="M336.39,296.54 L327.22,298.25 L323.78,290.64 L335.68,290.64 Z" fill="url(#gS36)" stroke="none"/>
<path d="M262.35,346.91 L273.22,351.16 L274.57,355.26 L273.45,356.78 L260.63,361.34 L260.45,361.31 L260.45,347.43 Z" fill="url(#gS31)" stroke="none"/>
<path d="M322.00,338.28 L321.04,331.59 L327.48,329.50 L330.33,336.14 L329.13,338.77 L326.04,340.07 Z" fill="url(#gS35)" stroke="none"/>
<path d="M344.43,381.38 L354.17,378.31 L361.12,385.05 L360.77,391.25 L341.93,391.25 L342.54,384.23 Z" fill="url(#gS30)" stroke="none"/>
<path d="M300.14,368.45 L296.22,370.88 L289.94,367.77 L288.64,358.09 L292.34,355.53 L301.39,362.94 L302.07,364.88 Z" fill="url(#gS35)" stroke="none"/>
<path d="M286.50,327.18 L286.39,325.63 L280.59,322.74 L274.07,324.89 L271.49,331.30 L271.95,332.42 L279.33,336.63 L280.13,336.41 Z" fill="url(#gS30)" stroke="none"/>
<path d="M313.03,332.06 L316.14,330.29 L319.27,331.84 L320.23,338.53 L314.96,341.02 L311.47,339.67 Z" fill="url(#gS31)" stroke="none"/>
<path d="M364.10,381.99 L374.74,373.45 L373.39,365.66 L361.52,358.99 L356.54,367.05 L357.15,375.24 Z" fill="url(#gS36)" stroke="none"/>
<path d="M388.29,350.11 L390.26,350.02 L390.26,329.78 L375.16,337.73 Z" fill="url(#gS32)" stroke="none"/>
<path d="M336.52,366.89 L332.43,364.05 L331.99,355.73 L334.12,354.86 L339.50,356.44 L340.52,364.31 L337.39,366.91 Z" fill="url(#gS30)" stroke="none"/>
<path d="M300.14,335.52 L306.39,340.39 L309.54,339.27 L311.11,331.66 L305.18,329.35 L300.08,335.17 Z" fill="url(#gS35)" stroke="none"/>
<path d="M267.20,301.48 L268.73,298.29 L267.30,291.46 L259.45,291.46 L259.45,303.63 Z" fill="url(#gS32)" stroke="none"/>
<path d="M378.08,364.84 L379.43,372.63 L390.49,377.86 L390.49,355.45 L388.51,355.54 Z" fill="url(#gS34)" stroke="none"/>
<path d="M299.71,391.73 L308.19,391.73 L308.23,384.67 L298.60,384.37 Z" fill="url(#gS31)" stroke="none"/>
<path d="M294.37,352.22 L293.83,353.72 L302.88,361.13 L306.42,352.78 L304.06,349.09 Z" fill="url(#gS36)" stroke="none"/>
<path d="M259.94,365.65 L270.15,375.58 L267.61,380.61 L259.76,379.97 L259.76,365.62 Z" fill="url(#gS30)" stroke="none"/>
<path d="M277.71,357.58 L286.14,358.42 L287.43,368.10 L279.80,371.93 L278.40,371.63 L276.58,359.10 Z" fill="url(#gS31)" stroke="none"/>
<path d="M330.87,353.02 L333.00,352.15 L334.24,345.54 L330.15,341.22 L327.06,342.51 L325.75,349.21 L328.34,352.42 Z" fill="url(#gS34)" stroke="none"/>
<path d="M330.63,377.97 L339.70,382.35 L341.59,379.49 L337.32,370.09 L336.45,370.07 L330.50,376.58 Z" fill="url(#gS37)" stroke="none"/>
<path d="M307.38,343.20 L306.00,347.85 L308.36,351.54 L314.00,352.34 L316.05,349.53 L314.02,343.43 L310.53,342.08 Z" fill="url(#gS30)" stroke="none"/>
<path d="M298.55,337.55 L304.80,342.43 L303.42,347.08 L293.73,350.21 L292.43,344.62 Z" fill="url(#gS32)" stroke="none"/>
<path d="M282.35,307.17 L280.35,301.21 L271.87,299.80 L270.34,302.98 L272.90,309.23 L278.72,310.49 Z" fill="url(#gS34)" stroke="none"/>
<path d="M318.82,381.07 L316.53,379.30 L318.54,374.64 L322.83,372.54 L328.04,376.80 L328.17,378.19 L325.98,380.94 Z" fill="url(#gS31)" stroke="none"/>
<path d="M305.23,363.76 L304.54,361.83 L308.08,353.49 L313.73,354.29 L315.37,359.83 L310.98,363.51 Z" fill="url(#gS34)" stroke="none"/>
<path d="M321.74,361.10 L327.68,355.23 L330.21,355.83 L330.65,364.15 L324.75,365.38 Z" fill="url(#gS36)" stroke="none"/>
<path d="M296.88,336.11 L290.76,343.17 L282.51,338.06 L288.89,328.83 L296.82,335.76 Z" fill="url(#gS32)" stroke="none"/>
<path d="M294.74,298.00 L289.19,292.91 L288.95,290.41 L303.10,290.41 L302.05,293.29 Z" fill="url(#gS32)" stroke="none"/>
<path d="M296.34,384.71 L294.87,383.16 L287.34,385.82 L284.17,392.07 L297.44,392.07 Z" fill="url(#gS34)" stroke="none"/>
<path d="M294.24,314.72 L303.03,309.50 L302.82,308.04 L294.97,303.13 L290.88,308.58 Z" fill="url(#gS30)" stroke="none"/>
<path d="M304.82,294.30 L305.87,291.41 L314.89,291.41 L312.87,300.47 L307.66,301.69 Z" fill="url(#gS32)" stroke="none"/>
<path d="M279.80,320.36 L273.28,322.52 L268.84,316.80 L272.40,311.55 L278.22,312.81 Z" fill="url(#gS32)" stroke="none"/>
<path d="M259.48,343.92 L259.48,329.63 L268.08,332.72 L268.55,333.83 L261.38,343.39 Z" fill="url(#gS35)" stroke="none"/>
<path d="M333.48,316.82 L328.62,320.13 L329.88,325.64 L341.88,324.78 L342.59,323.32 Z" fill="url(#gS35)" stroke="none"/>
<path d="M317.84,348.93 L315.81,342.84 L321.09,340.35 L325.12,342.13 L323.81,348.83 Z" fill="url(#gS31)" stroke="none"/>
<path d="M358.02,353.81 L344.84,351.94 L343.98,344.19 L346.85,340.11 L359.57,343.71 Z" fill="url(#gS34)" stroke="none"/>
</g>
<g filter="url(#soft3)">
<ellipse cx="351" cy="345" rx="6" ry="40" fill="#d0d0d0" opacity="0.55"/>
<ellipse cx="310" cy="318" rx="22" ry="18" fill="#bcbcbc" opacity="0.55"/>
<ellipse cx="285" cy="335" rx="14" ry="20" fill="#b0b0b0" opacity="0.4"/>
<ellipse cx="283" cy="374" rx="13" ry="11" fill="#1a1a1a" opacity="0.75"/>
<ellipse cx="372" cy="352" rx="9" ry="16" fill="#262626" opacity="0.5"/>
<ellipse cx="376" cy="318" rx="8" ry="12" fill="#2a2a2a" opacity="0.45"/>
<ellipse cx="270" cy="312" rx="5" ry="9" fill="#222" opacity="0.5"/>
</g>
<g filter="url(#wavyS3)">
<path d="M343.80,325.52 Q336.32,326.41 328.80,326.59 M328.80,326.59 Q328.22,327.30 328.07,328.20 M333.70,353.45 Q337.07,354.39 340.42,355.42 M343.01,343.32 Q339.03,343.83 335.24,345.18 M330.14,339.79 Q331.90,338.61 331.64,336.50 M346.60,338.22 Q345.02,335.92 343.68,333.48 M346.60,338.22 Q344.65,340.65 343.01,343.32 M330.14,339.79 Q331.47,343.64 335.24,345.18 M350.42,319.12 Q347.65,311.12 340.85,306.07 M333.30,315.57 Q334.79,312.87 334.27,309.83 M374.16,309.80 Q381.78,315.22 391.10,316.00 M374.16,309.80 Q370.32,314.42 364.36,315.19 M353.37,296.80 Q352.31,292.80 355.26,289.90 M353.37,296.80 Q347.22,297.82 342.10,301.38 M326.21,299.41 Q332.09,299.14 337.68,297.27 M314.63,342.28 Q313.74,346.82 317.17,349.90 M314.63,342.28 Q317.26,339.31 321.23,339.17 M326.27,341.41 Q323.15,345.14 324.63,349.78 M324.63,349.78 Q320.88,348.50 317.17,349.90 M320.02,330.81 Q322.40,334.73 321.23,339.17 M330.14,339.79 Q328.49,341.28 326.27,341.41 M327.22,319.70 Q324.03,319.77 322.11,317.22 M322.11,317.22 Q323.27,312.53 320.07,308.91 M259.00,392.60 Q265.65,390.48 272.30,392.60 M286.05,384.79 Q290.38,382.04 295.47,381.46 M391.10,392.60 Q392.26,386.66 391.10,380.72 M337.68,297.27 Q337.07,293.61 336.79,289.90 M324.63,349.78 Q326.34,351.72 327.87,353.79 M333.70,353.45 Q332.60,354.57 331.04,354.54 M362.51,342.72 Q360.34,348.85 360.57,355.34 M360.57,355.34 Q360.66,355.73 360.77,356.11 M346.60,338.22 Q354.54,340.52 362.51,342.72 M363.19,317.26 Q368.12,326.38 368.11,336.76 M354.54,366.19 Q358.84,361.89 360.77,356.11 M287.46,293.03 Q283.73,296.09 281.20,300.20 M268.81,289.90 Q269.14,294.28 270.59,298.43 M270.59,298.43 Q275.71,300.42 281.20,300.20 M268.81,289.90 Q263.90,289.60 259.00,289.90 M377.28,374.18 Q371.91,381.11 363.98,384.86 M355.30,376.42 Q358.91,381.39 363.98,384.86 M391.10,392.60 Q377.33,391.15 363.55,392.60 M331.58,364.94 Q333.75,367.28 336.70,368.49 M340.01,392.60 Q338.04,388.01 340.76,383.83 M340.76,383.83 Q342.19,382.21 343.13,380.26 M331.58,364.94 Q327.62,364.41 324.20,366.49 M314.61,353.42 Q315.46,351.35 317.17,349.90 M314.61,353.42 Q314.95,357.09 316.66,360.35 M272.30,392.60 Q270.62,387.29 268.82,382.03 M277.52,373.28 Q274.80,374.62 271.99,375.74 M307.56,352.42 Q304.95,357.47 303.13,362.85 M291.82,353.59 Q292.35,352.72 292.50,351.71 M322.11,317.22 Q320.09,321.07 315.86,322.06 M271.99,375.74 Q264.48,370.69 259.23,363.33 M259.23,363.33 Q266.73,359.05 275.25,357.62 M275.25,357.62 Q276.37,356.98 276.65,355.73 M279.56,338.61 Q275.85,344.06 274.97,350.60 M279.56,338.61 Q275.22,335.50 270.34,333.34 M259.00,328.09 Q259.50,322.75 259.00,317.42 M267.43,316.79 Q269.26,313.24 271.88,310.23 M309.28,392.60 Q303.98,393.58 298.68,392.60 M297.30,383.40 Q297.40,388.09 298.68,392.60 M295.47,381.46 Q296.32,382.49 297.30,383.40 M282.09,392.60 Q290.39,392.85 298.68,392.60 M309.33,383.78 Q310.58,381.87 312.31,380.38 M303.13,362.85 Q302.97,364.26 303.98,365.26 M287.19,356.78 Q289.73,355.50 291.82,353.59 M322.75,371.30 Q319.58,371.61 317.39,373.92 M340.76,383.83 Q334.13,383.09 329.42,378.36 M329.27,376.62 Q328.95,377.52 329.42,378.36 M259.23,363.33 Q259.12,363.28 259.00,363.29 M259.00,345.94 Q260.44,354.62 259.00,363.29 M274.97,350.60 Q275.41,353.29 276.65,355.73 M315.86,322.06 Q311.39,321.99 308.66,318.46 M289.45,308.61 Q286.41,309.09 283.69,307.65 M294.56,301.80 Q292.23,305.38 289.45,308.61 M272.99,323.93 Q276.57,321.11 281.13,321.24 M288.53,326.80 Q293.38,331.25 298.45,335.46 M292.50,351.71 Q291.45,348.27 290.87,344.73 M279.56,338.61 Q280.07,338.51 280.56,338.33 M288.38,324.85 Q288.17,325.85 288.53,326.80 M304.83,328.19 Q300.35,330.69 298.45,335.46 M329.16,392.60 Q324.76,394.93 320.37,392.60 M340.01,392.60 Q334.58,393.17 329.16,392.60 M309.28,392.60 Q314.82,393.99 320.37,392.60" fill="none" stroke="#b4b4b4" stroke-width="0.63" stroke-linecap="round" stroke-linejoin="round"/>
<path d="M343.80,325.52 Q341.83,329.47 343.68,333.48 M331.64,336.50 Q328.09,333.12 328.07,328.20 M333.70,353.45 Q335.46,349.50 335.24,345.18 M343.01,343.32 Q344.95,348.01 344.10,353.01 M344.10,353.01 Q341.48,353.03 340.42,355.42 M327.22,319.70 Q327.26,323.32 328.80,326.59 M343.80,325.52 Q343.79,324.39 344.68,323.69 M391.10,289.90 Q393.35,302.95 391.10,316.00 M364.36,315.19 Q357.52,306.80 353.37,296.80 M377.56,289.90 Q366.41,288.81 355.26,289.90 M364.36,315.19 Q363.78,316.23 363.19,317.26 M363.19,317.26 Q356.75,317.85 350.42,319.12 M324.89,304.67 Q326.32,302.23 326.21,299.41 M324.89,304.67 Q328.84,308.59 334.27,309.83 M391.10,316.00 Q390.44,321.70 391.10,327.41 M326.27,341.41 Q324.19,339.30 321.23,339.17 M324.89,304.67 Q323.70,307.63 320.50,307.79 M320.50,307.79 Q320.24,308.33 320.07,308.91 M282.09,392.60 Q277.20,390.45 272.30,392.60 M286.05,384.79 Q280.99,380.25 279.27,373.67 M295.47,381.46 Q294.27,376.86 296.66,372.76 M279.27,373.67 Q283.67,370.54 288.81,368.88 M391.10,380.72 Q389.51,366.71 391.10,352.71 M391.10,327.41 Q392.93,340.06 391.10,352.71 M355.26,289.90 Q346.02,291.37 336.79,289.90 M326.21,299.41 Q324.77,294.34 321.92,289.90 M320.50,307.79 Q315.75,305.88 313.60,301.23 M313.60,301.23 Q313.56,295.27 316.13,289.90 M316.13,289.90 Q319.02,290.05 321.92,289.90 M362.51,342.72 Q365.16,339.60 368.11,336.76 M372.23,337.34 Q379.16,346.42 388.64,352.81 M372.23,337.34 Q370.31,336.03 368.11,336.76 M360.77,356.11 Q367.06,362.27 375.59,364.44 M344.10,353.01 Q352.64,352.02 360.57,355.34 M391.10,327.41 Q381.44,331.95 372.23,337.34 M341.71,365.26 Q348.29,363.36 354.54,366.19 M377.28,374.18 Q383.25,379.43 391.10,380.72 M377.28,374.18 Q377.25,369.17 375.59,364.44 M287.17,289.90 Q296.01,290.63 304.85,289.90 M316.13,289.90 Q310.49,289.05 304.85,289.90 M287.46,293.03 Q286.92,291.50 287.17,289.90 M340.01,392.60 Q351.78,392.35 363.55,392.60 M354.54,366.19 Q353.13,371.44 355.30,376.42 M341.71,365.26 Q340.32,367.58 337.78,368.51 M337.78,368.51 Q337.24,368.64 336.70,368.49 M327.87,353.79 Q324.95,358.27 320.45,361.13 M279.27,373.67 Q278.38,373.53 277.52,373.28 M268.82,382.03 Q268.43,377.89 271.99,375.74 M307.56,352.42 Q307.33,349.32 304.61,347.81 M303.13,362.85 Q298.21,357.32 291.82,353.59 M304.61,347.81 Q298.11,348.40 292.50,351.71 M320.02,330.81 Q318.68,328.60 316.11,328.87 M316.11,328.87 Q314.62,325.52 315.86,322.06 M277.52,373.28 Q274.73,365.69 275.25,357.62 M287.19,356.78 Q281.75,358.01 276.65,355.73 M259.00,328.09 Q258.61,337.01 259.00,345.94 M269.76,331.94 Q265.20,327.72 259.00,328.09 M269.76,331.94 Q270.36,332.51 270.34,333.34 M270.34,333.34 Q266.30,339.64 261.38,345.28 M274.97,350.60 Q267.93,348.56 261.38,345.28 M259.00,317.42 Q256.82,311.26 259.00,305.11 M267.43,316.79 Q263.13,316.02 259.00,317.42 M268.68,302.41 Q263.83,303.73 259.00,305.11 M271.88,310.23 Q270.30,306.31 268.68,302.41 M272.99,323.93 Q273.38,328.75 269.76,331.94 M309.33,383.78 Q307.37,388.18 309.28,392.60 M309.33,383.78 Q303.26,385.31 297.30,383.40 M296.66,372.76 Q299.39,371.70 301.56,369.73 M312.31,380.38 Q308.72,373.26 301.56,369.73 M314.61,353.42 Q311.27,351.62 307.56,352.42 M316.66,360.35 Q313.06,361.63 311.18,364.95 M303.98,365.26 Q303.50,367.89 301.56,369.73 M324.20,366.49 Q323.20,368.81 322.75,371.30 M336.70,368.49 Q334.44,373.89 329.27,376.62 M312.31,380.38 Q313.42,379.37 314.88,379.75 M314.88,379.75 Q314.98,376.34 317.39,373.92 M259.00,392.60 Q258.15,386.91 259.00,381.23 M314.63,342.28 Q312.50,341.31 310.27,340.59 M310.27,340.59 Q308.59,342.08 306.34,341.99 M316.11,328.87 Q314.46,330.48 312.23,331.08 M303.95,323.46 Q307.21,321.81 308.66,318.46 M307.09,302.75 Q304.21,304.55 304.38,307.94 M307.09,302.75 Q307.24,297.39 303.54,293.51 M303.54,293.51 Q297.93,294.84 294.39,299.39 M294.39,299.39 Q295.00,300.56 294.56,301.80 M307.82,312.61 Q306.11,311.33 304.64,309.77 M287.46,293.03 Q291.15,295.97 294.39,299.39 M289.45,308.61 Q291.64,312.40 293.65,316.28 M279.16,311.80 Q281.74,310.07 283.69,307.65 M279.16,311.80 Q278.64,316.83 281.13,321.24 M281.13,321.24 Q285.83,320.89 288.38,324.85 M288.38,324.85 Q290.62,322.34 293.00,319.97 M293.00,319.97 Q292.44,317.97 293.65,316.28 M304.64,309.77 Q298.56,312.03 293.65,316.28 M281.20,300.20 Q283.09,303.71 283.69,307.65 M303.95,323.46 Q298.26,322.41 293.00,319.97 M290.87,344.73 Q284.79,343.03 280.56,338.33 M280.56,338.33 Q283.59,331.90 288.53,326.80 M298.45,335.46 Q298.52,335.67 298.53,335.89 M306.34,341.99 Q301.26,340.45 298.53,335.89 M326.69,381.80 Q322.24,383.56 317.73,381.96 M317.73,381.96 Q319.76,387.10 320.37,392.60 M329.42,378.36 Q328.24,380.23 326.69,381.80" fill="none" stroke="#cccccc" stroke-width="0.90" stroke-linecap="round" stroke-linejoin="round"/>
<path d="M391.10,289.90 Q384.33,289.69 377.56,289.90 M343.68,333.48 Q337.96,336.19 331.64,336.50 M350.42,319.12 Q348.70,322.84 344.68,323.69 M344.68,323.69 Q338.79,319.92 333.30,315.57 M340.85,306.07 Q338.44,309.50 334.27,309.83 M327.22,319.70 Q331.10,318.87 333.30,315.57 M377.56,289.90 Q374.42,299.60 374.16,309.80 M340.85,306.07 Q340.17,303.38 342.10,301.38 M342.10,301.38 Q338.93,300.35 337.68,297.27 M328.07,328.20 Q324.50,330.91 320.02,330.81 M296.66,372.76 Q291.97,372.38 288.81,368.88 M336.79,289.90 Q329.35,288.15 321.92,289.90 M327.87,353.79 Q329.68,353.21 331.04,354.54 M388.64,352.81 Q380.64,356.98 375.59,364.44 M391.10,352.71 Q389.89,353.40 388.64,352.81 M341.71,365.26 Q338.84,360.63 340.42,355.42 M268.81,289.90 Q277.99,292.19 287.17,289.90 M363.98,384.86 Q362.18,388.64 363.55,392.60 M331.58,364.94 Q332.80,359.66 331.04,354.54 M355.30,376.42 Q348.96,377.54 343.13,380.26 M337.78,368.51 Q342.63,373.40 343.13,380.26 M324.20,366.49 Q320.85,364.84 320.45,361.13 M316.66,360.35 Q318.66,360.25 320.45,361.13 M282.09,392.60 Q285.68,389.51 286.05,384.79 M288.81,368.88 Q287.87,362.85 287.19,356.78 M261.38,345.28 Q260.17,345.55 259.00,345.94 M259.00,289.90 Q257.06,297.50 259.00,305.11 M267.43,316.79 Q270.54,320.10 272.99,323.93 M270.59,298.43 Q269.24,300.24 268.68,302.41 M311.18,364.95 Q307.58,365.18 303.98,365.26 M311.18,364.95 Q313.44,370.02 317.39,373.92 M322.75,371.30 Q324.92,375.29 329.27,376.62 M259.00,381.23 Q261.15,372.26 259.00,363.29 M268.82,382.03 Q263.81,382.86 259.00,381.23 M304.61,347.81 Q306.47,345.20 306.34,341.99 M310.27,340.59 Q309.80,335.54 312.23,331.08 M312.23,331.08 Q308.49,329.72 304.83,328.19 M304.83,328.19 Q303.97,325.90 303.95,323.46 M320.07,308.91 Q313.67,309.85 307.82,312.61 M308.66,318.46 Q308.54,315.49 307.82,312.61 M304.38,307.94 Q298.80,305.95 294.56,301.80 M313.60,301.23 Q310.83,304.03 307.09,302.75 M304.64,309.77 Q304.30,308.88 304.38,307.94 M304.85,289.90 Q305.35,292.12 303.54,293.51 M271.88,310.23 Q275.69,310.21 279.16,311.80 M290.87,344.73 Q296.25,341.65 298.53,335.89 M326.69,381.80 Q329.09,386.93 329.16,392.60 M314.88,379.75 Q316.29,380.87 317.73,381.96" fill="none" stroke="#e6e6e6" stroke-width="1.35" stroke-linecap="round" stroke-linejoin="round"/>
</g>
<g filter="url(#wavyS3)">
<path d="M271.26,311.61 Q276.15,299.10 285.74,293.77" stroke="#e2e2e2" stroke-width="0.94" fill="none" opacity="0.85"/>
<path d="M312.48,312.64 Q308.81,301.87 299.25,296.97" stroke="#e2e2e2" stroke-width="0.84" fill="none" opacity="0.85"/>
<path d="M301.23,342.64 Q299.35,330.56 293.31,320.34" stroke="#e2e2e2" stroke-width="1.03" fill="none" opacity="0.85"/>
<path d="M315.80,310.62 Q329.34,305.31 338.72,299.73" stroke="#e2e2e2" stroke-width="0.83" fill="none" opacity="0.85"/>
<path d="M288.01,311.33 Q284.25,302.28 279.77,297.75" stroke="#e2e2e2" stroke-width="1.34" fill="none" opacity="0.85"/>
<path d="M316.69,341.86 Q314.47,334.40 309.80,328.74" stroke="#e2e2e2" stroke-width="1.03" fill="none" opacity="0.85"/>
<path d="M322.28,328.42 Q335.28,323.32 343.03,312.48" stroke="#e2e2e2" stroke-width="1.33" fill="none" opacity="0.85"/>
<path d="M327.47,333.74 Q324.85,323.39 317.11,318.81" stroke="#e2e2e2" stroke-width="1.02" fill="none" opacity="0.85"/>
<path d="M283.49,327.88 Q278.62,319.54 268.88,306.44" stroke="#e2e2e2" stroke-width="1.23" fill="none" opacity="0.85"/>
<path d="M284.36,340.25 Q291.98,338.50 300.24,330.93" stroke="#e2e2e2" stroke-width="1.26" fill="none" opacity="0.85"/>
<path d="M279.25,305.68 Q271.34,291.45 265.32,284.56" stroke="#e2e2e2" stroke-width="1.21" fill="none" opacity="0.85"/>
<path d="M321.88,344.45 Q316.75,337.19 316.79,331.94" stroke="#e2e2e2" stroke-width="1.01" fill="none" opacity="0.85"/>
<path d="M306.23,323.60 Q317.53,315.76 321.91,311.97" stroke="#e2e2e2" stroke-width="0.87" fill="none" opacity="0.85"/>
<path d="M322.67,312.41 Q315.33,304.29 314.87,291.67" stroke="#e2e2e2" stroke-width="0.73" fill="none" opacity="0.85"/>
<path d="M302.11,319.69 Q293.94,306.04 293.01,299.19" stroke="#e2e2e2" stroke-width="1.18" fill="none" opacity="0.85"/>
<path d="M315.73,304.14 Q322.57,300.25 330.03,288.67" stroke="#e2e2e2" stroke-width="1.37" fill="none" opacity="0.85"/>
<path d="M314.36,320.99 Q304.78,310.36 303.16,296.97" stroke="#e2e2e2" stroke-width="1.16" fill="none" opacity="0.85"/>
<path d="M300.09,319.55 Q297.49,314.53 290.54,306.05" stroke="#e2e2e2" stroke-width="0.83" fill="none" opacity="0.85"/>
<path d="M318.97,338.43 Q325.84,328.41 335.44,321.96" stroke="#e2e2e2" stroke-width="1.42" fill="none" opacity="0.85"/>
<path d="M329.98,329.40 Q325.01,321.44 322.18,319.63" stroke="#e2e2e2" stroke-width="1.11" fill="none" opacity="0.85"/>
<path d="M285.38,301.97 Q282.92,294.94 277.82,290.91" stroke="#e2e2e2" stroke-width="1.12" fill="none" opacity="0.85"/>
<path d="M290.36,300.77 Q292.25,293.22 298.65,292.67" stroke="#e2e2e2" stroke-width="1.32" fill="none" opacity="0.85"/>
<ellipse cx="305" cy="341" rx="5.4" ry="7.4" fill="#c8c8c8" opacity="0.8"/>
<ellipse cx="305" cy="341" rx="4.5" ry="6.5" fill="#3a3a3a" opacity="0.9"/>
<ellipse cx="322" cy="347" rx="6.4" ry="8.9" fill="#c8c8c8" opacity="0.8"/>
<ellipse cx="322" cy="347" rx="5.5" ry="8" fill="#3a3a3a" opacity="0.9"/>
<ellipse cx="300" cy="313" rx="4.4" ry="6.4" fill="#c8c8c8" opacity="0.8"/>
<ellipse cx="300" cy="313" rx="3.5" ry="5.5" fill="#3a3a3a" opacity="0.9"/>
<ellipse cx="336" cy="372" rx="5.9" ry="7.9" fill="#c8c8c8" opacity="0.8"/>
<ellipse cx="336" cy="372" rx="5" ry="7" fill="#3a3a3a" opacity="0.9"/>
<ellipse cx="313" cy="366" rx="4.9" ry="5.9" fill="#c8c8c8" opacity="0.8"/>
<ellipse cx="313" cy="366" rx="4" ry="5" fill="#3a3a3a" opacity="0.9"/>
<ellipse cx="292" cy="352" rx="4.9" ry="6.9" fill="#c8c8c8" opacity="0.8"/>
<ellipse cx="292" cy="352" rx="4" ry="6" fill="#3a3a3a" opacity="0.9"/>
<ellipse cx="328" cy="326" rx="4.9" ry="6.9" fill="#c8c8c8" opacity="0.8"/>
<ellipse cx="328" cy="326" rx="4" ry="6" fill="#3a3a3a" opacity="0.9"/>
</g>
<g filter="url(#soft2)">
<path d="M272,386 Q274,366 286,362 Q298,362 300,372 Q301,380 298,386 Z" fill="#262626" opacity="0.85"/>
<ellipse cx="273" cy="318" rx="4" ry="8" fill="#2a2a2a" opacity="0.6"/>
</g>
<g filter="url(#soft2)">
<path d="M344,298 Q349,320 351,345 Q353,365 355,385" stroke="#dadada" stroke-width="3.5" fill="none" opacity="0.7"/>
</g>
<filter id="grain7" color-interpolation-filters="sRGB" x="267.0" y="297.9" width="116.10" height="86.70" filterUnits="userSpaceOnUse"><feTurbulence type="fractalNoise" baseFrequency="0.25" numOctaves="3" seed="7" result="n"/><feColorMatrix in="n" type="matrix" values="0.6 0.6 0.6 0 -0.4  0.6 0.6 0.6 0 -0.4  0.6 0.6 0.6 0 -0.4  0 0 0 0 1"/></filter>
<rect x="267.0" y="297.9" width="116.10" height="86.70" filter="url(#grain7)" opacity="0.35" style="mix-blend-mode:overlay"/>
<line x1="366.00" y1="375.60" x2="374.50" y2="375.60" stroke="#ffffff" stroke-width="1.3" />
<text x="373.00" y="382.00" font-size="6.6" text-anchor="middle" font-weight="normal" fill="#ffffff" stroke="#ffffff" stroke-width="0.15" textLength="19" lengthAdjust="spacingAndGlyphs">10 μm</text>
</g>
<text x="122.30" y="413.30" font-size="5.6" text-anchor="middle" font-weight="bold" fill="#3a3a3a" stroke="#3a3a3a" stroke-width="0.15" textLength="73.4" lengthAdjust="spacingAndGlyphs">10%GelMA/10%Gel-Phe1:15</text>
<line x1="44.30" y1="418.00" x2="195.00" y2="418.00" stroke="#9a9a9a" stroke-width="0.8" />
<line x1="195.00" y1="418.00" x2="195.00" y2="531.00" stroke="#9a9a9a" stroke-width="0.8" />
<line x1="44.30" y1="418.00" x2="44.30" y2="533.50" stroke="#7a7a7a" stroke-width="0.9" />
<line x1="42.30" y1="531.00" x2="195.00" y2="531.00" stroke="#7a7a7a" stroke-width="0.9" />
<line x1="42.50" y1="531.00" x2="44.30" y2="531.00" stroke="#7a7a7a" stroke-width="0.8" />
<text x="39.00" y="532.90" font-size="5.3" text-anchor="end" font-weight="bold" fill="#3a3a3a" stroke="#3a3a3a" stroke-width="0.28" >10</text>
<line x1="42.50" y1="512.17" x2="44.30" y2="512.17" stroke="#7a7a7a" stroke-width="0.8" />
<text x="39.00" y="514.07" font-size="5.3" text-anchor="end" font-weight="bold" fill="#3a3a3a" stroke="#3a3a3a" stroke-width="0.28" >20</text>
<line x1="42.50" y1="493.33" x2="44.30" y2="493.33" stroke="#7a7a7a" stroke-width="0.8" />
<text x="39.00" y="495.23" font-size="5.3" text-anchor="end" font-weight="bold" fill="#3a3a3a" stroke="#3a3a3a" stroke-width="0.28" >30</text>
<line x1="42.50" y1="474.50" x2="44.30" y2="474.50" stroke="#7a7a7a" stroke-width="0.8" />
<text x="39.00" y="476.40" font-size="5.3" text-anchor="end" font-weight="bold" fill="#3a3a3a" stroke="#3a3a3a" stroke-width="0.28" >40</text>
<line x1="42.50" y1="455.67" x2="44.30" y2="455.67" stroke="#7a7a7a" stroke-width="0.8" />
<text x="39.00" y="457.57" font-size="5.3" text-anchor="end" font-weight="bold" fill="#3a3a3a" stroke="#3a3a3a" stroke-width="0.28" >50</text>
<line x1="42.50" y1="436.83" x2="44.30" y2="436.83" stroke="#7a7a7a" stroke-width="0.8" />
<text x="39.00" y="438.73" font-size="5.3" text-anchor="end" font-weight="bold" fill="#3a3a3a" stroke="#3a3a3a" stroke-width="0.28" >60</text>
<line x1="42.50" y1="418.00" x2="44.30" y2="418.00" stroke="#7a7a7a" stroke-width="0.8" />
<text x="39.00" y="419.90" font-size="5.3" text-anchor="end" font-weight="bold" fill="#3a3a3a" stroke="#3a3a3a" stroke-width="0.28" >70</text>
<text x="0.00" y="0.00" font-size="6.0" text-anchor="middle" font-weight="bold" fill="#3a3a3a" stroke="#3a3a3a" stroke-width="0.28" transform="translate(30.20,475.00) rotate(-90)" textLength="87.3" lengthAdjust="spacingAndGlyphs">Compressive modulus (kPa)</text>
<rect x="70.40" y="511.79" width="22.50" height="19.21" fill="#676767" stroke="#3a3a3a" stroke-width="0.6" />
<line x1="81.65" y1="508.30" x2="81.65" y2="515.50" stroke="#444" stroke-width="0.6" />
<line x1="80.35" y1="508.30" x2="82.95" y2="508.30" stroke="#444" stroke-width="0.6" />
<line x1="80.35" y1="515.50" x2="82.95" y2="515.50" stroke="#444" stroke-width="0.6" />
<line x1="81.65" y1="531.00" x2="81.65" y2="533.20" stroke="#7a7a7a" stroke-width="0.8" />
<text x="81.65" y="540.80" font-size="5.3" text-anchor="middle" font-weight="bold" fill="#2a2a2a" stroke="#2a2a2a" stroke-width="0.28" >UV 15s</text>
<rect x="108.00" y="481.09" width="22.60" height="49.91" fill="#f26262" stroke="#b04040" stroke-width="0.6" />
<line x1="119.30" y1="480.20" x2="119.30" y2="481.80" stroke="#444" stroke-width="0.6" />
<line x1="118.00" y1="480.20" x2="120.60" y2="480.20" stroke="#444" stroke-width="0.6" />
<line x1="118.00" y1="481.80" x2="120.60" y2="481.80" stroke="#444" stroke-width="0.6" />
<line x1="119.30" y1="531.00" x2="119.30" y2="533.20" stroke="#7a7a7a" stroke-width="0.8" />
<text x="119.30" y="540.80" font-size="5.3" text-anchor="middle" font-weight="bold" fill="#2a2a2a" stroke="#2a2a2a" stroke-width="0.28" >UV 30s</text>
<rect x="145.90" y="438.72" width="22.30" height="92.28" fill="#12de52" stroke="#0e9a3c" stroke-width="0.6" />
<line x1="157.05" y1="432.20" x2="157.05" y2="445.80" stroke="#444" stroke-width="0.6" />
<line x1="155.75" y1="432.20" x2="158.35" y2="432.20" stroke="#444" stroke-width="0.6" />
<line x1="155.75" y1="445.80" x2="158.35" y2="445.80" stroke="#444" stroke-width="0.6" />
<line x1="157.05" y1="531.00" x2="157.05" y2="533.20" stroke="#7a7a7a" stroke-width="0.8" />
<text x="157.05" y="540.80" font-size="5.3" text-anchor="middle" font-weight="bold" fill="#2a2a2a" stroke="#2a2a2a" stroke-width="0.28" >UV 60s</text>
<polyline points="80.5,467.8 80.5,463.3 118.6,463.3 118.6,467.8" fill="none" stroke="#666" stroke-width="0.6"/>
<text x="100.30" y="460.90" font-size="4.8" text-anchor="middle" font-weight="bold" fill="#555" stroke="#555" stroke-width="0.1" >*</text>
<polyline points="82.9,432.0 82.9,428.0 157.0,428.0 157.0,432.0" fill="none" stroke="#666" stroke-width="0.6"/>
<text x="119.40" y="426.00" font-size="4.8" text-anchor="middle" font-weight="bold" fill="#555" stroke="#555" stroke-width="0.1" >*</text>
<text x="305.40" y="413.30" font-size="5.6" text-anchor="middle" font-weight="bold" fill="#3a3a3a" stroke="#3a3a3a" stroke-width="0.15" textLength="74.8" lengthAdjust="spacingAndGlyphs">10%GelMA/10%Gel-Phe1:15</text>
<line x1="227.90" y1="416.70" x2="380.00" y2="416.70" stroke="#9a9a9a" stroke-width="0.8" />
<line x1="380.00" y1="416.70" x2="380.00" y2="531.20" stroke="#9a9a9a" stroke-width="0.8" />
<line x1="227.90" y1="416.70" x2="227.90" y2="533.70" stroke="#7a7a7a" stroke-width="0.9" />
<line x1="225.90" y1="531.20" x2="380.00" y2="531.20" stroke="#7a7a7a" stroke-width="0.9" />
<line x1="226.10" y1="531.20" x2="227.90" y2="531.20" stroke="#7a7a7a" stroke-width="0.8" />
<text x="223.60" y="533.10" font-size="5.9" text-anchor="end" font-weight="normal" fill="#3a3a3a" stroke="#3a3a3a" stroke-width="0.25" >0</text>
<line x1="226.10" y1="502.58" x2="227.90" y2="502.58" stroke="#7a7a7a" stroke-width="0.8" />
<text x="223.60" y="504.48" font-size="5.9" text-anchor="end" font-weight="normal" fill="#3a3a3a" stroke="#3a3a3a" stroke-width="0.25" >5</text>
<line x1="226.10" y1="473.95" x2="227.90" y2="473.95" stroke="#7a7a7a" stroke-width="0.8" />
<text x="223.60" y="475.85" font-size="5.9" text-anchor="end" font-weight="normal" fill="#3a3a3a" stroke="#3a3a3a" stroke-width="0.25" >10</text>
<line x1="226.10" y1="445.32" x2="227.90" y2="445.32" stroke="#7a7a7a" stroke-width="0.8" />
<text x="223.60" y="447.22" font-size="5.9" text-anchor="end" font-weight="normal" fill="#3a3a3a" stroke="#3a3a3a" stroke-width="0.25" >15</text>
<line x1="226.10" y1="416.70" x2="227.90" y2="416.70" stroke="#7a7a7a" stroke-width="0.8" />
<text x="223.60" y="418.60" font-size="5.9" text-anchor="end" font-weight="normal" fill="#3a3a3a" stroke="#3a3a3a" stroke-width="0.25" >20</text>
<text x="0.00" y="0.00" font-size="6.9" text-anchor="middle" font-weight="normal" fill="#3a3a3a" stroke="#3a3a3a" stroke-width="0.3" transform="translate(214.40,474.45) rotate(-90)" textLength="71.4" lengthAdjust="spacingAndGlyphs">Burst Pressure (kPa)</text>
<rect x="254.80" y="507.16" width="23.00" height="24.05" fill="#7c7c7c" stroke="#555555" stroke-width="0.6" />
<line x1="266.30" y1="498.70" x2="266.30" y2="515.00" stroke="#444" stroke-width="0.6" />
<line x1="265.00" y1="498.70" x2="267.60" y2="498.70" stroke="#444" stroke-width="0.6" />
<line x1="265.00" y1="515.00" x2="267.60" y2="515.00" stroke="#444" stroke-width="0.6" />
<line x1="266.30" y1="531.20" x2="266.30" y2="533.40" stroke="#7a7a7a" stroke-width="0.8" />
<text x="266.30" y="540.80" font-size="5.3" text-anchor="middle" font-weight="bold" fill="#2a2a2a" stroke="#2a2a2a" stroke-width="0.28" >UV 15s</text>
<rect x="292.60" y="483.11" width="23.00" height="48.09" fill="#ff8686" stroke="#d06060" stroke-width="0.6" />
<line x1="304.10" y1="469.80" x2="304.10" y2="496.60" stroke="#444" stroke-width="0.6" />
<line x1="302.80" y1="469.80" x2="305.40" y2="469.80" stroke="#444" stroke-width="0.6" />
<line x1="302.80" y1="496.60" x2="305.40" y2="496.60" stroke="#444" stroke-width="0.6" />
<line x1="304.10" y1="531.20" x2="304.10" y2="533.40" stroke="#7a7a7a" stroke-width="0.8" />
<text x="304.10" y="540.80" font-size="5.3" text-anchor="middle" font-weight="bold" fill="#2a2a2a" stroke="#2a2a2a" stroke-width="0.28" >UV 30s</text>
<rect x="330.40" y="465.94" width="22.50" height="65.27" fill="#98f498" stroke="#60c060" stroke-width="0.6" />
<line x1="341.65" y1="451.90" x2="341.65" y2="480.80" stroke="#444" stroke-width="0.6" />
<line x1="340.35" y1="451.90" x2="342.95" y2="451.90" stroke="#444" stroke-width="0.6" />
<line x1="340.35" y1="480.80" x2="342.95" y2="480.80" stroke="#444" stroke-width="0.6" />
<line x1="341.65" y1="531.20" x2="341.65" y2="533.40" stroke="#7a7a7a" stroke-width="0.8" />
<text x="341.65" y="540.80" font-size="5.3" text-anchor="middle" font-weight="bold" fill="#2a2a2a" stroke="#2a2a2a" stroke-width="0.28" >UV 60s</text>
<polyline points="265.4,453.4 265.4,448.4 303.0,448.4 303.0,453.4" fill="none" stroke="#666" stroke-width="0.6"/>
<text x="284.70" y="445.90" font-size="4.8" text-anchor="middle" font-weight="bold" fill="#555" stroke="#555" stroke-width="0.1" >*</text>
<polyline points="265.4,434.4 265.4,429.9 341.5,429.9 341.5,434.4" fill="none" stroke="#666" stroke-width="0.6"/>
<text x="304.30" y="425.70" font-size="4.8" text-anchor="middle" font-weight="bold" fill="#555" stroke="#555" stroke-width="0.1" >*</text>
</svg>
</body></html>
